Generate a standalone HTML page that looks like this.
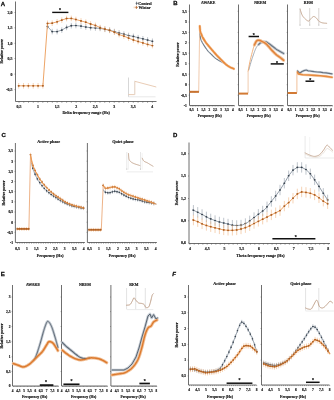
<!DOCTYPE html>
<html><head><meta charset="utf-8"><style>
html,body{margin:0;padding:0;background:#fff;}
body{width:334px;height:400px;overflow:hidden;}
svg{display:block;filter:blur(0.3px);}
</style></head><body>
<svg width="334" height="400" viewBox="0 0 334 400">
<rect width="334" height="400" fill="#fff"/>
<text x="0.8" y="5.7" font-family="Liberation Sans" font-size="6.0" font-weight="bold" font-style="normal" text-anchor="start" fill="#111" stroke="#111" stroke-width="0.3">A</text>
<line x1="15.5" y1="1.5" x2="15.5" y2="101.5" stroke="#4a4a4a" stroke-width="0.8" stroke-linecap="butt"/>
<line x1="14.5" y1="12.5" x2="15.5" y2="12.5" stroke="#4a4a4a" stroke-width="0.5" stroke-linecap="butt"/>
<text x="12.4" y="13.9" font-family="Liberation Serif" font-size="3.9" font-weight="bold" font-style="normal" text-anchor="end" fill="#151515" stroke="#151515" stroke-width="0.16">2,0</text>
<line x1="14.5" y1="27.8" x2="15.5" y2="27.8" stroke="#4a4a4a" stroke-width="0.5" stroke-linecap="butt"/>
<text x="12.4" y="29.2" font-family="Liberation Serif" font-size="3.9" font-weight="bold" font-style="normal" text-anchor="end" fill="#151515" stroke="#151515" stroke-width="0.16">1,5</text>
<line x1="14.5" y1="43.3" x2="15.5" y2="43.3" stroke="#4a4a4a" stroke-width="0.5" stroke-linecap="butt"/>
<text x="12.4" y="44.7" font-family="Liberation Serif" font-size="3.9" font-weight="bold" font-style="normal" text-anchor="end" fill="#151515" stroke="#151515" stroke-width="0.16">1,0</text>
<line x1="14.5" y1="58.5" x2="15.5" y2="58.5" stroke="#4a4a4a" stroke-width="0.5" stroke-linecap="butt"/>
<text x="12.4" y="59.9" font-family="Liberation Serif" font-size="3.9" font-weight="bold" font-style="normal" text-anchor="end" fill="#151515" stroke="#151515" stroke-width="0.16">0,5</text>
<line x1="14.5" y1="74.1" x2="15.5" y2="74.1" stroke="#4a4a4a" stroke-width="0.5" stroke-linecap="butt"/>
<text x="12.4" y="75.5" font-family="Liberation Serif" font-size="3.9" font-weight="bold" font-style="normal" text-anchor="end" fill="#151515" stroke="#151515" stroke-width="0.16">0</text>
<line x1="14.5" y1="89.6" x2="15.5" y2="89.6" stroke="#4a4a4a" stroke-width="0.5" stroke-linecap="butt"/>
<text x="12.4" y="91" font-family="Liberation Serif" font-size="3.9" font-weight="bold" font-style="normal" text-anchor="end" fill="#151515" stroke="#151515" stroke-width="0.16">-0,5</text>
<text x="3.2" y="51.3" font-family="Liberation Serif" font-size="3.8" font-weight="bold" font-style="normal" text-anchor="middle" fill="#151515" stroke="#151515" stroke-width="0.16" transform="rotate(-90 3.2 51.3)">Relative power</text>
<line x1="15.5" y1="101.5" x2="156.5" y2="101.5" stroke="#4a4a4a" stroke-width="0.8" stroke-linecap="butt"/>
<line x1="19" y1="101.5" x2="19" y2="102.8" stroke="#4a4a4a" stroke-width="0.5" stroke-linecap="butt"/>
<line x1="23.76" y1="101.5" x2="23.76" y2="102.8" stroke="#4a4a4a" stroke-width="0.5" stroke-linecap="butt"/>
<line x1="28.52" y1="101.5" x2="28.52" y2="102.8" stroke="#4a4a4a" stroke-width="0.5" stroke-linecap="butt"/>
<line x1="33.29" y1="101.5" x2="33.29" y2="102.8" stroke="#4a4a4a" stroke-width="0.5" stroke-linecap="butt"/>
<line x1="38.05" y1="101.5" x2="38.05" y2="102.8" stroke="#4a4a4a" stroke-width="0.5" stroke-linecap="butt"/>
<line x1="42.81" y1="101.5" x2="42.81" y2="102.8" stroke="#4a4a4a" stroke-width="0.5" stroke-linecap="butt"/>
<line x1="47.58" y1="101.5" x2="47.58" y2="102.8" stroke="#4a4a4a" stroke-width="0.5" stroke-linecap="butt"/>
<line x1="52.34" y1="101.5" x2="52.34" y2="102.8" stroke="#4a4a4a" stroke-width="0.5" stroke-linecap="butt"/>
<line x1="57.1" y1="101.5" x2="57.1" y2="102.8" stroke="#4a4a4a" stroke-width="0.5" stroke-linecap="butt"/>
<line x1="61.86" y1="101.5" x2="61.86" y2="102.8" stroke="#4a4a4a" stroke-width="0.5" stroke-linecap="butt"/>
<line x1="66.62" y1="101.5" x2="66.62" y2="102.8" stroke="#4a4a4a" stroke-width="0.5" stroke-linecap="butt"/>
<line x1="71.39" y1="101.5" x2="71.39" y2="102.8" stroke="#4a4a4a" stroke-width="0.5" stroke-linecap="butt"/>
<line x1="76.15" y1="101.5" x2="76.15" y2="102.8" stroke="#4a4a4a" stroke-width="0.5" stroke-linecap="butt"/>
<line x1="80.91" y1="101.5" x2="80.91" y2="102.8" stroke="#4a4a4a" stroke-width="0.5" stroke-linecap="butt"/>
<line x1="85.67" y1="101.5" x2="85.67" y2="102.8" stroke="#4a4a4a" stroke-width="0.5" stroke-linecap="butt"/>
<line x1="90.44" y1="101.5" x2="90.44" y2="102.8" stroke="#4a4a4a" stroke-width="0.5" stroke-linecap="butt"/>
<line x1="95.2" y1="101.5" x2="95.2" y2="102.8" stroke="#4a4a4a" stroke-width="0.5" stroke-linecap="butt"/>
<line x1="99.96" y1="101.5" x2="99.96" y2="102.8" stroke="#4a4a4a" stroke-width="0.5" stroke-linecap="butt"/>
<line x1="104.73" y1="101.5" x2="104.73" y2="102.8" stroke="#4a4a4a" stroke-width="0.5" stroke-linecap="butt"/>
<line x1="109.49" y1="101.5" x2="109.49" y2="102.8" stroke="#4a4a4a" stroke-width="0.5" stroke-linecap="butt"/>
<line x1="114.25" y1="101.5" x2="114.25" y2="102.8" stroke="#4a4a4a" stroke-width="0.5" stroke-linecap="butt"/>
<line x1="119.01" y1="101.5" x2="119.01" y2="102.8" stroke="#4a4a4a" stroke-width="0.5" stroke-linecap="butt"/>
<line x1="123.78" y1="101.5" x2="123.78" y2="102.8" stroke="#4a4a4a" stroke-width="0.5" stroke-linecap="butt"/>
<line x1="128.54" y1="101.5" x2="128.54" y2="102.8" stroke="#4a4a4a" stroke-width="0.5" stroke-linecap="butt"/>
<line x1="133.3" y1="101.5" x2="133.3" y2="102.8" stroke="#4a4a4a" stroke-width="0.5" stroke-linecap="butt"/>
<line x1="138.06" y1="101.5" x2="138.06" y2="102.8" stroke="#4a4a4a" stroke-width="0.5" stroke-linecap="butt"/>
<line x1="142.82" y1="101.5" x2="142.82" y2="102.8" stroke="#4a4a4a" stroke-width="0.5" stroke-linecap="butt"/>
<line x1="147.59" y1="101.5" x2="147.59" y2="102.8" stroke="#4a4a4a" stroke-width="0.5" stroke-linecap="butt"/>
<line x1="152.35" y1="101.5" x2="152.35" y2="102.8" stroke="#4a4a4a" stroke-width="0.5" stroke-linecap="butt"/>
<text x="19" y="107.55" font-family="Liberation Serif" font-size="3.9" font-weight="bold" font-style="normal" text-anchor="middle" fill="#151515" stroke="#151515" stroke-width="0.16">0,5</text>
<text x="38.05" y="107.55" font-family="Liberation Serif" font-size="3.9" font-weight="bold" font-style="normal" text-anchor="middle" fill="#151515" stroke="#151515" stroke-width="0.16">1</text>
<text x="57.1" y="107.55" font-family="Liberation Serif" font-size="3.9" font-weight="bold" font-style="normal" text-anchor="middle" fill="#151515" stroke="#151515" stroke-width="0.16">1,5</text>
<text x="76.15" y="107.55" font-family="Liberation Serif" font-size="3.9" font-weight="bold" font-style="normal" text-anchor="middle" fill="#151515" stroke="#151515" stroke-width="0.16">2</text>
<text x="95.2" y="107.55" font-family="Liberation Serif" font-size="3.9" font-weight="bold" font-style="normal" text-anchor="middle" fill="#151515" stroke="#151515" stroke-width="0.16">2,5</text>
<text x="114.25" y="107.55" font-family="Liberation Serif" font-size="3.9" font-weight="bold" font-style="normal" text-anchor="middle" fill="#151515" stroke="#151515" stroke-width="0.16">3</text>
<text x="133.3" y="107.55" font-family="Liberation Serif" font-size="3.9" font-weight="bold" font-style="normal" text-anchor="middle" fill="#151515" stroke="#151515" stroke-width="0.16">3,5</text>
<text x="152.35" y="107.55" font-family="Liberation Serif" font-size="3.9" font-weight="bold" font-style="normal" text-anchor="middle" fill="#151515" stroke="#151515" stroke-width="0.16">4</text>
<text x="86.2" y="114" font-family="Liberation Serif" font-size="4.1" font-weight="bold" font-style="normal" text-anchor="middle" fill="#151515" stroke="#151515" stroke-width="0.16">Delta frequency range (Hz)</text>
<line x1="47.5" y1="23.6" x2="47.5" y2="29.2" stroke="#8a95a1" stroke-width="0.55" stroke-linecap="butt"/>
<line x1="52.2" y1="28.8" x2="52.2" y2="34.4" stroke="#8a95a1" stroke-width="0.55" stroke-linecap="butt"/>
<line x1="57.1" y1="28.8" x2="57.1" y2="34.4" stroke="#8a95a1" stroke-width="0.55" stroke-linecap="butt"/>
<line x1="61.8" y1="27.3" x2="61.8" y2="32.9" stroke="#8a95a1" stroke-width="0.55" stroke-linecap="butt"/>
<line x1="66.6" y1="24.6" x2="66.6" y2="30.2" stroke="#8a95a1" stroke-width="0.55" stroke-linecap="butt"/>
<line x1="71.3" y1="22.9" x2="71.3" y2="28.5" stroke="#8a95a1" stroke-width="0.55" stroke-linecap="butt"/>
<line x1="75.9" y1="22.7" x2="75.9" y2="28.3" stroke="#8a95a1" stroke-width="0.55" stroke-linecap="butt"/>
<line x1="81" y1="23.3" x2="81" y2="28.9" stroke="#8a95a1" stroke-width="0.55" stroke-linecap="butt"/>
<line x1="85.8" y1="24.2" x2="85.8" y2="29.8" stroke="#8a95a1" stroke-width="0.55" stroke-linecap="butt"/>
<line x1="90.6" y1="24.9" x2="90.6" y2="30.5" stroke="#8a95a1" stroke-width="0.55" stroke-linecap="butt"/>
<line x1="95.4" y1="25.2" x2="95.4" y2="30.8" stroke="#8a95a1" stroke-width="0.55" stroke-linecap="butt"/>
<line x1="100.1" y1="25.6" x2="100.1" y2="31.2" stroke="#8a95a1" stroke-width="0.55" stroke-linecap="butt"/>
<line x1="104.9" y1="26.5" x2="104.9" y2="32.1" stroke="#8a95a1" stroke-width="0.55" stroke-linecap="butt"/>
<line x1="109.6" y1="27.4" x2="109.6" y2="33" stroke="#8a95a1" stroke-width="0.55" stroke-linecap="butt"/>
<line x1="114.4" y1="28.8" x2="114.4" y2="34.4" stroke="#8a95a1" stroke-width="0.55" stroke-linecap="butt"/>
<line x1="119.1" y1="30.1" x2="119.1" y2="35.7" stroke="#8a95a1" stroke-width="0.55" stroke-linecap="butt"/>
<line x1="123.9" y1="31.3" x2="123.9" y2="36.9" stroke="#8a95a1" stroke-width="0.55" stroke-linecap="butt"/>
<line x1="128.6" y1="32.7" x2="128.6" y2="38.3" stroke="#8a95a1" stroke-width="0.55" stroke-linecap="butt"/>
<line x1="133.4" y1="33.6" x2="133.4" y2="39.2" stroke="#8a95a1" stroke-width="0.55" stroke-linecap="butt"/>
<line x1="138.1" y1="34.9" x2="138.1" y2="40.5" stroke="#8a95a1" stroke-width="0.55" stroke-linecap="butt"/>
<line x1="142.9" y1="36" x2="142.9" y2="41.6" stroke="#8a95a1" stroke-width="0.55" stroke-linecap="butt"/>
<line x1="147.6" y1="37.2" x2="147.6" y2="42.8" stroke="#8a95a1" stroke-width="0.55" stroke-linecap="butt"/>
<line x1="152.4" y1="38.5" x2="152.4" y2="44.1" stroke="#8a95a1" stroke-width="0.55" stroke-linecap="butt"/>
<polyline fill="none" stroke="#7f8b98" stroke-width="0.8" stroke-linejoin="round" stroke-linecap="round" points="47.5,26.4 52.2,31.6 57.1,31.6 61.8,30.1 66.6,27.4 71.3,25.7 75.9,25.5 81,26.1 85.8,27 90.6,27.7 95.4,28 100.1,28.4 104.9,29.3 109.6,30.2 114.4,31.6 119.1,32.9 123.9,34.1 128.6,35.5 133.4,36.4 138.1,37.7 142.9,38.8 147.6,40 152.4,41.3"/>
<line x1="46.5" y1="26.4" x2="48.5" y2="26.4" stroke="#36404b" stroke-width="0.55" stroke-linecap="butt"/>
<line x1="51.2" y1="31.6" x2="53.2" y2="31.6" stroke="#36404b" stroke-width="0.55" stroke-linecap="butt"/>
<line x1="56.1" y1="31.6" x2="58.1" y2="31.6" stroke="#36404b" stroke-width="0.55" stroke-linecap="butt"/>
<line x1="60.8" y1="30.1" x2="62.8" y2="30.1" stroke="#36404b" stroke-width="0.55" stroke-linecap="butt"/>
<line x1="65.6" y1="27.4" x2="67.6" y2="27.4" stroke="#36404b" stroke-width="0.55" stroke-linecap="butt"/>
<line x1="70.3" y1="25.7" x2="72.3" y2="25.7" stroke="#36404b" stroke-width="0.55" stroke-linecap="butt"/>
<line x1="74.9" y1="25.5" x2="76.9" y2="25.5" stroke="#36404b" stroke-width="0.55" stroke-linecap="butt"/>
<line x1="80" y1="26.1" x2="82" y2="26.1" stroke="#36404b" stroke-width="0.55" stroke-linecap="butt"/>
<line x1="84.8" y1="27" x2="86.8" y2="27" stroke="#36404b" stroke-width="0.55" stroke-linecap="butt"/>
<line x1="89.6" y1="27.7" x2="91.6" y2="27.7" stroke="#36404b" stroke-width="0.55" stroke-linecap="butt"/>
<line x1="94.4" y1="28" x2="96.4" y2="28" stroke="#36404b" stroke-width="0.55" stroke-linecap="butt"/>
<line x1="99.1" y1="28.4" x2="101.1" y2="28.4" stroke="#36404b" stroke-width="0.55" stroke-linecap="butt"/>
<line x1="103.9" y1="29.3" x2="105.9" y2="29.3" stroke="#36404b" stroke-width="0.55" stroke-linecap="butt"/>
<line x1="108.6" y1="30.2" x2="110.6" y2="30.2" stroke="#36404b" stroke-width="0.55" stroke-linecap="butt"/>
<line x1="113.4" y1="31.6" x2="115.4" y2="31.6" stroke="#36404b" stroke-width="0.55" stroke-linecap="butt"/>
<line x1="118.1" y1="32.9" x2="120.1" y2="32.9" stroke="#36404b" stroke-width="0.55" stroke-linecap="butt"/>
<line x1="122.9" y1="34.1" x2="124.9" y2="34.1" stroke="#36404b" stroke-width="0.55" stroke-linecap="butt"/>
<line x1="127.6" y1="35.5" x2="129.6" y2="35.5" stroke="#36404b" stroke-width="0.55" stroke-linecap="butt"/>
<line x1="132.4" y1="36.4" x2="134.4" y2="36.4" stroke="#36404b" stroke-width="0.55" stroke-linecap="butt"/>
<line x1="137.1" y1="37.7" x2="139.1" y2="37.7" stroke="#36404b" stroke-width="0.55" stroke-linecap="butt"/>
<line x1="141.9" y1="38.8" x2="143.9" y2="38.8" stroke="#36404b" stroke-width="0.55" stroke-linecap="butt"/>
<line x1="146.6" y1="40" x2="148.6" y2="40" stroke="#36404b" stroke-width="0.55" stroke-linecap="butt"/>
<line x1="151.4" y1="41.3" x2="153.4" y2="41.3" stroke="#36404b" stroke-width="0.55" stroke-linecap="butt"/>
<circle cx="47.5" cy="26.4" r="0.85" fill="#36404b"/>
<circle cx="52.2" cy="31.6" r="0.85" fill="#36404b"/>
<circle cx="57.1" cy="31.6" r="0.85" fill="#36404b"/>
<circle cx="61.8" cy="30.1" r="0.85" fill="#36404b"/>
<circle cx="66.6" cy="27.4" r="0.85" fill="#36404b"/>
<circle cx="71.3" cy="25.7" r="0.85" fill="#36404b"/>
<circle cx="75.9" cy="25.5" r="0.85" fill="#36404b"/>
<circle cx="81" cy="26.1" r="0.85" fill="#36404b"/>
<circle cx="85.8" cy="27" r="0.85" fill="#36404b"/>
<circle cx="90.6" cy="27.7" r="0.85" fill="#36404b"/>
<circle cx="95.4" cy="28" r="0.85" fill="#36404b"/>
<circle cx="100.1" cy="28.4" r="0.85" fill="#36404b"/>
<circle cx="104.9" cy="29.3" r="0.85" fill="#36404b"/>
<circle cx="109.6" cy="30.2" r="0.85" fill="#36404b"/>
<circle cx="114.4" cy="31.6" r="0.85" fill="#36404b"/>
<circle cx="119.1" cy="32.9" r="0.85" fill="#36404b"/>
<circle cx="123.9" cy="34.1" r="0.85" fill="#36404b"/>
<circle cx="128.6" cy="35.5" r="0.85" fill="#36404b"/>
<circle cx="133.4" cy="36.4" r="0.85" fill="#36404b"/>
<circle cx="138.1" cy="37.7" r="0.85" fill="#36404b"/>
<circle cx="142.9" cy="38.8" r="0.85" fill="#36404b"/>
<circle cx="147.6" cy="40" r="0.85" fill="#36404b"/>
<circle cx="152.4" cy="41.3" r="0.85" fill="#36404b"/>
<line x1="18.7" y1="83" x2="18.7" y2="88.6" stroke="#eeae78" stroke-width="0.55" stroke-linecap="butt"/>
<line x1="23.54" y1="83" x2="23.54" y2="88.6" stroke="#eeae78" stroke-width="0.55" stroke-linecap="butt"/>
<line x1="28.38" y1="83" x2="28.38" y2="88.6" stroke="#eeae78" stroke-width="0.55" stroke-linecap="butt"/>
<line x1="33.22" y1="83" x2="33.22" y2="88.6" stroke="#eeae78" stroke-width="0.55" stroke-linecap="butt"/>
<line x1="38.06" y1="83" x2="38.06" y2="88.6" stroke="#eeae78" stroke-width="0.55" stroke-linecap="butt"/>
<line x1="42.9" y1="83" x2="42.9" y2="88.6" stroke="#eeae78" stroke-width="0.55" stroke-linecap="butt"/>
<line x1="47.5" y1="20.6" x2="47.5" y2="26.2" stroke="#eeae78" stroke-width="0.55" stroke-linecap="butt"/>
<line x1="52.2" y1="20.4" x2="52.2" y2="26" stroke="#eeae78" stroke-width="0.55" stroke-linecap="butt"/>
<line x1="57.1" y1="19" x2="57.1" y2="24.6" stroke="#eeae78" stroke-width="0.55" stroke-linecap="butt"/>
<line x1="61.8" y1="17.3" x2="61.8" y2="22.9" stroke="#eeae78" stroke-width="0.55" stroke-linecap="butt"/>
<line x1="66.6" y1="15.7" x2="66.6" y2="21.3" stroke="#eeae78" stroke-width="0.55" stroke-linecap="butt"/>
<line x1="71.3" y1="15.6" x2="71.3" y2="21.2" stroke="#eeae78" stroke-width="0.55" stroke-linecap="butt"/>
<line x1="75.9" y1="16.7" x2="75.9" y2="22.3" stroke="#eeae78" stroke-width="0.55" stroke-linecap="butt"/>
<line x1="81" y1="18.1" x2="81" y2="23.7" stroke="#eeae78" stroke-width="0.55" stroke-linecap="butt"/>
<line x1="85.8" y1="19.4" x2="85.8" y2="25" stroke="#eeae78" stroke-width="0.55" stroke-linecap="butt"/>
<line x1="90.6" y1="21.2" x2="90.6" y2="26.8" stroke="#eeae78" stroke-width="0.55" stroke-linecap="butt"/>
<line x1="95.4" y1="22.6" x2="95.4" y2="28.2" stroke="#eeae78" stroke-width="0.55" stroke-linecap="butt"/>
<line x1="100.1" y1="24.8" x2="100.1" y2="30.4" stroke="#eeae78" stroke-width="0.55" stroke-linecap="butt"/>
<line x1="104.9" y1="26.3" x2="104.9" y2="31.9" stroke="#eeae78" stroke-width="0.55" stroke-linecap="butt"/>
<line x1="109.6" y1="27.6" x2="109.6" y2="33.2" stroke="#eeae78" stroke-width="0.55" stroke-linecap="butt"/>
<line x1="114.4" y1="29.4" x2="114.4" y2="35" stroke="#eeae78" stroke-width="0.55" stroke-linecap="butt"/>
<line x1="119.1" y1="31.8" x2="119.1" y2="37.4" stroke="#eeae78" stroke-width="0.55" stroke-linecap="butt"/>
<line x1="123.9" y1="33.3" x2="123.9" y2="38.9" stroke="#eeae78" stroke-width="0.55" stroke-linecap="butt"/>
<line x1="128.6" y1="35.3" x2="128.6" y2="40.9" stroke="#eeae78" stroke-width="0.55" stroke-linecap="butt"/>
<line x1="133.4" y1="37.2" x2="133.4" y2="42.8" stroke="#eeae78" stroke-width="0.55" stroke-linecap="butt"/>
<line x1="138.1" y1="38.7" x2="138.1" y2="44.3" stroke="#eeae78" stroke-width="0.55" stroke-linecap="butt"/>
<line x1="142.9" y1="40.1" x2="142.9" y2="45.7" stroke="#eeae78" stroke-width="0.55" stroke-linecap="butt"/>
<line x1="147.6" y1="41.6" x2="147.6" y2="47.2" stroke="#eeae78" stroke-width="0.55" stroke-linecap="butt"/>
<line x1="152.4" y1="42.8" x2="152.4" y2="48.4" stroke="#eeae78" stroke-width="0.55" stroke-linecap="butt"/>
<polyline fill="none" stroke="#eb9a55" stroke-width="0.9" stroke-linejoin="round" stroke-linecap="round" points="18.7,85.8 23.54,85.8 28.38,85.8 33.22,85.8 38.06,85.8 42.9,85.8 47.5,23.4 52.2,23.2 57.1,21.8 61.8,20.1 66.6,18.5 71.3,18.4 75.9,19.5 81,20.9 85.8,22.2 90.6,24 95.4,25.4 100.1,27.6 104.9,29.1 109.6,30.4 114.4,32.2 119.1,34.6 123.9,36.1 128.6,38.1 133.4,40 138.1,41.5 142.9,42.9 147.6,44.4 152.4,45.6"/>
<line x1="17.7" y1="85.8" x2="19.7" y2="85.8" stroke="#a85c22" stroke-width="0.55" stroke-linecap="butt"/>
<line x1="22.54" y1="85.8" x2="24.54" y2="85.8" stroke="#a85c22" stroke-width="0.55" stroke-linecap="butt"/>
<line x1="27.38" y1="85.8" x2="29.38" y2="85.8" stroke="#a85c22" stroke-width="0.55" stroke-linecap="butt"/>
<line x1="32.22" y1="85.8" x2="34.22" y2="85.8" stroke="#a85c22" stroke-width="0.55" stroke-linecap="butt"/>
<line x1="37.06" y1="85.8" x2="39.06" y2="85.8" stroke="#a85c22" stroke-width="0.55" stroke-linecap="butt"/>
<line x1="41.9" y1="85.8" x2="43.9" y2="85.8" stroke="#a85c22" stroke-width="0.55" stroke-linecap="butt"/>
<line x1="46.5" y1="23.4" x2="48.5" y2="23.4" stroke="#a85c22" stroke-width="0.55" stroke-linecap="butt"/>
<line x1="51.2" y1="23.2" x2="53.2" y2="23.2" stroke="#a85c22" stroke-width="0.55" stroke-linecap="butt"/>
<line x1="56.1" y1="21.8" x2="58.1" y2="21.8" stroke="#a85c22" stroke-width="0.55" stroke-linecap="butt"/>
<line x1="60.8" y1="20.1" x2="62.8" y2="20.1" stroke="#a85c22" stroke-width="0.55" stroke-linecap="butt"/>
<line x1="65.6" y1="18.5" x2="67.6" y2="18.5" stroke="#a85c22" stroke-width="0.55" stroke-linecap="butt"/>
<line x1="70.3" y1="18.4" x2="72.3" y2="18.4" stroke="#a85c22" stroke-width="0.55" stroke-linecap="butt"/>
<line x1="74.9" y1="19.5" x2="76.9" y2="19.5" stroke="#a85c22" stroke-width="0.55" stroke-linecap="butt"/>
<line x1="80" y1="20.9" x2="82" y2="20.9" stroke="#a85c22" stroke-width="0.55" stroke-linecap="butt"/>
<line x1="84.8" y1="22.2" x2="86.8" y2="22.2" stroke="#a85c22" stroke-width="0.55" stroke-linecap="butt"/>
<line x1="89.6" y1="24" x2="91.6" y2="24" stroke="#a85c22" stroke-width="0.55" stroke-linecap="butt"/>
<line x1="94.4" y1="25.4" x2="96.4" y2="25.4" stroke="#a85c22" stroke-width="0.55" stroke-linecap="butt"/>
<line x1="99.1" y1="27.6" x2="101.1" y2="27.6" stroke="#a85c22" stroke-width="0.55" stroke-linecap="butt"/>
<line x1="103.9" y1="29.1" x2="105.9" y2="29.1" stroke="#a85c22" stroke-width="0.55" stroke-linecap="butt"/>
<line x1="108.6" y1="30.4" x2="110.6" y2="30.4" stroke="#a85c22" stroke-width="0.55" stroke-linecap="butt"/>
<line x1="113.4" y1="32.2" x2="115.4" y2="32.2" stroke="#a85c22" stroke-width="0.55" stroke-linecap="butt"/>
<line x1="118.1" y1="34.6" x2="120.1" y2="34.6" stroke="#a85c22" stroke-width="0.55" stroke-linecap="butt"/>
<line x1="122.9" y1="36.1" x2="124.9" y2="36.1" stroke="#a85c22" stroke-width="0.55" stroke-linecap="butt"/>
<line x1="127.6" y1="38.1" x2="129.6" y2="38.1" stroke="#a85c22" stroke-width="0.55" stroke-linecap="butt"/>
<line x1="132.4" y1="40" x2="134.4" y2="40" stroke="#a85c22" stroke-width="0.55" stroke-linecap="butt"/>
<line x1="137.1" y1="41.5" x2="139.1" y2="41.5" stroke="#a85c22" stroke-width="0.55" stroke-linecap="butt"/>
<line x1="141.9" y1="42.9" x2="143.9" y2="42.9" stroke="#a85c22" stroke-width="0.55" stroke-linecap="butt"/>
<line x1="146.6" y1="44.4" x2="148.6" y2="44.4" stroke="#a85c22" stroke-width="0.55" stroke-linecap="butt"/>
<line x1="151.4" y1="45.6" x2="153.4" y2="45.6" stroke="#a85c22" stroke-width="0.55" stroke-linecap="butt"/>
<circle cx="18.7" cy="85.8" r="0.9" fill="#a85c22"/>
<circle cx="23.54" cy="85.8" r="0.9" fill="#a85c22"/>
<circle cx="28.38" cy="85.8" r="0.9" fill="#a85c22"/>
<circle cx="33.22" cy="85.8" r="0.9" fill="#a85c22"/>
<circle cx="38.06" cy="85.8" r="0.9" fill="#a85c22"/>
<circle cx="42.9" cy="85.8" r="0.9" fill="#a85c22"/>
<circle cx="47.5" cy="23.4" r="0.9" fill="#a85c22"/>
<circle cx="52.2" cy="23.2" r="0.9" fill="#a85c22"/>
<circle cx="57.1" cy="21.8" r="0.9" fill="#a85c22"/>
<circle cx="61.8" cy="20.1" r="0.9" fill="#a85c22"/>
<circle cx="66.6" cy="18.5" r="0.9" fill="#a85c22"/>
<circle cx="71.3" cy="18.4" r="0.9" fill="#a85c22"/>
<circle cx="75.9" cy="19.5" r="0.9" fill="#a85c22"/>
<circle cx="81" cy="20.9" r="0.9" fill="#a85c22"/>
<circle cx="85.8" cy="22.2" r="0.9" fill="#a85c22"/>
<circle cx="90.6" cy="24" r="0.9" fill="#a85c22"/>
<circle cx="95.4" cy="25.4" r="0.9" fill="#a85c22"/>
<circle cx="100.1" cy="27.6" r="0.9" fill="#a85c22"/>
<circle cx="104.9" cy="29.1" r="0.9" fill="#a85c22"/>
<circle cx="109.6" cy="30.4" r="0.9" fill="#a85c22"/>
<circle cx="114.4" cy="32.2" r="0.9" fill="#a85c22"/>
<circle cx="119.1" cy="34.6" r="0.9" fill="#a85c22"/>
<circle cx="123.9" cy="36.1" r="0.9" fill="#a85c22"/>
<circle cx="128.6" cy="38.1" r="0.9" fill="#a85c22"/>
<circle cx="133.4" cy="40" r="0.9" fill="#a85c22"/>
<circle cx="138.1" cy="41.5" r="0.9" fill="#a85c22"/>
<circle cx="142.9" cy="42.9" r="0.9" fill="#a85c22"/>
<circle cx="147.6" cy="44.4" r="0.9" fill="#a85c22"/>
<circle cx="152.4" cy="45.6" r="0.9" fill="#a85c22"/>
<line x1="52.2" y1="12.4" x2="68.4" y2="12.4" stroke="#111" stroke-width="1.4" stroke-linecap="butt"/>
<text x="60.1" y="11.9" font-family="Liberation Sans" font-size="5" font-weight="bold" font-style="normal" text-anchor="middle" fill="#111" stroke="#111" stroke-width="0.16">*</text>
<line x1="136.5" y1="1.7" x2="136.5" y2="5" stroke="#3d4753" stroke-width="0.6" stroke-linecap="butt"/>
<line x1="135.6" y1="3.3" x2="138.2" y2="3.3" stroke="#3d4753" stroke-width="0.7" stroke-linecap="butt"/>
<text x="138.2" y="4.7" font-family="Liberation Serif" font-size="4.1" font-weight="bold" font-style="normal" text-anchor="start" fill="#151515" stroke="#151515" stroke-width="0.16">Control</text>
<line x1="133.5" y1="7.4" x2="135.8" y2="7.4" stroke="#f6dcc6" stroke-width="1.6" stroke-linecap="butt"/>
<line x1="136.4" y1="5.8" x2="136.4" y2="9" stroke="#b4652a" stroke-width="0.8" stroke-linecap="butt"/>
<line x1="135.5" y1="7.4" x2="137.8" y2="7.4" stroke="#b4652a" stroke-width="0.8" stroke-linecap="butt"/>
<text x="138.6" y="8.9" font-family="Liberation Serif" font-size="4.1" font-weight="bold" font-style="normal" text-anchor="start" fill="#151515" stroke="#151515" stroke-width="0.16">Wistar</text>
<line x1="128.5" y1="77.5" x2="128.5" y2="96.8" stroke="#c6c6c6" stroke-width="0.7" stroke-linecap="butt"/>
<line x1="128.5" y1="96.8" x2="155.5" y2="96.8" stroke="#d9d9d9" stroke-width="0.6" stroke-linecap="butt"/>
<polyline fill="none" stroke="#e6c6ad" stroke-width="0.9" stroke-linejoin="round" stroke-linecap="round" points="128.8,94.6 134.8,94.6 134.8,81.3 155.9,86.9"/>
<line x1="134.5" y1="80.5" x2="134.5" y2="95" stroke="#dedede" stroke-width="0.4" stroke-linecap="butt"/>
<text x="173.2" y="5.4" font-family="Liberation Sans" font-size="6.0" font-weight="bold" font-style="normal" text-anchor="start" fill="#111" stroke="#111" stroke-width="0.3">B</text>
<line x1="189.5" y1="4.5" x2="189.5" y2="105.5" stroke="#4a4a4a" stroke-width="0.8" stroke-linecap="butt"/>
<line x1="188.6" y1="11.25" x2="189.5" y2="11.25" stroke="#4a4a4a" stroke-width="0.45" stroke-linecap="butt"/>
<line x1="188.6" y1="22" x2="189.5" y2="22" stroke="#4a4a4a" stroke-width="0.45" stroke-linecap="butt"/>
<line x1="188.6" y1="32.4" x2="189.5" y2="32.4" stroke="#4a4a4a" stroke-width="0.45" stroke-linecap="butt"/>
<line x1="188.6" y1="42.8" x2="189.5" y2="42.8" stroke="#4a4a4a" stroke-width="0.45" stroke-linecap="butt"/>
<line x1="188.6" y1="53.2" x2="189.5" y2="53.2" stroke="#4a4a4a" stroke-width="0.45" stroke-linecap="butt"/>
<line x1="188.6" y1="63.7" x2="189.5" y2="63.7" stroke="#4a4a4a" stroke-width="0.45" stroke-linecap="butt"/>
<line x1="188.6" y1="74.2" x2="189.5" y2="74.2" stroke="#4a4a4a" stroke-width="0.45" stroke-linecap="butt"/>
<line x1="188.6" y1="84.7" x2="189.5" y2="84.7" stroke="#4a4a4a" stroke-width="0.45" stroke-linecap="butt"/>
<line x1="188.6" y1="95.2" x2="189.5" y2="95.2" stroke="#4a4a4a" stroke-width="0.45" stroke-linecap="butt"/>
<line x1="238.5" y1="4.5" x2="238.5" y2="105.5" stroke="#4a4a4a" stroke-width="0.8" stroke-linecap="butt"/>
<line x1="237.6" y1="11.25" x2="238.5" y2="11.25" stroke="#4a4a4a" stroke-width="0.45" stroke-linecap="butt"/>
<line x1="237.6" y1="22" x2="238.5" y2="22" stroke="#4a4a4a" stroke-width="0.45" stroke-linecap="butt"/>
<line x1="237.6" y1="32.4" x2="238.5" y2="32.4" stroke="#4a4a4a" stroke-width="0.45" stroke-linecap="butt"/>
<line x1="237.6" y1="42.8" x2="238.5" y2="42.8" stroke="#4a4a4a" stroke-width="0.45" stroke-linecap="butt"/>
<line x1="237.6" y1="53.2" x2="238.5" y2="53.2" stroke="#4a4a4a" stroke-width="0.45" stroke-linecap="butt"/>
<line x1="237.6" y1="63.7" x2="238.5" y2="63.7" stroke="#4a4a4a" stroke-width="0.45" stroke-linecap="butt"/>
<line x1="237.6" y1="74.2" x2="238.5" y2="74.2" stroke="#4a4a4a" stroke-width="0.45" stroke-linecap="butt"/>
<line x1="237.6" y1="84.7" x2="238.5" y2="84.7" stroke="#4a4a4a" stroke-width="0.45" stroke-linecap="butt"/>
<line x1="237.6" y1="95.2" x2="238.5" y2="95.2" stroke="#4a4a4a" stroke-width="0.45" stroke-linecap="butt"/>
<line x1="287.5" y1="4.5" x2="287.5" y2="105.5" stroke="#4a4a4a" stroke-width="0.8" stroke-linecap="butt"/>
<line x1="286.6" y1="11.25" x2="287.5" y2="11.25" stroke="#4a4a4a" stroke-width="0.45" stroke-linecap="butt"/>
<line x1="286.6" y1="22" x2="287.5" y2="22" stroke="#4a4a4a" stroke-width="0.45" stroke-linecap="butt"/>
<line x1="286.6" y1="32.4" x2="287.5" y2="32.4" stroke="#4a4a4a" stroke-width="0.45" stroke-linecap="butt"/>
<line x1="286.6" y1="42.8" x2="287.5" y2="42.8" stroke="#4a4a4a" stroke-width="0.45" stroke-linecap="butt"/>
<line x1="286.6" y1="53.2" x2="287.5" y2="53.2" stroke="#4a4a4a" stroke-width="0.45" stroke-linecap="butt"/>
<line x1="286.6" y1="63.7" x2="287.5" y2="63.7" stroke="#4a4a4a" stroke-width="0.45" stroke-linecap="butt"/>
<line x1="286.6" y1="74.2" x2="287.5" y2="74.2" stroke="#4a4a4a" stroke-width="0.45" stroke-linecap="butt"/>
<line x1="286.6" y1="84.7" x2="287.5" y2="84.7" stroke="#4a4a4a" stroke-width="0.45" stroke-linecap="butt"/>
<line x1="286.6" y1="95.2" x2="287.5" y2="95.2" stroke="#4a4a4a" stroke-width="0.45" stroke-linecap="butt"/>
<text x="186.8" y="12.55" font-family="Liberation Serif" font-size="3.6" font-weight="bold" font-style="normal" text-anchor="end" fill="#151515" stroke="#151515" stroke-width="0.16">3,5</text>
<text x="186.8" y="23.3" font-family="Liberation Serif" font-size="3.6" font-weight="bold" font-style="normal" text-anchor="end" fill="#151515" stroke="#151515" stroke-width="0.16">3</text>
<text x="186.8" y="33.7" font-family="Liberation Serif" font-size="3.6" font-weight="bold" font-style="normal" text-anchor="end" fill="#151515" stroke="#151515" stroke-width="0.16">2,5</text>
<text x="186.8" y="44.1" font-family="Liberation Serif" font-size="3.6" font-weight="bold" font-style="normal" text-anchor="end" fill="#151515" stroke="#151515" stroke-width="0.16">2</text>
<text x="186.8" y="54.5" font-family="Liberation Serif" font-size="3.6" font-weight="bold" font-style="normal" text-anchor="end" fill="#151515" stroke="#151515" stroke-width="0.16">1,5</text>
<text x="186.8" y="65" font-family="Liberation Serif" font-size="3.6" font-weight="bold" font-style="normal" text-anchor="end" fill="#151515" stroke="#151515" stroke-width="0.16">1</text>
<text x="186.8" y="75.5" font-family="Liberation Serif" font-size="3.6" font-weight="bold" font-style="normal" text-anchor="end" fill="#151515" stroke="#151515" stroke-width="0.16">0,5</text>
<text x="186.8" y="86" font-family="Liberation Serif" font-size="3.6" font-weight="bold" font-style="normal" text-anchor="end" fill="#151515" stroke="#151515" stroke-width="0.16">0</text>
<text x="186.8" y="96.5" font-family="Liberation Serif" font-size="3.6" font-weight="bold" font-style="normal" text-anchor="end" fill="#151515" stroke="#151515" stroke-width="0.16">-0,5</text>
<text x="186.8" y="106.8" font-family="Liberation Serif" font-size="3.6" font-weight="bold" font-style="normal" text-anchor="end" fill="#151515" stroke="#151515" stroke-width="0.16">-1</text>
<text x="179" y="54.5" font-family="Liberation Serif" font-size="3.8" font-weight="bold" font-style="normal" text-anchor="middle" fill="#151515" stroke="#151515" stroke-width="0.16" transform="rotate(-90 179 54.5)">Relative power</text>
<text x="208.2" y="4" font-family="Liberation Serif" font-size="3.9" font-weight="bold" font-style="normal" text-anchor="middle" fill="#151515" stroke="#151515" stroke-width="0.16">AWAKE</text>
<line x1="189.5" y1="105.5" x2="234.5" y2="105.5" stroke="#4a4a4a" stroke-width="0.8" stroke-linecap="butt"/>
<line x1="190.8" y1="105.5" x2="190.8" y2="106.6" stroke="#4a4a4a" stroke-width="0.45" stroke-linecap="butt"/>
<line x1="192.36" y1="105.5" x2="192.36" y2="106.6" stroke="#4a4a4a" stroke-width="0.45" stroke-linecap="butt"/>
<line x1="193.91" y1="105.5" x2="193.91" y2="106.6" stroke="#4a4a4a" stroke-width="0.45" stroke-linecap="butt"/>
<line x1="195.47" y1="105.5" x2="195.47" y2="106.6" stroke="#4a4a4a" stroke-width="0.45" stroke-linecap="butt"/>
<line x1="197.02" y1="105.5" x2="197.02" y2="106.6" stroke="#4a4a4a" stroke-width="0.45" stroke-linecap="butt"/>
<line x1="198.58" y1="105.5" x2="198.58" y2="106.6" stroke="#4a4a4a" stroke-width="0.45" stroke-linecap="butt"/>
<line x1="200.13" y1="105.5" x2="200.13" y2="106.6" stroke="#4a4a4a" stroke-width="0.45" stroke-linecap="butt"/>
<line x1="201.69" y1="105.5" x2="201.69" y2="106.6" stroke="#4a4a4a" stroke-width="0.45" stroke-linecap="butt"/>
<line x1="203.24" y1="105.5" x2="203.24" y2="106.6" stroke="#4a4a4a" stroke-width="0.45" stroke-linecap="butt"/>
<line x1="204.8" y1="105.5" x2="204.8" y2="106.6" stroke="#4a4a4a" stroke-width="0.45" stroke-linecap="butt"/>
<line x1="206.35" y1="105.5" x2="206.35" y2="106.6" stroke="#4a4a4a" stroke-width="0.45" stroke-linecap="butt"/>
<line x1="207.91" y1="105.5" x2="207.91" y2="106.6" stroke="#4a4a4a" stroke-width="0.45" stroke-linecap="butt"/>
<line x1="209.46" y1="105.5" x2="209.46" y2="106.6" stroke="#4a4a4a" stroke-width="0.45" stroke-linecap="butt"/>
<line x1="211.02" y1="105.5" x2="211.02" y2="106.6" stroke="#4a4a4a" stroke-width="0.45" stroke-linecap="butt"/>
<line x1="212.57" y1="105.5" x2="212.57" y2="106.6" stroke="#4a4a4a" stroke-width="0.45" stroke-linecap="butt"/>
<line x1="214.12" y1="105.5" x2="214.12" y2="106.6" stroke="#4a4a4a" stroke-width="0.45" stroke-linecap="butt"/>
<line x1="215.68" y1="105.5" x2="215.68" y2="106.6" stroke="#4a4a4a" stroke-width="0.45" stroke-linecap="butt"/>
<line x1="217.24" y1="105.5" x2="217.24" y2="106.6" stroke="#4a4a4a" stroke-width="0.45" stroke-linecap="butt"/>
<line x1="218.79" y1="105.5" x2="218.79" y2="106.6" stroke="#4a4a4a" stroke-width="0.45" stroke-linecap="butt"/>
<line x1="220.34" y1="105.5" x2="220.34" y2="106.6" stroke="#4a4a4a" stroke-width="0.45" stroke-linecap="butt"/>
<line x1="221.9" y1="105.5" x2="221.9" y2="106.6" stroke="#4a4a4a" stroke-width="0.45" stroke-linecap="butt"/>
<line x1="223.46" y1="105.5" x2="223.46" y2="106.6" stroke="#4a4a4a" stroke-width="0.45" stroke-linecap="butt"/>
<line x1="225.01" y1="105.5" x2="225.01" y2="106.6" stroke="#4a4a4a" stroke-width="0.45" stroke-linecap="butt"/>
<line x1="226.56" y1="105.5" x2="226.56" y2="106.6" stroke="#4a4a4a" stroke-width="0.45" stroke-linecap="butt"/>
<line x1="228.12" y1="105.5" x2="228.12" y2="106.6" stroke="#4a4a4a" stroke-width="0.45" stroke-linecap="butt"/>
<line x1="229.68" y1="105.5" x2="229.68" y2="106.6" stroke="#4a4a4a" stroke-width="0.45" stroke-linecap="butt"/>
<line x1="231.23" y1="105.5" x2="231.23" y2="106.6" stroke="#4a4a4a" stroke-width="0.45" stroke-linecap="butt"/>
<line x1="232.79" y1="105.5" x2="232.79" y2="106.6" stroke="#4a4a4a" stroke-width="0.45" stroke-linecap="butt"/>
<line x1="234.34" y1="105.5" x2="234.34" y2="106.6" stroke="#4a4a4a" stroke-width="0.45" stroke-linecap="butt"/>
<text x="191.6" y="111.2" font-family="Liberation Serif" font-size="3.4" font-weight="bold" font-style="normal" text-anchor="middle" fill="#151515" stroke="#151515" stroke-width="0.16">0,5</text>
<text x="197.49" y="111.2" font-family="Liberation Serif" font-size="3.4" font-weight="bold" font-style="normal" text-anchor="middle" fill="#151515" stroke="#151515" stroke-width="0.16">1</text>
<text x="203.38" y="111.2" font-family="Liberation Serif" font-size="3.4" font-weight="bold" font-style="normal" text-anchor="middle" fill="#151515" stroke="#151515" stroke-width="0.16">1,5</text>
<text x="209.27" y="111.2" font-family="Liberation Serif" font-size="3.4" font-weight="bold" font-style="normal" text-anchor="middle" fill="#151515" stroke="#151515" stroke-width="0.16">2</text>
<text x="215.16" y="111.2" font-family="Liberation Serif" font-size="3.4" font-weight="bold" font-style="normal" text-anchor="middle" fill="#151515" stroke="#151515" stroke-width="0.16">2,5</text>
<text x="221.05" y="111.2" font-family="Liberation Serif" font-size="3.4" font-weight="bold" font-style="normal" text-anchor="middle" fill="#151515" stroke="#151515" stroke-width="0.16">3</text>
<text x="226.94" y="111.2" font-family="Liberation Serif" font-size="3.4" font-weight="bold" font-style="normal" text-anchor="middle" fill="#151515" stroke="#151515" stroke-width="0.16">3,5</text>
<text x="232.83" y="111.2" font-family="Liberation Serif" font-size="3.4" font-weight="bold" font-style="normal" text-anchor="middle" fill="#151515" stroke="#151515" stroke-width="0.16">4</text>
<text x="209.7" y="117.4" font-family="Liberation Serif" font-size="3.6" font-weight="bold" font-style="normal" text-anchor="middle" fill="#151515" stroke="#151515" stroke-width="0.16">Frequency (Hz)</text>
<text x="260.2" y="4" font-family="Liberation Serif" font-size="3.9" font-weight="bold" font-style="normal" text-anchor="middle" fill="#151515" stroke="#151515" stroke-width="0.16">NREM</text>
<line x1="238.5" y1="105.5" x2="283.5" y2="105.5" stroke="#4a4a4a" stroke-width="0.8" stroke-linecap="butt"/>
<line x1="239.8" y1="105.5" x2="239.8" y2="106.6" stroke="#4a4a4a" stroke-width="0.45" stroke-linecap="butt"/>
<line x1="241.36" y1="105.5" x2="241.36" y2="106.6" stroke="#4a4a4a" stroke-width="0.45" stroke-linecap="butt"/>
<line x1="242.91" y1="105.5" x2="242.91" y2="106.6" stroke="#4a4a4a" stroke-width="0.45" stroke-linecap="butt"/>
<line x1="244.47" y1="105.5" x2="244.47" y2="106.6" stroke="#4a4a4a" stroke-width="0.45" stroke-linecap="butt"/>
<line x1="246.02" y1="105.5" x2="246.02" y2="106.6" stroke="#4a4a4a" stroke-width="0.45" stroke-linecap="butt"/>
<line x1="247.58" y1="105.5" x2="247.58" y2="106.6" stroke="#4a4a4a" stroke-width="0.45" stroke-linecap="butt"/>
<line x1="249.13" y1="105.5" x2="249.13" y2="106.6" stroke="#4a4a4a" stroke-width="0.45" stroke-linecap="butt"/>
<line x1="250.69" y1="105.5" x2="250.69" y2="106.6" stroke="#4a4a4a" stroke-width="0.45" stroke-linecap="butt"/>
<line x1="252.24" y1="105.5" x2="252.24" y2="106.6" stroke="#4a4a4a" stroke-width="0.45" stroke-linecap="butt"/>
<line x1="253.8" y1="105.5" x2="253.8" y2="106.6" stroke="#4a4a4a" stroke-width="0.45" stroke-linecap="butt"/>
<line x1="255.35" y1="105.5" x2="255.35" y2="106.6" stroke="#4a4a4a" stroke-width="0.45" stroke-linecap="butt"/>
<line x1="256.91" y1="105.5" x2="256.91" y2="106.6" stroke="#4a4a4a" stroke-width="0.45" stroke-linecap="butt"/>
<line x1="258.46" y1="105.5" x2="258.46" y2="106.6" stroke="#4a4a4a" stroke-width="0.45" stroke-linecap="butt"/>
<line x1="260.01" y1="105.5" x2="260.01" y2="106.6" stroke="#4a4a4a" stroke-width="0.45" stroke-linecap="butt"/>
<line x1="261.57" y1="105.5" x2="261.57" y2="106.6" stroke="#4a4a4a" stroke-width="0.45" stroke-linecap="butt"/>
<line x1="263.12" y1="105.5" x2="263.12" y2="106.6" stroke="#4a4a4a" stroke-width="0.45" stroke-linecap="butt"/>
<line x1="264.68" y1="105.5" x2="264.68" y2="106.6" stroke="#4a4a4a" stroke-width="0.45" stroke-linecap="butt"/>
<line x1="266.24" y1="105.5" x2="266.24" y2="106.6" stroke="#4a4a4a" stroke-width="0.45" stroke-linecap="butt"/>
<line x1="267.79" y1="105.5" x2="267.79" y2="106.6" stroke="#4a4a4a" stroke-width="0.45" stroke-linecap="butt"/>
<line x1="269.35" y1="105.5" x2="269.35" y2="106.6" stroke="#4a4a4a" stroke-width="0.45" stroke-linecap="butt"/>
<line x1="270.9" y1="105.5" x2="270.9" y2="106.6" stroke="#4a4a4a" stroke-width="0.45" stroke-linecap="butt"/>
<line x1="272.46" y1="105.5" x2="272.46" y2="106.6" stroke="#4a4a4a" stroke-width="0.45" stroke-linecap="butt"/>
<line x1="274.01" y1="105.5" x2="274.01" y2="106.6" stroke="#4a4a4a" stroke-width="0.45" stroke-linecap="butt"/>
<line x1="275.56" y1="105.5" x2="275.56" y2="106.6" stroke="#4a4a4a" stroke-width="0.45" stroke-linecap="butt"/>
<line x1="277.12" y1="105.5" x2="277.12" y2="106.6" stroke="#4a4a4a" stroke-width="0.45" stroke-linecap="butt"/>
<line x1="278.68" y1="105.5" x2="278.68" y2="106.6" stroke="#4a4a4a" stroke-width="0.45" stroke-linecap="butt"/>
<line x1="280.23" y1="105.5" x2="280.23" y2="106.6" stroke="#4a4a4a" stroke-width="0.45" stroke-linecap="butt"/>
<line x1="281.79" y1="105.5" x2="281.79" y2="106.6" stroke="#4a4a4a" stroke-width="0.45" stroke-linecap="butt"/>
<line x1="283.34" y1="105.5" x2="283.34" y2="106.6" stroke="#4a4a4a" stroke-width="0.45" stroke-linecap="butt"/>
<text x="240.6" y="111.2" font-family="Liberation Serif" font-size="3.4" font-weight="bold" font-style="normal" text-anchor="middle" fill="#151515" stroke="#151515" stroke-width="0.16">0,5</text>
<text x="246.49" y="111.2" font-family="Liberation Serif" font-size="3.4" font-weight="bold" font-style="normal" text-anchor="middle" fill="#151515" stroke="#151515" stroke-width="0.16">1</text>
<text x="252.38" y="111.2" font-family="Liberation Serif" font-size="3.4" font-weight="bold" font-style="normal" text-anchor="middle" fill="#151515" stroke="#151515" stroke-width="0.16">1,5</text>
<text x="258.27" y="111.2" font-family="Liberation Serif" font-size="3.4" font-weight="bold" font-style="normal" text-anchor="middle" fill="#151515" stroke="#151515" stroke-width="0.16">2</text>
<text x="264.16" y="111.2" font-family="Liberation Serif" font-size="3.4" font-weight="bold" font-style="normal" text-anchor="middle" fill="#151515" stroke="#151515" stroke-width="0.16">2,5</text>
<text x="270.05" y="111.2" font-family="Liberation Serif" font-size="3.4" font-weight="bold" font-style="normal" text-anchor="middle" fill="#151515" stroke="#151515" stroke-width="0.16">3</text>
<text x="275.94" y="111.2" font-family="Liberation Serif" font-size="3.4" font-weight="bold" font-style="normal" text-anchor="middle" fill="#151515" stroke="#151515" stroke-width="0.16">3,5</text>
<text x="281.83" y="111.2" font-family="Liberation Serif" font-size="3.4" font-weight="bold" font-style="normal" text-anchor="middle" fill="#151515" stroke="#151515" stroke-width="0.16">4</text>
<text x="258.7" y="117.4" font-family="Liberation Serif" font-size="3.6" font-weight="bold" font-style="normal" text-anchor="middle" fill="#151515" stroke="#151515" stroke-width="0.16">Frequency (Hz)</text>
<text x="308.4" y="4" font-family="Liberation Serif" font-size="3.9" font-weight="bold" font-style="normal" text-anchor="middle" fill="#151515" stroke="#151515" stroke-width="0.16">REM</text>
<line x1="287.5" y1="105.5" x2="332.5" y2="105.5" stroke="#4a4a4a" stroke-width="0.8" stroke-linecap="butt"/>
<line x1="288.8" y1="105.5" x2="288.8" y2="106.6" stroke="#4a4a4a" stroke-width="0.45" stroke-linecap="butt"/>
<line x1="290.36" y1="105.5" x2="290.36" y2="106.6" stroke="#4a4a4a" stroke-width="0.45" stroke-linecap="butt"/>
<line x1="291.91" y1="105.5" x2="291.91" y2="106.6" stroke="#4a4a4a" stroke-width="0.45" stroke-linecap="butt"/>
<line x1="293.47" y1="105.5" x2="293.47" y2="106.6" stroke="#4a4a4a" stroke-width="0.45" stroke-linecap="butt"/>
<line x1="295.02" y1="105.5" x2="295.02" y2="106.6" stroke="#4a4a4a" stroke-width="0.45" stroke-linecap="butt"/>
<line x1="296.57" y1="105.5" x2="296.57" y2="106.6" stroke="#4a4a4a" stroke-width="0.45" stroke-linecap="butt"/>
<line x1="298.13" y1="105.5" x2="298.13" y2="106.6" stroke="#4a4a4a" stroke-width="0.45" stroke-linecap="butt"/>
<line x1="299.69" y1="105.5" x2="299.69" y2="106.6" stroke="#4a4a4a" stroke-width="0.45" stroke-linecap="butt"/>
<line x1="301.24" y1="105.5" x2="301.24" y2="106.6" stroke="#4a4a4a" stroke-width="0.45" stroke-linecap="butt"/>
<line x1="302.8" y1="105.5" x2="302.8" y2="106.6" stroke="#4a4a4a" stroke-width="0.45" stroke-linecap="butt"/>
<line x1="304.35" y1="105.5" x2="304.35" y2="106.6" stroke="#4a4a4a" stroke-width="0.45" stroke-linecap="butt"/>
<line x1="305.91" y1="105.5" x2="305.91" y2="106.6" stroke="#4a4a4a" stroke-width="0.45" stroke-linecap="butt"/>
<line x1="307.46" y1="105.5" x2="307.46" y2="106.6" stroke="#4a4a4a" stroke-width="0.45" stroke-linecap="butt"/>
<line x1="309.01" y1="105.5" x2="309.01" y2="106.6" stroke="#4a4a4a" stroke-width="0.45" stroke-linecap="butt"/>
<line x1="310.57" y1="105.5" x2="310.57" y2="106.6" stroke="#4a4a4a" stroke-width="0.45" stroke-linecap="butt"/>
<line x1="312.12" y1="105.5" x2="312.12" y2="106.6" stroke="#4a4a4a" stroke-width="0.45" stroke-linecap="butt"/>
<line x1="313.68" y1="105.5" x2="313.68" y2="106.6" stroke="#4a4a4a" stroke-width="0.45" stroke-linecap="butt"/>
<line x1="315.24" y1="105.5" x2="315.24" y2="106.6" stroke="#4a4a4a" stroke-width="0.45" stroke-linecap="butt"/>
<line x1="316.79" y1="105.5" x2="316.79" y2="106.6" stroke="#4a4a4a" stroke-width="0.45" stroke-linecap="butt"/>
<line x1="318.35" y1="105.5" x2="318.35" y2="106.6" stroke="#4a4a4a" stroke-width="0.45" stroke-linecap="butt"/>
<line x1="319.9" y1="105.5" x2="319.9" y2="106.6" stroke="#4a4a4a" stroke-width="0.45" stroke-linecap="butt"/>
<line x1="321.46" y1="105.5" x2="321.46" y2="106.6" stroke="#4a4a4a" stroke-width="0.45" stroke-linecap="butt"/>
<line x1="323.01" y1="105.5" x2="323.01" y2="106.6" stroke="#4a4a4a" stroke-width="0.45" stroke-linecap="butt"/>
<line x1="324.56" y1="105.5" x2="324.56" y2="106.6" stroke="#4a4a4a" stroke-width="0.45" stroke-linecap="butt"/>
<line x1="326.12" y1="105.5" x2="326.12" y2="106.6" stroke="#4a4a4a" stroke-width="0.45" stroke-linecap="butt"/>
<line x1="327.68" y1="105.5" x2="327.68" y2="106.6" stroke="#4a4a4a" stroke-width="0.45" stroke-linecap="butt"/>
<line x1="329.23" y1="105.5" x2="329.23" y2="106.6" stroke="#4a4a4a" stroke-width="0.45" stroke-linecap="butt"/>
<line x1="330.79" y1="105.5" x2="330.79" y2="106.6" stroke="#4a4a4a" stroke-width="0.45" stroke-linecap="butt"/>
<line x1="332.34" y1="105.5" x2="332.34" y2="106.6" stroke="#4a4a4a" stroke-width="0.45" stroke-linecap="butt"/>
<text x="289.6" y="111.2" font-family="Liberation Serif" font-size="3.4" font-weight="bold" font-style="normal" text-anchor="middle" fill="#151515" stroke="#151515" stroke-width="0.16">0,5</text>
<text x="295.49" y="111.2" font-family="Liberation Serif" font-size="3.4" font-weight="bold" font-style="normal" text-anchor="middle" fill="#151515" stroke="#151515" stroke-width="0.16">1</text>
<text x="301.38" y="111.2" font-family="Liberation Serif" font-size="3.4" font-weight="bold" font-style="normal" text-anchor="middle" fill="#151515" stroke="#151515" stroke-width="0.16">1,5</text>
<text x="307.27" y="111.2" font-family="Liberation Serif" font-size="3.4" font-weight="bold" font-style="normal" text-anchor="middle" fill="#151515" stroke="#151515" stroke-width="0.16">2</text>
<text x="313.16" y="111.2" font-family="Liberation Serif" font-size="3.4" font-weight="bold" font-style="normal" text-anchor="middle" fill="#151515" stroke="#151515" stroke-width="0.16">2,5</text>
<text x="319.05" y="111.2" font-family="Liberation Serif" font-size="3.4" font-weight="bold" font-style="normal" text-anchor="middle" fill="#151515" stroke="#151515" stroke-width="0.16">3</text>
<text x="324.94" y="111.2" font-family="Liberation Serif" font-size="3.4" font-weight="bold" font-style="normal" text-anchor="middle" fill="#151515" stroke="#151515" stroke-width="0.16">3,5</text>
<text x="330.83" y="111.2" font-family="Liberation Serif" font-size="3.4" font-weight="bold" font-style="normal" text-anchor="middle" fill="#151515" stroke="#151515" stroke-width="0.16">4</text>
<text x="307.7" y="117.4" font-family="Liberation Serif" font-size="3.6" font-weight="bold" font-style="normal" text-anchor="middle" fill="#151515" stroke="#151515" stroke-width="0.16">Frequency (Hz)</text>
<line x1="198.7" y1="92" x2="199.7" y2="27" stroke="#eab58c" stroke-width="0.7" stroke-linecap="butt"/>
<polyline fill="none" stroke="#75828f" stroke-width="1.15" stroke-linejoin="round" stroke-linecap="round" points="200,31 200.04,31.8 200.09,32.93 200.16,34.25 200.24,35.63 200.35,36.93 200.5,38 200.68,38.83 200.88,39.53 201.11,40.15 201.37,40.73 201.66,41.33 202,42 202.39,42.74 202.83,43.5 203.31,44.29 203.8,45.07 204.31,45.85 204.8,46.6 205.29,47.34 205.79,48.07 206.29,48.8 206.79,49.5 207.3,50.17 207.8,50.8 208.29,51.36 208.78,51.87 209.26,52.34 209.76,52.8 210.27,53.28 210.8,53.8 211.37,54.38 211.98,55.01 212.6,55.65 213.22,56.28 213.83,56.87 214.4,57.4 214.92,57.84 215.4,58.23 215.86,58.57 216.33,58.9 216.83,59.23 217.4,59.6 218.07,60.02 218.83,60.47 219.62,60.93 220.4,61.37 221.11,61.77 221.7,62.1 222.11,62.32 222.39,62.44 222.59,62.52 222.79,62.6 223.07,62.75 223.5,63 224.1,63.39 224.81,63.88 225.61,64.42 226.43,64.99 227.24,65.53 228,66 228.73,66.42 229.48,66.81 230.21,67.18 230.91,67.52 231.55,67.83 232.1,68.1 232.57,68.33 232.97,68.52 233.31,68.68 233.59,68.81 233.82,68.92 234,69"/>
<polyline fill="none" stroke="#f3c7a0" stroke-width="2.6" stroke-linejoin="round" stroke-linecap="round" points="199.75,26 199.8,26.57 199.86,27.37 199.94,28.31 200.03,29.3 200.13,30.22 200.25,31 200.38,31.62 200.54,32.15 200.7,32.62 200.88,33.07 201.06,33.52 201.25,34 201.44,34.5 201.63,35 201.83,35.5 202.04,36 202.26,36.5 202.5,37 202.76,37.5 203.04,38 203.33,38.5 203.63,39 203.94,39.5 204.25,40 204.55,40.48 204.83,40.93 205.11,41.39 205.43,41.87 205.8,42.4 206.25,43 206.8,43.7 207.44,44.49 208.13,45.33 208.84,46.18 209.54,47.01 210.2,47.8 210.82,48.54 211.43,49.25 212.02,49.95 212.61,50.64 213.2,51.32 213.8,52 214.41,52.69 215.04,53.4 215.66,54.1 216.27,54.78 216.86,55.42 217.4,56 217.89,56.51 218.34,56.97 218.76,57.39 219.17,57.79 219.58,58.18 220,58.6 220.42,59.02 220.83,59.44 221.24,59.85 221.66,60.27 222.11,60.72 222.6,61.2 223.14,61.73 223.73,62.31 224.34,62.91 224.96,63.51 225.59,64.08 226.2,64.6 226.8,65.06 227.39,65.5 227.97,65.9 228.57,66.28 229.18,66.65 229.8,67 230.49,67.36 231.25,67.71 232.03,68.05 232.75,68.36 233.36,68.61 233.8,68.8"/>
<polyline fill="none" stroke="#e98a3c" stroke-width="1.6" stroke-linejoin="round" stroke-linecap="round" points="199.75,26 199.8,26.57 199.86,27.37 199.94,28.31 200.03,29.3 200.13,30.22 200.25,31 200.38,31.62 200.54,32.15 200.7,32.62 200.88,33.07 201.06,33.52 201.25,34 201.44,34.5 201.63,35 201.83,35.5 202.04,36 202.26,36.5 202.5,37 202.76,37.5 203.04,38 203.33,38.5 203.63,39 203.94,39.5 204.25,40 204.55,40.48 204.83,40.93 205.11,41.39 205.43,41.87 205.8,42.4 206.25,43 206.8,43.7 207.44,44.49 208.13,45.33 208.84,46.18 209.54,47.01 210.2,47.8 210.82,48.54 211.43,49.25 212.02,49.95 212.61,50.64 213.2,51.32 213.8,52 214.41,52.69 215.04,53.4 215.66,54.1 216.27,54.78 216.86,55.42 217.4,56 217.89,56.51 218.34,56.97 218.76,57.39 219.17,57.79 219.58,58.18 220,58.6 220.42,59.02 220.83,59.44 221.24,59.85 221.66,60.27 222.11,60.72 222.6,61.2 223.14,61.73 223.73,62.31 224.34,62.91 224.96,63.51 225.59,64.08 226.2,64.6 226.8,65.06 227.39,65.5 227.97,65.9 228.57,66.28 229.18,66.65 229.8,67 230.49,67.36 231.25,67.71 232.03,68.05 232.75,68.36 233.36,68.61 233.8,68.8"/>
<polyline fill="none" stroke="#d27a34" stroke-width="2.0" stroke-linejoin="round" stroke-linecap="butt" points="189.6,91.8 198.9,91.8"/>
<line x1="190.5" y1="91" x2="190.5" y2="93" stroke="#b4652a" stroke-width="0.4" stroke-linecap="butt"/>
<line x1="191.8" y1="91" x2="191.8" y2="93" stroke="#b4652a" stroke-width="0.4" stroke-linecap="butt"/>
<line x1="193.1" y1="91" x2="193.1" y2="93" stroke="#b4652a" stroke-width="0.4" stroke-linecap="butt"/>
<line x1="194.4" y1="91" x2="194.4" y2="93" stroke="#b4652a" stroke-width="0.4" stroke-linecap="butt"/>
<line x1="195.7" y1="91" x2="195.7" y2="93" stroke="#b4652a" stroke-width="0.4" stroke-linecap="butt"/>
<line x1="197" y1="91" x2="197" y2="93" stroke="#b4652a" stroke-width="0.4" stroke-linecap="butt"/>
<line x1="198.3" y1="91" x2="198.3" y2="93" stroke="#b4652a" stroke-width="0.4" stroke-linecap="butt"/>
<line x1="248.1" y1="93" x2="248.1" y2="71.5" stroke="#eab58c" stroke-width="0.7" stroke-linecap="butt"/>
<polyline fill="none" stroke="#8c97a3" stroke-width="0.8" stroke-linejoin="round" stroke-linecap="round" points="248.75,70 249.02,69.03 249.4,67.69 249.84,66.09 250.32,64.4 250.8,62.74 251.25,61.25 251.67,59.91 252.09,58.59 252.52,57.31 252.94,56.07 253.35,54.88 253.75,53.75 254.14,52.68 254.51,51.65 254.88,50.67 255.24,49.76 255.61,48.9 256,48.1 256.4,47.38 256.8,46.73 257.22,46.13 257.64,45.59 258.06,45.08 258.5,44.6 258.93,44.14 259.36,43.71 259.79,43.32 260.25,42.97 260.75,42.66 261.3,42.4 261.93,42.18 262.64,42 263.38,41.86 264.13,41.78 264.85,41.75 265.5,41.8 266.07,41.92 266.57,42.11 267.05,42.37 267.53,42.67 268.03,43.02 268.6,43.4 269.24,43.83 269.92,44.32 270.63,44.85 271.36,45.4 272.09,45.96 272.8,46.5 273.47,47.02 274.11,47.54 274.75,48.06 275.42,48.59 276.16,49.13 277,49.7 278.04,50.34 279.27,51.06 280.56,51.8 281.8,52.49 282.85,53.08 283.6,53.5"/>
<polyline fill="none" stroke="#c8ced5" stroke-width="2.8" stroke-linejoin="round" stroke-linecap="round" points="258.5,44.6 258.79,44.34 259.17,43.97 259.64,43.54 260.16,43.1 260.72,42.7 261.3,42.4 261.93,42.18 262.64,42 263.38,41.86 264.13,41.78 264.85,41.75 265.5,41.8 266.07,41.92 266.57,42.11 267.05,42.37 267.53,42.67 268.03,43.02 268.6,43.4 269.24,43.83 269.92,44.32 270.63,44.85 271.36,45.4 272.09,45.96 272.8,46.5 273.47,47.02 274.11,47.54 274.75,48.06 275.42,48.59 276.16,49.13 277,49.7 278.04,50.34 279.27,51.06 280.56,51.8 281.8,52.49 282.85,53.08 283.6,53.5"/>
<polyline fill="none" stroke="#6a7683" stroke-width="1.2" stroke-linejoin="round" stroke-linecap="round" points="258.5,44.6 258.79,44.34 259.17,43.97 259.64,43.54 260.16,43.1 260.72,42.7 261.3,42.4 261.93,42.18 262.64,42 263.38,41.86 264.13,41.78 264.85,41.75 265.5,41.8 266.07,41.92 266.57,42.11 267.05,42.37 267.53,42.67 268.03,43.02 268.6,43.4 269.24,43.83 269.92,44.32 270.63,44.85 271.36,45.4 272.09,45.96 272.8,46.5 273.47,47.02 274.11,47.54 274.75,48.06 275.42,48.59 276.16,49.13 277,49.7 278.04,50.34 279.27,51.06 280.56,51.8 281.8,52.49 282.85,53.08 283.6,53.5"/>
<polyline fill="none" stroke="#eea05e" stroke-width="0.8" stroke-linejoin="round" stroke-linecap="round" points="248.1,71.25 248.3,70.16 248.57,68.66 248.89,66.88 249.25,64.95 249.63,63.03 250,61.25 250.39,59.54 250.81,57.78 251.25,56.02 251.69,54.31 252.11,52.7 252.5,51.25 252.85,49.97 253.17,48.81 253.47,47.75 253.77,46.78 254.07,45.87 254.4,45 254.74,44.16 255.1,43.38 255.46,42.65 255.83,42.01 256.21,41.45 256.6,41 257,40.67 257.42,40.45 257.84,40.32 258.28,40.26 258.73,40.26 259.2,40.3 259.69,40.4 260.19,40.57 260.71,40.79 261.24,41.06 261.77,41.33 262.3,41.6 262.83,41.86 263.36,42.11 263.9,42.39 264.44,42.69 264.97,43.02 265.5,43.4 266.02,43.83 266.54,44.31 267.05,44.83 267.56,45.37 268.08,45.93 268.6,46.5 269.12,47.08 269.62,47.67 270.13,48.28 270.66,48.91 271.21,49.55 271.8,50.2 272.44,50.88 273.13,51.6 273.84,52.34 274.56,53.06 275.29,53.76 276,54.4 276.71,54.98 277.43,55.53 278.15,56.04 278.86,56.53 279.55,57.01 280.2,57.5 280.85,58.02 281.52,58.56 282.16,59.09 282.75,59.59 283.24,60 283.6,60.3"/>
<polyline fill="none" stroke="#f3c7a0" stroke-width="3.2" stroke-linejoin="round" stroke-linecap="round" points="254.4,45 254.63,44.53 254.96,43.84 255.34,43.04 255.76,42.24 256.18,41.52 256.6,41 257,40.67 257.42,40.45 257.84,40.32 258.28,40.26 258.73,40.26 259.2,40.3 259.69,40.4 260.19,40.57 260.71,40.79 261.24,41.06 261.77,41.33 262.3,41.6 262.83,41.86 263.36,42.11 263.9,42.39 264.44,42.69 264.97,43.02 265.5,43.4 266.02,43.83 266.54,44.31 267.05,44.83 267.56,45.37 268.08,45.93 268.6,46.5 269.12,47.08 269.62,47.67 270.13,48.28 270.66,48.91 271.21,49.55 271.8,50.2 272.44,50.88 273.13,51.6 273.84,52.34 274.56,53.06 275.29,53.76 276,54.4 276.71,54.98 277.43,55.53 278.15,56.04 278.86,56.53 279.55,57.01 280.2,57.5 280.85,58.02 281.52,58.56 282.16,59.09 282.75,59.59 283.24,60 283.6,60.3"/>
<polyline fill="none" stroke="#e0823a" stroke-width="1.5" stroke-linejoin="round" stroke-linecap="round" points="254.4,45 254.63,44.53 254.96,43.84 255.34,43.04 255.76,42.24 256.18,41.52 256.6,41 257,40.67 257.42,40.45 257.84,40.32 258.28,40.26 258.73,40.26 259.2,40.3 259.69,40.4 260.19,40.57 260.71,40.79 261.24,41.06 261.77,41.33 262.3,41.6 262.83,41.86 263.36,42.11 263.9,42.39 264.44,42.69 264.97,43.02 265.5,43.4 266.02,43.83 266.54,44.31 267.05,44.83 267.56,45.37 268.08,45.93 268.6,46.5 269.12,47.08 269.62,47.67 270.13,48.28 270.66,48.91 271.21,49.55 271.8,50.2 272.44,50.88 273.13,51.6 273.84,52.34 274.56,53.06 275.29,53.76 276,54.4 276.71,54.98 277.43,55.53 278.15,56.04 278.86,56.53 279.55,57.01 280.2,57.5 280.85,58.02 281.52,58.56 282.16,59.09 282.75,59.59 283.24,60 283.6,60.3"/>
<polyline fill="none" stroke="#d27a34" stroke-width="2.0" stroke-linejoin="round" stroke-linecap="butt" points="238.6,93.6 248.1,93.6"/>
<line x1="248.6" y1="36.5" x2="259" y2="36.5" stroke="#111" stroke-width="1.5" stroke-linecap="butt"/>
<text x="253.8" y="36.6" font-family="Liberation Sans" font-size="5" font-weight="bold" font-style="normal" text-anchor="middle" fill="#111" stroke="#111" stroke-width="0.16">*</text>
<line x1="270.7" y1="63.9" x2="283.8" y2="63.9" stroke="#111" stroke-width="1.5" stroke-linecap="butt"/>
<text x="277" y="65" font-family="Liberation Sans" font-size="5" font-weight="bold" font-style="normal" text-anchor="middle" fill="#111" stroke="#111" stroke-width="0.16">*</text>
<line x1="296.9" y1="92.5" x2="296.9" y2="72" stroke="#ecb080" stroke-width="0.8" stroke-linecap="butt"/>
<polyline fill="none" stroke="#d8dde3" stroke-width="2.6" stroke-linejoin="round" stroke-linecap="round" points="297.5,71 299.7,73.2 302,71.5 304,70.6 306.3,70 308,70.8 310,71 312,71.3 314.3,71.7 317,72 320.2,72.2 323,72.6 326,72.9 329,73.3 332,73.9"/>
<polyline fill="none" stroke="#f8dcc3" stroke-width="2.8" stroke-linejoin="round" stroke-linecap="round" points="297.5,72 298.2,73.9 302.6,74.7 308.5,75 314.3,75.4 320.2,75.8 326,76.4 332,77.3"/>
<polyline fill="none" stroke="#66727f" stroke-width="1.2" stroke-linejoin="round" stroke-linecap="round" points="297.5,71 299.7,73.2 302,71.5 304,70.6 306.3,70 308,70.8 310,71 312,71.3 314.3,71.7 317,72 320.2,72.2 323,72.6 326,72.9 329,73.3 332,73.9"/>
<polyline fill="none" stroke="#e68a3e" stroke-width="1.6" stroke-linejoin="round" stroke-linecap="round" points="297.5,72 298.2,73.9 302.6,74.7 308.5,75 314.3,75.4 320.2,75.8 326,76.4 332,77.3"/>
<polyline fill="none" stroke="#d27a34" stroke-width="2.0" stroke-linejoin="round" stroke-linecap="butt" points="287.6,93 296.9,93"/>
<line x1="305.5" y1="81.2" x2="314.3" y2="81.2" stroke="#111" stroke-width="1.5" stroke-linecap="butt"/>
<text x="310.2" y="82.1" font-family="Liberation Sans" font-size="5" font-weight="bold" font-style="normal" text-anchor="middle" fill="#111" stroke="#111" stroke-width="0.16">*</text>
<line x1="300" y1="8" x2="300" y2="25.5" stroke="#c9c3bf" stroke-width="0.7" stroke-linecap="butt"/>
<line x1="309.7" y1="8" x2="309.7" y2="25.5" stroke="#c9c3bf" stroke-width="0.7" stroke-linecap="butt"/>
<line x1="318.8" y1="8" x2="318.8" y2="25.5" stroke="#c9c3bf" stroke-width="0.7" stroke-linecap="butt"/>
<line x1="300" y1="28.5" x2="327.3" y2="28.5" stroke="#dedede" stroke-width="0.6" stroke-linecap="butt"/>
<polyline fill="none" stroke="#bf9f88" stroke-width="0.9" stroke-linejoin="round" stroke-linecap="round" points="300.3,9.5 300.32,9.6 300.33,9.71 300.34,9.86 300.39,10.07 300.47,10.38 300.6,10.8 300.79,11.39 301.02,12.13 301.29,12.97 301.6,13.83 301.94,14.66 302.3,15.4 302.7,16.05 303.13,16.66 303.59,17.24 304.08,17.79 304.59,18.31 305.1,18.8 305.64,19.3 306.23,19.82 306.83,20.31 307.43,20.71 307.99,21 308.5,21.1 308.94,20.98 309.33,20.67 309.69,20.24 310.04,19.74 310.4,19.24 310.8,18.8 311.24,18.37 311.69,17.89 312.16,17.4 312.64,16.97 313.12,16.65 313.6,16.5 314.08,16.54 314.58,16.73 315.08,17.03 315.57,17.4 316.05,17.8 316.5,18.2 316.91,18.63 317.27,19.12 317.62,19.65 317.97,20.18 318.36,20.67 318.8,21.1 319.29,21.47 319.81,21.8 320.36,22.1 320.94,22.37 321.56,22.6 322.2,22.8 322.94,22.96 323.79,23.07 324.66,23.16 325.49,23.21 326.2,23.26 326.7,23.3"/>
<circle cx="300" cy="25" r="0.6" fill="#bdbdbd"/>
<circle cx="309.7" cy="25" r="0.6" fill="#bdbdbd"/>
<circle cx="318.8" cy="25" r="0.6" fill="#bdbdbd"/>
<text x="1.4" y="137" font-family="Liberation Sans" font-size="6.0" font-weight="bold" font-style="normal" text-anchor="start" fill="#111" stroke="#111" stroke-width="0.3">C</text>
<line x1="15.4" y1="143" x2="15.4" y2="242.5" stroke="#4a4a4a" stroke-width="0.8" stroke-linecap="butt"/>
<line x1="14.5" y1="151" x2="15.4" y2="151" stroke="#4a4a4a" stroke-width="0.45" stroke-linecap="butt"/>
<line x1="14.5" y1="161.2" x2="15.4" y2="161.2" stroke="#4a4a4a" stroke-width="0.45" stroke-linecap="butt"/>
<line x1="14.5" y1="171.4" x2="15.4" y2="171.4" stroke="#4a4a4a" stroke-width="0.45" stroke-linecap="butt"/>
<line x1="14.5" y1="181.5" x2="15.4" y2="181.5" stroke="#4a4a4a" stroke-width="0.45" stroke-linecap="butt"/>
<line x1="14.5" y1="191.6" x2="15.4" y2="191.6" stroke="#4a4a4a" stroke-width="0.45" stroke-linecap="butt"/>
<line x1="14.5" y1="201.8" x2="15.4" y2="201.8" stroke="#4a4a4a" stroke-width="0.45" stroke-linecap="butt"/>
<line x1="14.5" y1="212" x2="15.4" y2="212" stroke="#4a4a4a" stroke-width="0.45" stroke-linecap="butt"/>
<line x1="14.5" y1="222.2" x2="15.4" y2="222.2" stroke="#4a4a4a" stroke-width="0.45" stroke-linecap="butt"/>
<line x1="14.5" y1="232.3" x2="15.4" y2="232.3" stroke="#4a4a4a" stroke-width="0.45" stroke-linecap="butt"/>
<line x1="15.4" y1="242.5" x2="84.9" y2="242.5" stroke="#4a4a4a" stroke-width="0.8" stroke-linecap="butt"/>
<line x1="17.4" y1="242.5" x2="17.4" y2="243.7" stroke="#4a4a4a" stroke-width="0.5" stroke-linecap="butt"/>
<line x1="19.76" y1="242.5" x2="19.76" y2="243.7" stroke="#4a4a4a" stroke-width="0.5" stroke-linecap="butt"/>
<line x1="22.12" y1="242.5" x2="22.12" y2="243.7" stroke="#4a4a4a" stroke-width="0.5" stroke-linecap="butt"/>
<line x1="24.48" y1="242.5" x2="24.48" y2="243.7" stroke="#4a4a4a" stroke-width="0.5" stroke-linecap="butt"/>
<line x1="26.84" y1="242.5" x2="26.84" y2="243.7" stroke="#4a4a4a" stroke-width="0.5" stroke-linecap="butt"/>
<line x1="29.2" y1="242.5" x2="29.2" y2="243.7" stroke="#4a4a4a" stroke-width="0.5" stroke-linecap="butt"/>
<line x1="31.56" y1="242.5" x2="31.56" y2="243.7" stroke="#4a4a4a" stroke-width="0.5" stroke-linecap="butt"/>
<line x1="33.92" y1="242.5" x2="33.92" y2="243.7" stroke="#4a4a4a" stroke-width="0.5" stroke-linecap="butt"/>
<line x1="36.28" y1="242.5" x2="36.28" y2="243.7" stroke="#4a4a4a" stroke-width="0.5" stroke-linecap="butt"/>
<line x1="38.64" y1="242.5" x2="38.64" y2="243.7" stroke="#4a4a4a" stroke-width="0.5" stroke-linecap="butt"/>
<line x1="41" y1="242.5" x2="41" y2="243.7" stroke="#4a4a4a" stroke-width="0.5" stroke-linecap="butt"/>
<line x1="43.36" y1="242.5" x2="43.36" y2="243.7" stroke="#4a4a4a" stroke-width="0.5" stroke-linecap="butt"/>
<line x1="45.72" y1="242.5" x2="45.72" y2="243.7" stroke="#4a4a4a" stroke-width="0.5" stroke-linecap="butt"/>
<line x1="48.08" y1="242.5" x2="48.08" y2="243.7" stroke="#4a4a4a" stroke-width="0.5" stroke-linecap="butt"/>
<line x1="50.44" y1="242.5" x2="50.44" y2="243.7" stroke="#4a4a4a" stroke-width="0.5" stroke-linecap="butt"/>
<line x1="52.8" y1="242.5" x2="52.8" y2="243.7" stroke="#4a4a4a" stroke-width="0.5" stroke-linecap="butt"/>
<line x1="55.16" y1="242.5" x2="55.16" y2="243.7" stroke="#4a4a4a" stroke-width="0.5" stroke-linecap="butt"/>
<line x1="57.52" y1="242.5" x2="57.52" y2="243.7" stroke="#4a4a4a" stroke-width="0.5" stroke-linecap="butt"/>
<line x1="59.88" y1="242.5" x2="59.88" y2="243.7" stroke="#4a4a4a" stroke-width="0.5" stroke-linecap="butt"/>
<line x1="62.24" y1="242.5" x2="62.24" y2="243.7" stroke="#4a4a4a" stroke-width="0.5" stroke-linecap="butt"/>
<line x1="64.6" y1="242.5" x2="64.6" y2="243.7" stroke="#4a4a4a" stroke-width="0.5" stroke-linecap="butt"/>
<line x1="66.96" y1="242.5" x2="66.96" y2="243.7" stroke="#4a4a4a" stroke-width="0.5" stroke-linecap="butt"/>
<line x1="69.32" y1="242.5" x2="69.32" y2="243.7" stroke="#4a4a4a" stroke-width="0.5" stroke-linecap="butt"/>
<line x1="71.68" y1="242.5" x2="71.68" y2="243.7" stroke="#4a4a4a" stroke-width="0.5" stroke-linecap="butt"/>
<line x1="74.04" y1="242.5" x2="74.04" y2="243.7" stroke="#4a4a4a" stroke-width="0.5" stroke-linecap="butt"/>
<line x1="76.4" y1="242.5" x2="76.4" y2="243.7" stroke="#4a4a4a" stroke-width="0.5" stroke-linecap="butt"/>
<line x1="78.76" y1="242.5" x2="78.76" y2="243.7" stroke="#4a4a4a" stroke-width="0.5" stroke-linecap="butt"/>
<line x1="81.12" y1="242.5" x2="81.12" y2="243.7" stroke="#4a4a4a" stroke-width="0.5" stroke-linecap="butt"/>
<line x1="83.48" y1="242.5" x2="83.48" y2="243.7" stroke="#4a4a4a" stroke-width="0.5" stroke-linecap="butt"/>
<text x="17.5" y="249.9" font-family="Liberation Serif" font-size="3.7" font-weight="bold" font-style="normal" text-anchor="middle" fill="#151515" stroke="#151515" stroke-width="0.16">0,5</text>
<text x="26.95" y="249.9" font-family="Liberation Serif" font-size="3.7" font-weight="bold" font-style="normal" text-anchor="middle" fill="#151515" stroke="#151515" stroke-width="0.16">1</text>
<text x="36.4" y="249.9" font-family="Liberation Serif" font-size="3.7" font-weight="bold" font-style="normal" text-anchor="middle" fill="#151515" stroke="#151515" stroke-width="0.16">1,5</text>
<text x="45.85" y="249.9" font-family="Liberation Serif" font-size="3.7" font-weight="bold" font-style="normal" text-anchor="middle" fill="#151515" stroke="#151515" stroke-width="0.16">2</text>
<text x="55.3" y="249.9" font-family="Liberation Serif" font-size="3.7" font-weight="bold" font-style="normal" text-anchor="middle" fill="#151515" stroke="#151515" stroke-width="0.16">2,5</text>
<text x="64.75" y="249.9" font-family="Liberation Serif" font-size="3.7" font-weight="bold" font-style="normal" text-anchor="middle" fill="#151515" stroke="#151515" stroke-width="0.16">3</text>
<text x="74.2" y="249.9" font-family="Liberation Serif" font-size="3.7" font-weight="bold" font-style="normal" text-anchor="middle" fill="#151515" stroke="#151515" stroke-width="0.16">3,5</text>
<text x="83.65" y="249.9" font-family="Liberation Serif" font-size="3.7" font-weight="bold" font-style="normal" text-anchor="middle" fill="#151515" stroke="#151515" stroke-width="0.16">4</text>
<text x="50.2" y="256.8" font-family="Liberation Serif" font-size="4.0" font-weight="bold" font-style="normal" text-anchor="middle" fill="#151515" stroke="#151515" stroke-width="0.16">Frequency (Hz)</text>
<line x1="87.4" y1="143" x2="87.4" y2="242.5" stroke="#4a4a4a" stroke-width="0.8" stroke-linecap="butt"/>
<line x1="86.5" y1="151" x2="87.4" y2="151" stroke="#4a4a4a" stroke-width="0.45" stroke-linecap="butt"/>
<line x1="86.5" y1="161.2" x2="87.4" y2="161.2" stroke="#4a4a4a" stroke-width="0.45" stroke-linecap="butt"/>
<line x1="86.5" y1="171.4" x2="87.4" y2="171.4" stroke="#4a4a4a" stroke-width="0.45" stroke-linecap="butt"/>
<line x1="86.5" y1="181.5" x2="87.4" y2="181.5" stroke="#4a4a4a" stroke-width="0.45" stroke-linecap="butt"/>
<line x1="86.5" y1="191.6" x2="87.4" y2="191.6" stroke="#4a4a4a" stroke-width="0.45" stroke-linecap="butt"/>
<line x1="86.5" y1="201.8" x2="87.4" y2="201.8" stroke="#4a4a4a" stroke-width="0.45" stroke-linecap="butt"/>
<line x1="86.5" y1="212" x2="87.4" y2="212" stroke="#4a4a4a" stroke-width="0.45" stroke-linecap="butt"/>
<line x1="86.5" y1="222.2" x2="87.4" y2="222.2" stroke="#4a4a4a" stroke-width="0.45" stroke-linecap="butt"/>
<line x1="86.5" y1="232.3" x2="87.4" y2="232.3" stroke="#4a4a4a" stroke-width="0.45" stroke-linecap="butt"/>
<line x1="87.4" y1="242.5" x2="156.9" y2="242.5" stroke="#4a4a4a" stroke-width="0.8" stroke-linecap="butt"/>
<line x1="89.4" y1="242.5" x2="89.4" y2="243.7" stroke="#4a4a4a" stroke-width="0.5" stroke-linecap="butt"/>
<line x1="91.76" y1="242.5" x2="91.76" y2="243.7" stroke="#4a4a4a" stroke-width="0.5" stroke-linecap="butt"/>
<line x1="94.12" y1="242.5" x2="94.12" y2="243.7" stroke="#4a4a4a" stroke-width="0.5" stroke-linecap="butt"/>
<line x1="96.48" y1="242.5" x2="96.48" y2="243.7" stroke="#4a4a4a" stroke-width="0.5" stroke-linecap="butt"/>
<line x1="98.84" y1="242.5" x2="98.84" y2="243.7" stroke="#4a4a4a" stroke-width="0.5" stroke-linecap="butt"/>
<line x1="101.2" y1="242.5" x2="101.2" y2="243.7" stroke="#4a4a4a" stroke-width="0.5" stroke-linecap="butt"/>
<line x1="103.56" y1="242.5" x2="103.56" y2="243.7" stroke="#4a4a4a" stroke-width="0.5" stroke-linecap="butt"/>
<line x1="105.92" y1="242.5" x2="105.92" y2="243.7" stroke="#4a4a4a" stroke-width="0.5" stroke-linecap="butt"/>
<line x1="108.28" y1="242.5" x2="108.28" y2="243.7" stroke="#4a4a4a" stroke-width="0.5" stroke-linecap="butt"/>
<line x1="110.64" y1="242.5" x2="110.64" y2="243.7" stroke="#4a4a4a" stroke-width="0.5" stroke-linecap="butt"/>
<line x1="113" y1="242.5" x2="113" y2="243.7" stroke="#4a4a4a" stroke-width="0.5" stroke-linecap="butt"/>
<line x1="115.36" y1="242.5" x2="115.36" y2="243.7" stroke="#4a4a4a" stroke-width="0.5" stroke-linecap="butt"/>
<line x1="117.72" y1="242.5" x2="117.72" y2="243.7" stroke="#4a4a4a" stroke-width="0.5" stroke-linecap="butt"/>
<line x1="120.08" y1="242.5" x2="120.08" y2="243.7" stroke="#4a4a4a" stroke-width="0.5" stroke-linecap="butt"/>
<line x1="122.44" y1="242.5" x2="122.44" y2="243.7" stroke="#4a4a4a" stroke-width="0.5" stroke-linecap="butt"/>
<line x1="124.8" y1="242.5" x2="124.8" y2="243.7" stroke="#4a4a4a" stroke-width="0.5" stroke-linecap="butt"/>
<line x1="127.16" y1="242.5" x2="127.16" y2="243.7" stroke="#4a4a4a" stroke-width="0.5" stroke-linecap="butt"/>
<line x1="129.52" y1="242.5" x2="129.52" y2="243.7" stroke="#4a4a4a" stroke-width="0.5" stroke-linecap="butt"/>
<line x1="131.88" y1="242.5" x2="131.88" y2="243.7" stroke="#4a4a4a" stroke-width="0.5" stroke-linecap="butt"/>
<line x1="134.24" y1="242.5" x2="134.24" y2="243.7" stroke="#4a4a4a" stroke-width="0.5" stroke-linecap="butt"/>
<line x1="136.6" y1="242.5" x2="136.6" y2="243.7" stroke="#4a4a4a" stroke-width="0.5" stroke-linecap="butt"/>
<line x1="138.96" y1="242.5" x2="138.96" y2="243.7" stroke="#4a4a4a" stroke-width="0.5" stroke-linecap="butt"/>
<line x1="141.32" y1="242.5" x2="141.32" y2="243.7" stroke="#4a4a4a" stroke-width="0.5" stroke-linecap="butt"/>
<line x1="143.68" y1="242.5" x2="143.68" y2="243.7" stroke="#4a4a4a" stroke-width="0.5" stroke-linecap="butt"/>
<line x1="146.04" y1="242.5" x2="146.04" y2="243.7" stroke="#4a4a4a" stroke-width="0.5" stroke-linecap="butt"/>
<line x1="148.4" y1="242.5" x2="148.4" y2="243.7" stroke="#4a4a4a" stroke-width="0.5" stroke-linecap="butt"/>
<line x1="150.76" y1="242.5" x2="150.76" y2="243.7" stroke="#4a4a4a" stroke-width="0.5" stroke-linecap="butt"/>
<line x1="153.12" y1="242.5" x2="153.12" y2="243.7" stroke="#4a4a4a" stroke-width="0.5" stroke-linecap="butt"/>
<line x1="155.48" y1="242.5" x2="155.48" y2="243.7" stroke="#4a4a4a" stroke-width="0.5" stroke-linecap="butt"/>
<text x="89.5" y="249.9" font-family="Liberation Serif" font-size="3.7" font-weight="bold" font-style="normal" text-anchor="middle" fill="#151515" stroke="#151515" stroke-width="0.16">0,5</text>
<text x="98.95" y="249.9" font-family="Liberation Serif" font-size="3.7" font-weight="bold" font-style="normal" text-anchor="middle" fill="#151515" stroke="#151515" stroke-width="0.16">1</text>
<text x="108.4" y="249.9" font-family="Liberation Serif" font-size="3.7" font-weight="bold" font-style="normal" text-anchor="middle" fill="#151515" stroke="#151515" stroke-width="0.16">1,5</text>
<text x="117.85" y="249.9" font-family="Liberation Serif" font-size="3.7" font-weight="bold" font-style="normal" text-anchor="middle" fill="#151515" stroke="#151515" stroke-width="0.16">2</text>
<text x="127.3" y="249.9" font-family="Liberation Serif" font-size="3.7" font-weight="bold" font-style="normal" text-anchor="middle" fill="#151515" stroke="#151515" stroke-width="0.16">2,5</text>
<text x="136.75" y="249.9" font-family="Liberation Serif" font-size="3.7" font-weight="bold" font-style="normal" text-anchor="middle" fill="#151515" stroke="#151515" stroke-width="0.16">3</text>
<text x="146.2" y="249.9" font-family="Liberation Serif" font-size="3.7" font-weight="bold" font-style="normal" text-anchor="middle" fill="#151515" stroke="#151515" stroke-width="0.16">3,5</text>
<text x="155.65" y="249.9" font-family="Liberation Serif" font-size="3.7" font-weight="bold" font-style="normal" text-anchor="middle" fill="#151515" stroke="#151515" stroke-width="0.16">4</text>
<text x="122.2" y="256.8" font-family="Liberation Serif" font-size="4.0" font-weight="bold" font-style="normal" text-anchor="middle" fill="#151515" stroke="#151515" stroke-width="0.16">Frequency (Hz)</text>
<text x="13" y="152.35" font-family="Liberation Serif" font-size="3.7" font-weight="bold" font-style="normal" text-anchor="end" fill="#151515" stroke="#151515" stroke-width="0.16">3,5</text>
<text x="13" y="162.55" font-family="Liberation Serif" font-size="3.7" font-weight="bold" font-style="normal" text-anchor="end" fill="#151515" stroke="#151515" stroke-width="0.16">3</text>
<text x="13" y="172.75" font-family="Liberation Serif" font-size="3.7" font-weight="bold" font-style="normal" text-anchor="end" fill="#151515" stroke="#151515" stroke-width="0.16">2,5</text>
<text x="13" y="182.85" font-family="Liberation Serif" font-size="3.7" font-weight="bold" font-style="normal" text-anchor="end" fill="#151515" stroke="#151515" stroke-width="0.16">2</text>
<text x="13" y="192.95" font-family="Liberation Serif" font-size="3.7" font-weight="bold" font-style="normal" text-anchor="end" fill="#151515" stroke="#151515" stroke-width="0.16">1,5</text>
<text x="13" y="203.15" font-family="Liberation Serif" font-size="3.7" font-weight="bold" font-style="normal" text-anchor="end" fill="#151515" stroke="#151515" stroke-width="0.16">1</text>
<text x="13" y="213.35" font-family="Liberation Serif" font-size="3.7" font-weight="bold" font-style="normal" text-anchor="end" fill="#151515" stroke="#151515" stroke-width="0.16">0,5</text>
<text x="13" y="223.55" font-family="Liberation Serif" font-size="3.7" font-weight="bold" font-style="normal" text-anchor="end" fill="#151515" stroke="#151515" stroke-width="0.16">0</text>
<text x="13" y="233.65" font-family="Liberation Serif" font-size="3.7" font-weight="bold" font-style="normal" text-anchor="end" fill="#151515" stroke="#151515" stroke-width="0.16">-0,5</text>
<text x="13" y="243.85" font-family="Liberation Serif" font-size="3.7" font-weight="bold" font-style="normal" text-anchor="end" fill="#151515" stroke="#151515" stroke-width="0.16">-1</text>
<text x="4.5" y="193" font-family="Liberation Serif" font-size="3.9" font-weight="bold" font-style="normal" text-anchor="middle" fill="#151515" stroke="#151515" stroke-width="0.16" transform="rotate(-90 4.5 193)">Relative power</text>
<text x="48.7" y="143.2" font-family="Liberation Serif" font-size="4.2" font-weight="bold" font-style="normal" text-anchor="middle" fill="#151515" stroke="#151515" stroke-width="0.16">Active phase</text>
<text x="123" y="143.4" font-family="Liberation Serif" font-size="4.2" font-weight="bold" font-style="normal" text-anchor="middle" fill="#151515" stroke="#151515" stroke-width="0.16">Quiet phase</text>
<polyline fill="none" stroke="#e9a06a" stroke-width="0.8" stroke-linejoin="round" stroke-linecap="round" points="28.9,228.9 30.5,155"/>
<line x1="32.8" y1="166.3" x2="32.8" y2="170.1" stroke="#8a95a1" stroke-width="0.55" stroke-linecap="butt"/>
<line x1="35.1" y1="172.23" x2="35.1" y2="176.03" stroke="#8a95a1" stroke-width="0.55" stroke-linecap="butt"/>
<line x1="37.4" y1="177" x2="37.4" y2="180.8" stroke="#8a95a1" stroke-width="0.55" stroke-linecap="butt"/>
<line x1="39.7" y1="180.66" x2="39.7" y2="184.46" stroke="#8a95a1" stroke-width="0.55" stroke-linecap="butt"/>
<line x1="42" y1="183.75" x2="42" y2="187.55" stroke="#8a95a1" stroke-width="0.55" stroke-linecap="butt"/>
<line x1="44.3" y1="186.47" x2="44.3" y2="190.27" stroke="#8a95a1" stroke-width="0.55" stroke-linecap="butt"/>
<line x1="46.6" y1="188.84" x2="46.6" y2="192.64" stroke="#8a95a1" stroke-width="0.55" stroke-linecap="butt"/>
<line x1="48.9" y1="190.77" x2="48.9" y2="194.57" stroke="#8a95a1" stroke-width="0.55" stroke-linecap="butt"/>
<line x1="51.2" y1="192.6" x2="51.2" y2="196.4" stroke="#8a95a1" stroke-width="0.55" stroke-linecap="butt"/>
<line x1="53.5" y1="194.13" x2="53.5" y2="197.93" stroke="#8a95a1" stroke-width="0.55" stroke-linecap="butt"/>
<line x1="55.8" y1="195.67" x2="55.8" y2="199.47" stroke="#8a95a1" stroke-width="0.55" stroke-linecap="butt"/>
<line x1="58.1" y1="197.18" x2="58.1" y2="200.98" stroke="#8a95a1" stroke-width="0.55" stroke-linecap="butt"/>
<line x1="60.4" y1="198.7" x2="60.4" y2="202.5" stroke="#8a95a1" stroke-width="0.55" stroke-linecap="butt"/>
<line x1="62.7" y1="199.9" x2="62.7" y2="203.7" stroke="#8a95a1" stroke-width="0.55" stroke-linecap="butt"/>
<line x1="65" y1="201.05" x2="65" y2="204.85" stroke="#8a95a1" stroke-width="0.55" stroke-linecap="butt"/>
<line x1="67.3" y1="202.08" x2="67.3" y2="205.88" stroke="#8a95a1" stroke-width="0.55" stroke-linecap="butt"/>
<line x1="69.6" y1="203.05" x2="69.6" y2="206.85" stroke="#8a95a1" stroke-width="0.55" stroke-linecap="butt"/>
<line x1="71.9" y1="203.97" x2="71.9" y2="207.77" stroke="#8a95a1" stroke-width="0.55" stroke-linecap="butt"/>
<line x1="74.2" y1="204.52" x2="74.2" y2="208.32" stroke="#8a95a1" stroke-width="0.55" stroke-linecap="butt"/>
<line x1="76.5" y1="205.08" x2="76.5" y2="208.88" stroke="#8a95a1" stroke-width="0.55" stroke-linecap="butt"/>
<line x1="78.8" y1="205.53" x2="78.8" y2="209.33" stroke="#8a95a1" stroke-width="0.55" stroke-linecap="butt"/>
<line x1="81.1" y1="205.98" x2="81.1" y2="209.78" stroke="#8a95a1" stroke-width="0.55" stroke-linecap="butt"/>
<line x1="83.4" y1="206.32" x2="83.4" y2="210.12" stroke="#8a95a1" stroke-width="0.55" stroke-linecap="butt"/>
<polyline fill="none" stroke="#7f8b98" stroke-width="0.8" stroke-linejoin="round" stroke-linecap="round" points="31.5,163 31.64,163.63 31.82,164.47 32.04,165.48 32.3,166.61 32.62,167.8 33,169 33.45,170.27 33.96,171.66 34.53,173.11 35.14,174.57 35.77,175.98 36.4,177.3 37.04,178.52 37.71,179.68 38.4,180.8 39.11,181.89 39.84,182.95 40.6,184 41.39,185.05 42.21,186.09 43.05,187.11 43.9,188.09 44.76,189.02 45.6,189.9 46.43,190.71 47.26,191.46 48.09,192.16 48.93,192.82 49.76,193.47 50.6,194.1 51.45,194.71 52.3,195.3 53.15,195.86 54,196.4 54.85,196.95 55.7,197.5 56.54,198.07 57.37,198.64 58.21,199.21 59.04,199.76 59.87,200.3 60.7,200.8 61.52,201.26 62.33,201.69 63.14,202.1 63.97,202.5 64.81,202.89 65.7,203.3 66.64,203.73 67.63,204.18 68.65,204.63 69.67,205.06 70.66,205.46 71.6,205.8 72.48,206.08 73.33,206.3 74.15,206.49 74.96,206.66 75.77,206.83 76.6,207 77.48,207.19 78.4,207.37 79.32,207.56 80.2,207.73 81.01,207.88 81.7,208 82.27,208.09 82.76,208.16 83.17,208.21 83.51,208.25 83.78,208.28 84,208.3"/>
<line x1="32" y1="168.2" x2="33.6" y2="168.2" stroke="#36404b" stroke-width="0.55" stroke-linecap="butt"/>
<line x1="34.3" y1="174.13" x2="35.9" y2="174.13" stroke="#36404b" stroke-width="0.55" stroke-linecap="butt"/>
<line x1="36.6" y1="178.9" x2="38.2" y2="178.9" stroke="#36404b" stroke-width="0.55" stroke-linecap="butt"/>
<line x1="38.9" y1="182.56" x2="40.5" y2="182.56" stroke="#36404b" stroke-width="0.55" stroke-linecap="butt"/>
<line x1="41.2" y1="185.65" x2="42.8" y2="185.65" stroke="#36404b" stroke-width="0.55" stroke-linecap="butt"/>
<line x1="43.5" y1="188.37" x2="45.1" y2="188.37" stroke="#36404b" stroke-width="0.55" stroke-linecap="butt"/>
<line x1="45.8" y1="190.74" x2="47.4" y2="190.74" stroke="#36404b" stroke-width="0.55" stroke-linecap="butt"/>
<line x1="48.1" y1="192.67" x2="49.7" y2="192.67" stroke="#36404b" stroke-width="0.55" stroke-linecap="butt"/>
<line x1="50.4" y1="194.5" x2="52" y2="194.5" stroke="#36404b" stroke-width="0.55" stroke-linecap="butt"/>
<line x1="52.7" y1="196.03" x2="54.3" y2="196.03" stroke="#36404b" stroke-width="0.55" stroke-linecap="butt"/>
<line x1="55" y1="197.57" x2="56.6" y2="197.57" stroke="#36404b" stroke-width="0.55" stroke-linecap="butt"/>
<line x1="57.3" y1="199.08" x2="58.9" y2="199.08" stroke="#36404b" stroke-width="0.55" stroke-linecap="butt"/>
<line x1="59.6" y1="200.6" x2="61.2" y2="200.6" stroke="#36404b" stroke-width="0.55" stroke-linecap="butt"/>
<line x1="61.9" y1="201.8" x2="63.5" y2="201.8" stroke="#36404b" stroke-width="0.55" stroke-linecap="butt"/>
<line x1="64.2" y1="202.95" x2="65.8" y2="202.95" stroke="#36404b" stroke-width="0.55" stroke-linecap="butt"/>
<line x1="66.5" y1="203.98" x2="68.1" y2="203.98" stroke="#36404b" stroke-width="0.55" stroke-linecap="butt"/>
<line x1="68.8" y1="204.95" x2="70.4" y2="204.95" stroke="#36404b" stroke-width="0.55" stroke-linecap="butt"/>
<line x1="71.1" y1="205.87" x2="72.7" y2="205.87" stroke="#36404b" stroke-width="0.55" stroke-linecap="butt"/>
<line x1="73.4" y1="206.42" x2="75" y2="206.42" stroke="#36404b" stroke-width="0.55" stroke-linecap="butt"/>
<line x1="75.7" y1="206.98" x2="77.3" y2="206.98" stroke="#36404b" stroke-width="0.55" stroke-linecap="butt"/>
<line x1="78" y1="207.43" x2="79.6" y2="207.43" stroke="#36404b" stroke-width="0.55" stroke-linecap="butt"/>
<line x1="80.3" y1="207.88" x2="81.9" y2="207.88" stroke="#36404b" stroke-width="0.55" stroke-linecap="butt"/>
<line x1="82.6" y1="208.22" x2="84.2" y2="208.22" stroke="#36404b" stroke-width="0.55" stroke-linecap="butt"/>
<circle cx="32.8" cy="168.2" r="0.7" fill="#36404b"/>
<circle cx="35.1" cy="174.13" r="0.7" fill="#36404b"/>
<circle cx="37.4" cy="178.9" r="0.7" fill="#36404b"/>
<circle cx="39.7" cy="182.56" r="0.7" fill="#36404b"/>
<circle cx="42" cy="185.65" r="0.7" fill="#36404b"/>
<circle cx="44.3" cy="188.37" r="0.7" fill="#36404b"/>
<circle cx="46.6" cy="190.74" r="0.7" fill="#36404b"/>
<circle cx="48.9" cy="192.67" r="0.7" fill="#36404b"/>
<circle cx="51.2" cy="194.5" r="0.7" fill="#36404b"/>
<circle cx="53.5" cy="196.03" r="0.7" fill="#36404b"/>
<circle cx="55.8" cy="197.57" r="0.7" fill="#36404b"/>
<circle cx="58.1" cy="199.08" r="0.7" fill="#36404b"/>
<circle cx="60.4" cy="200.6" r="0.7" fill="#36404b"/>
<circle cx="62.7" cy="201.8" r="0.7" fill="#36404b"/>
<circle cx="65" cy="202.95" r="0.7" fill="#36404b"/>
<circle cx="67.3" cy="203.98" r="0.7" fill="#36404b"/>
<circle cx="69.6" cy="204.95" r="0.7" fill="#36404b"/>
<circle cx="71.9" cy="205.87" r="0.7" fill="#36404b"/>
<circle cx="74.2" cy="206.42" r="0.7" fill="#36404b"/>
<circle cx="76.5" cy="206.98" r="0.7" fill="#36404b"/>
<circle cx="78.8" cy="207.43" r="0.7" fill="#36404b"/>
<circle cx="81.1" cy="207.88" r="0.7" fill="#36404b"/>
<circle cx="83.4" cy="208.22" r="0.7" fill="#36404b"/>
<polyline fill="none" stroke="#c97a3c" stroke-width="1.9" stroke-linejoin="round" stroke-linecap="butt" points="17.2,228.9 19.5,228.9 21.8,228.9 24.1,228.9 26.4,228.9 28.7,228.9 29.2,228.9"/>
<line x1="17.2" y1="227" x2="17.2" y2="230.8" stroke="#eeae78" stroke-width="0.55" stroke-linecap="butt"/>
<line x1="19.5" y1="227" x2="19.5" y2="230.8" stroke="#eeae78" stroke-width="0.55" stroke-linecap="butt"/>
<line x1="21.8" y1="227" x2="21.8" y2="230.8" stroke="#eeae78" stroke-width="0.55" stroke-linecap="butt"/>
<line x1="24.1" y1="227" x2="24.1" y2="230.8" stroke="#eeae78" stroke-width="0.55" stroke-linecap="butt"/>
<line x1="26.4" y1="227" x2="26.4" y2="230.8" stroke="#eeae78" stroke-width="0.55" stroke-linecap="butt"/>
<line x1="28.7" y1="227" x2="28.7" y2="230.8" stroke="#eeae78" stroke-width="0.55" stroke-linecap="butt"/>
<line x1="30.5" y1="152.8" x2="30.5" y2="156.6" stroke="#eeae78" stroke-width="0.55" stroke-linecap="butt"/>
<line x1="32.8" y1="163.38" x2="32.8" y2="167.18" stroke="#eeae78" stroke-width="0.55" stroke-linecap="butt"/>
<line x1="35.1" y1="168.68" x2="35.1" y2="172.48" stroke="#eeae78" stroke-width="0.55" stroke-linecap="butt"/>
<line x1="37.4" y1="172.99" x2="37.4" y2="176.79" stroke="#eeae78" stroke-width="0.55" stroke-linecap="butt"/>
<line x1="39.7" y1="177.1" x2="39.7" y2="180.9" stroke="#eeae78" stroke-width="0.55" stroke-linecap="butt"/>
<line x1="42" y1="180.12" x2="42" y2="183.92" stroke="#eeae78" stroke-width="0.55" stroke-linecap="butt"/>
<line x1="44.3" y1="183.14" x2="44.3" y2="186.94" stroke="#eeae78" stroke-width="0.55" stroke-linecap="butt"/>
<line x1="46.6" y1="185.64" x2="46.6" y2="189.44" stroke="#eeae78" stroke-width="0.55" stroke-linecap="butt"/>
<line x1="48.9" y1="187.98" x2="48.9" y2="191.78" stroke="#eeae78" stroke-width="0.55" stroke-linecap="butt"/>
<line x1="51.2" y1="190.08" x2="51.2" y2="193.88" stroke="#eeae78" stroke-width="0.55" stroke-linecap="butt"/>
<line x1="53.5" y1="192.01" x2="53.5" y2="195.81" stroke="#eeae78" stroke-width="0.55" stroke-linecap="butt"/>
<line x1="55.8" y1="193.75" x2="55.8" y2="197.55" stroke="#eeae78" stroke-width="0.55" stroke-linecap="butt"/>
<line x1="58.1" y1="195.24" x2="58.1" y2="199.04" stroke="#eeae78" stroke-width="0.55" stroke-linecap="butt"/>
<line x1="60.4" y1="196.74" x2="60.4" y2="200.54" stroke="#eeae78" stroke-width="0.55" stroke-linecap="butt"/>
<line x1="62.7" y1="198.3" x2="62.7" y2="202.1" stroke="#eeae78" stroke-width="0.55" stroke-linecap="butt"/>
<line x1="65" y1="199.85" x2="65" y2="203.65" stroke="#eeae78" stroke-width="0.55" stroke-linecap="butt"/>
<line x1="67.3" y1="201" x2="67.3" y2="204.8" stroke="#eeae78" stroke-width="0.55" stroke-linecap="butt"/>
<line x1="69.6" y1="202.15" x2="69.6" y2="205.95" stroke="#eeae78" stroke-width="0.55" stroke-linecap="butt"/>
<line x1="71.9" y1="202.94" x2="71.9" y2="206.74" stroke="#eeae78" stroke-width="0.55" stroke-linecap="butt"/>
<line x1="74.2" y1="203.68" x2="74.2" y2="207.48" stroke="#eeae78" stroke-width="0.55" stroke-linecap="butt"/>
<line x1="76.5" y1="204.3" x2="76.5" y2="208.1" stroke="#eeae78" stroke-width="0.55" stroke-linecap="butt"/>
<line x1="78.8" y1="204.88" x2="78.8" y2="208.68" stroke="#eeae78" stroke-width="0.55" stroke-linecap="butt"/>
<line x1="81.1" y1="205.45" x2="81.1" y2="209.25" stroke="#eeae78" stroke-width="0.55" stroke-linecap="butt"/>
<line x1="83.4" y1="205.97" x2="83.4" y2="209.77" stroke="#eeae78" stroke-width="0.55" stroke-linecap="butt"/>
<polyline fill="none" stroke="#eb9a55" stroke-width="1.0" stroke-linejoin="round" stroke-linecap="round" points="30.5,154.7 32.8,165.28 35.1,170.58 37.4,174.89 39.7,179 42,182.02 44.3,185.04 46.6,187.54 48.9,189.88 51.2,191.98 53.5,193.91 55.8,195.65 58.1,197.14 60.4,198.64 62.7,200.2 65,201.75 67.3,202.9 69.6,204.05 71.9,204.84 74.2,205.58 76.5,206.2 78.8,206.78 81.1,207.35 83.4,207.87"/>
<line x1="16.3" y1="228.9" x2="18.1" y2="228.9" stroke="#a85c22" stroke-width="0.55" stroke-linecap="butt"/>
<line x1="18.6" y1="228.9" x2="20.4" y2="228.9" stroke="#a85c22" stroke-width="0.55" stroke-linecap="butt"/>
<line x1="20.9" y1="228.9" x2="22.7" y2="228.9" stroke="#a85c22" stroke-width="0.55" stroke-linecap="butt"/>
<line x1="23.2" y1="228.9" x2="25" y2="228.9" stroke="#a85c22" stroke-width="0.55" stroke-linecap="butt"/>
<line x1="25.5" y1="228.9" x2="27.3" y2="228.9" stroke="#a85c22" stroke-width="0.55" stroke-linecap="butt"/>
<line x1="27.8" y1="228.9" x2="29.6" y2="228.9" stroke="#a85c22" stroke-width="0.55" stroke-linecap="butt"/>
<line x1="29.6" y1="154.7" x2="31.4" y2="154.7" stroke="#a85c22" stroke-width="0.55" stroke-linecap="butt"/>
<line x1="31.9" y1="165.28" x2="33.7" y2="165.28" stroke="#a85c22" stroke-width="0.55" stroke-linecap="butt"/>
<line x1="34.2" y1="170.58" x2="36" y2="170.58" stroke="#a85c22" stroke-width="0.55" stroke-linecap="butt"/>
<line x1="36.5" y1="174.89" x2="38.3" y2="174.89" stroke="#a85c22" stroke-width="0.55" stroke-linecap="butt"/>
<line x1="38.8" y1="179" x2="40.6" y2="179" stroke="#a85c22" stroke-width="0.55" stroke-linecap="butt"/>
<line x1="41.1" y1="182.02" x2="42.9" y2="182.02" stroke="#a85c22" stroke-width="0.55" stroke-linecap="butt"/>
<line x1="43.4" y1="185.04" x2="45.2" y2="185.04" stroke="#a85c22" stroke-width="0.55" stroke-linecap="butt"/>
<line x1="45.7" y1="187.54" x2="47.5" y2="187.54" stroke="#a85c22" stroke-width="0.55" stroke-linecap="butt"/>
<line x1="48" y1="189.88" x2="49.8" y2="189.88" stroke="#a85c22" stroke-width="0.55" stroke-linecap="butt"/>
<line x1="50.3" y1="191.98" x2="52.1" y2="191.98" stroke="#a85c22" stroke-width="0.55" stroke-linecap="butt"/>
<line x1="52.6" y1="193.91" x2="54.4" y2="193.91" stroke="#a85c22" stroke-width="0.55" stroke-linecap="butt"/>
<line x1="54.9" y1="195.65" x2="56.7" y2="195.65" stroke="#a85c22" stroke-width="0.55" stroke-linecap="butt"/>
<line x1="57.2" y1="197.14" x2="59" y2="197.14" stroke="#a85c22" stroke-width="0.55" stroke-linecap="butt"/>
<line x1="59.5" y1="198.64" x2="61.3" y2="198.64" stroke="#a85c22" stroke-width="0.55" stroke-linecap="butt"/>
<line x1="61.8" y1="200.2" x2="63.6" y2="200.2" stroke="#a85c22" stroke-width="0.55" stroke-linecap="butt"/>
<line x1="64.1" y1="201.75" x2="65.9" y2="201.75" stroke="#a85c22" stroke-width="0.55" stroke-linecap="butt"/>
<line x1="66.4" y1="202.9" x2="68.2" y2="202.9" stroke="#a85c22" stroke-width="0.55" stroke-linecap="butt"/>
<line x1="68.7" y1="204.05" x2="70.5" y2="204.05" stroke="#a85c22" stroke-width="0.55" stroke-linecap="butt"/>
<line x1="71" y1="204.84" x2="72.8" y2="204.84" stroke="#a85c22" stroke-width="0.55" stroke-linecap="butt"/>
<line x1="73.3" y1="205.58" x2="75.1" y2="205.58" stroke="#a85c22" stroke-width="0.55" stroke-linecap="butt"/>
<line x1="75.6" y1="206.2" x2="77.4" y2="206.2" stroke="#a85c22" stroke-width="0.55" stroke-linecap="butt"/>
<line x1="77.9" y1="206.78" x2="79.7" y2="206.78" stroke="#a85c22" stroke-width="0.55" stroke-linecap="butt"/>
<line x1="80.2" y1="207.35" x2="82" y2="207.35" stroke="#a85c22" stroke-width="0.55" stroke-linecap="butt"/>
<line x1="82.5" y1="207.87" x2="84.3" y2="207.87" stroke="#a85c22" stroke-width="0.55" stroke-linecap="butt"/>
<circle cx="17.2" cy="228.9" r="0.8" fill="#a85c22"/>
<circle cx="19.5" cy="228.9" r="0.8" fill="#a85c22"/>
<circle cx="21.8" cy="228.9" r="0.8" fill="#a85c22"/>
<circle cx="24.1" cy="228.9" r="0.8" fill="#a85c22"/>
<circle cx="26.4" cy="228.9" r="0.8" fill="#a85c22"/>
<circle cx="28.7" cy="228.9" r="0.8" fill="#a85c22"/>
<circle cx="30.5" cy="154.7" r="0.8" fill="#a85c22"/>
<circle cx="32.8" cy="165.28" r="0.8" fill="#a85c22"/>
<circle cx="35.1" cy="170.58" r="0.8" fill="#a85c22"/>
<circle cx="37.4" cy="174.89" r="0.8" fill="#a85c22"/>
<circle cx="39.7" cy="179" r="0.8" fill="#a85c22"/>
<circle cx="42" cy="182.02" r="0.8" fill="#a85c22"/>
<circle cx="44.3" cy="185.04" r="0.8" fill="#a85c22"/>
<circle cx="46.6" cy="187.54" r="0.8" fill="#a85c22"/>
<circle cx="48.9" cy="189.88" r="0.8" fill="#a85c22"/>
<circle cx="51.2" cy="191.98" r="0.8" fill="#a85c22"/>
<circle cx="53.5" cy="193.91" r="0.8" fill="#a85c22"/>
<circle cx="55.8" cy="195.65" r="0.8" fill="#a85c22"/>
<circle cx="58.1" cy="197.14" r="0.8" fill="#a85c22"/>
<circle cx="60.4" cy="198.64" r="0.8" fill="#a85c22"/>
<circle cx="62.7" cy="200.2" r="0.8" fill="#a85c22"/>
<circle cx="65" cy="201.75" r="0.8" fill="#a85c22"/>
<circle cx="67.3" cy="202.9" r="0.8" fill="#a85c22"/>
<circle cx="69.6" cy="204.05" r="0.8" fill="#a85c22"/>
<circle cx="71.9" cy="204.84" r="0.8" fill="#a85c22"/>
<circle cx="74.2" cy="205.58" r="0.8" fill="#a85c22"/>
<circle cx="76.5" cy="206.2" r="0.8" fill="#a85c22"/>
<circle cx="78.8" cy="206.78" r="0.8" fill="#a85c22"/>
<circle cx="81.1" cy="207.35" r="0.8" fill="#a85c22"/>
<circle cx="83.4" cy="207.87" r="0.8" fill="#a85c22"/>
<polyline fill="none" stroke="#eb9a55" stroke-width="1.0" stroke-linejoin="round" stroke-linecap="round" points="30.5,154.7 30.67,155.72 30.88,157.14 31.14,158.82 31.45,160.61 31.8,162.35 32.2,163.9 32.65,165.26 33.15,166.56 33.69,167.81 34.27,169.03 34.88,170.26 35.5,171.5 36.14,172.77 36.8,174.04 37.49,175.31 38.2,176.56 38.94,177.8 39.7,179 40.5,180.18 41.34,181.35 42.2,182.5 43.07,183.61 43.95,184.69 44.8,185.7 45.64,186.65 46.47,187.55 47.31,188.41 48.14,189.23 48.97,190.02 49.8,190.8 50.63,191.56 51.46,192.3 52.29,193.01 53.13,193.7 53.96,194.36 54.8,195 55.65,195.6 56.5,196.16 57.35,196.7 58.2,197.23 59.05,197.75 59.9,198.3 60.74,198.87 61.57,199.46 62.41,200.05 63.24,200.63 64.07,201.18 64.9,201.7 65.73,202.18 66.57,202.63 67.4,203.06 68.23,203.47 69.07,203.85 69.9,204.2 70.71,204.52 71.5,204.8 72.29,205.05 73.1,205.29 73.96,205.54 74.9,205.8 75.98,206.09 77.2,206.4 78.47,206.72 79.7,207.02 80.81,207.28 81.7,207.5 82.37,207.66 82.89,207.77 83.27,207.86 83.57,207.91 83.8,207.96 84,208"/>
<polyline fill="none" stroke="#e9a06a" stroke-width="0.8" stroke-linejoin="round" stroke-linecap="round" points="101.3,229.8 103.2,186"/>
<line x1="105.5" y1="190.4" x2="105.5" y2="194.2" stroke="#8a95a1" stroke-width="0.55" stroke-linecap="butt"/>
<line x1="107.8" y1="190.86" x2="107.8" y2="194.66" stroke="#8a95a1" stroke-width="0.55" stroke-linecap="butt"/>
<line x1="110.1" y1="190.73" x2="110.1" y2="194.53" stroke="#8a95a1" stroke-width="0.55" stroke-linecap="butt"/>
<line x1="112.4" y1="189.97" x2="112.4" y2="193.77" stroke="#8a95a1" stroke-width="0.55" stroke-linecap="butt"/>
<line x1="114.7" y1="189.36" x2="114.7" y2="193.16" stroke="#8a95a1" stroke-width="0.55" stroke-linecap="butt"/>
<line x1="117" y1="189.82" x2="117" y2="193.62" stroke="#8a95a1" stroke-width="0.55" stroke-linecap="butt"/>
<line x1="119.3" y1="190.44" x2="119.3" y2="194.24" stroke="#8a95a1" stroke-width="0.55" stroke-linecap="butt"/>
<line x1="121.6" y1="191.82" x2="121.6" y2="195.62" stroke="#8a95a1" stroke-width="0.55" stroke-linecap="butt"/>
<line x1="123.9" y1="193.15" x2="123.9" y2="196.95" stroke="#8a95a1" stroke-width="0.55" stroke-linecap="butt"/>
<line x1="126.2" y1="194.33" x2="126.2" y2="198.13" stroke="#8a95a1" stroke-width="0.55" stroke-linecap="butt"/>
<line x1="128.5" y1="195.5" x2="128.5" y2="199.3" stroke="#8a95a1" stroke-width="0.55" stroke-linecap="butt"/>
<line x1="130.8" y1="196.26" x2="130.8" y2="200.06" stroke="#8a95a1" stroke-width="0.55" stroke-linecap="butt"/>
<line x1="133.1" y1="196.99" x2="133.1" y2="200.79" stroke="#8a95a1" stroke-width="0.55" stroke-linecap="butt"/>
<line x1="135.4" y1="197.52" x2="135.4" y2="201.32" stroke="#8a95a1" stroke-width="0.55" stroke-linecap="butt"/>
<line x1="137.7" y1="197.9" x2="137.7" y2="201.7" stroke="#8a95a1" stroke-width="0.55" stroke-linecap="butt"/>
<line x1="140" y1="198.37" x2="140" y2="202.17" stroke="#8a95a1" stroke-width="0.55" stroke-linecap="butt"/>
<line x1="142.3" y1="199.13" x2="142.3" y2="202.93" stroke="#8a95a1" stroke-width="0.55" stroke-linecap="butt"/>
<line x1="144.6" y1="199.9" x2="144.6" y2="203.7" stroke="#8a95a1" stroke-width="0.55" stroke-linecap="butt"/>
<line x1="146.9" y1="200.33" x2="146.9" y2="204.13" stroke="#8a95a1" stroke-width="0.55" stroke-linecap="butt"/>
<line x1="149.2" y1="200.72" x2="149.2" y2="204.52" stroke="#8a95a1" stroke-width="0.55" stroke-linecap="butt"/>
<line x1="151.5" y1="201.14" x2="151.5" y2="204.94" stroke="#8a95a1" stroke-width="0.55" stroke-linecap="butt"/>
<line x1="153.8" y1="201.6" x2="153.8" y2="205.4" stroke="#8a95a1" stroke-width="0.55" stroke-linecap="butt"/>
<polyline fill="none" stroke="#7f8b98" stroke-width="0.8" stroke-linejoin="round" stroke-linecap="round" points="103.6,190 104.5,192.1 109,193 114.4,191.2 118.9,192.1 123.4,194.8 128.7,197.5 134.1,199.2 139.5,200.1 144.9,201.9 150.3,202.8 154.8,203.7 156,204"/>
<line x1="104.7" y1="192.3" x2="106.3" y2="192.3" stroke="#36404b" stroke-width="0.55" stroke-linecap="butt"/>
<line x1="107" y1="192.76" x2="108.6" y2="192.76" stroke="#36404b" stroke-width="0.55" stroke-linecap="butt"/>
<line x1="109.3" y1="192.63" x2="110.9" y2="192.63" stroke="#36404b" stroke-width="0.55" stroke-linecap="butt"/>
<line x1="111.6" y1="191.87" x2="113.2" y2="191.87" stroke="#36404b" stroke-width="0.55" stroke-linecap="butt"/>
<line x1="113.9" y1="191.26" x2="115.5" y2="191.26" stroke="#36404b" stroke-width="0.55" stroke-linecap="butt"/>
<line x1="116.2" y1="191.72" x2="117.8" y2="191.72" stroke="#36404b" stroke-width="0.55" stroke-linecap="butt"/>
<line x1="118.5" y1="192.34" x2="120.1" y2="192.34" stroke="#36404b" stroke-width="0.55" stroke-linecap="butt"/>
<line x1="120.8" y1="193.72" x2="122.4" y2="193.72" stroke="#36404b" stroke-width="0.55" stroke-linecap="butt"/>
<line x1="123.1" y1="195.05" x2="124.7" y2="195.05" stroke="#36404b" stroke-width="0.55" stroke-linecap="butt"/>
<line x1="125.4" y1="196.23" x2="127" y2="196.23" stroke="#36404b" stroke-width="0.55" stroke-linecap="butt"/>
<line x1="127.7" y1="197.4" x2="129.3" y2="197.4" stroke="#36404b" stroke-width="0.55" stroke-linecap="butt"/>
<line x1="130" y1="198.16" x2="131.6" y2="198.16" stroke="#36404b" stroke-width="0.55" stroke-linecap="butt"/>
<line x1="132.3" y1="198.89" x2="133.9" y2="198.89" stroke="#36404b" stroke-width="0.55" stroke-linecap="butt"/>
<line x1="134.6" y1="199.42" x2="136.2" y2="199.42" stroke="#36404b" stroke-width="0.55" stroke-linecap="butt"/>
<line x1="136.9" y1="199.8" x2="138.5" y2="199.8" stroke="#36404b" stroke-width="0.55" stroke-linecap="butt"/>
<line x1="139.2" y1="200.27" x2="140.8" y2="200.27" stroke="#36404b" stroke-width="0.55" stroke-linecap="butt"/>
<line x1="141.5" y1="201.03" x2="143.1" y2="201.03" stroke="#36404b" stroke-width="0.55" stroke-linecap="butt"/>
<line x1="143.8" y1="201.8" x2="145.4" y2="201.8" stroke="#36404b" stroke-width="0.55" stroke-linecap="butt"/>
<line x1="146.1" y1="202.23" x2="147.7" y2="202.23" stroke="#36404b" stroke-width="0.55" stroke-linecap="butt"/>
<line x1="148.4" y1="202.62" x2="150" y2="202.62" stroke="#36404b" stroke-width="0.55" stroke-linecap="butt"/>
<line x1="150.7" y1="203.04" x2="152.3" y2="203.04" stroke="#36404b" stroke-width="0.55" stroke-linecap="butt"/>
<line x1="153" y1="203.5" x2="154.6" y2="203.5" stroke="#36404b" stroke-width="0.55" stroke-linecap="butt"/>
<circle cx="105.5" cy="192.3" r="0.7" fill="#36404b"/>
<circle cx="107.8" cy="192.76" r="0.7" fill="#36404b"/>
<circle cx="110.1" cy="192.63" r="0.7" fill="#36404b"/>
<circle cx="112.4" cy="191.87" r="0.7" fill="#36404b"/>
<circle cx="114.7" cy="191.26" r="0.7" fill="#36404b"/>
<circle cx="117" cy="191.72" r="0.7" fill="#36404b"/>
<circle cx="119.3" cy="192.34" r="0.7" fill="#36404b"/>
<circle cx="121.6" cy="193.72" r="0.7" fill="#36404b"/>
<circle cx="123.9" cy="195.05" r="0.7" fill="#36404b"/>
<circle cx="126.2" cy="196.23" r="0.7" fill="#36404b"/>
<circle cx="128.5" cy="197.4" r="0.7" fill="#36404b"/>
<circle cx="130.8" cy="198.16" r="0.7" fill="#36404b"/>
<circle cx="133.1" cy="198.89" r="0.7" fill="#36404b"/>
<circle cx="135.4" cy="199.42" r="0.7" fill="#36404b"/>
<circle cx="137.7" cy="199.8" r="0.7" fill="#36404b"/>
<circle cx="140" cy="200.27" r="0.7" fill="#36404b"/>
<circle cx="142.3" cy="201.03" r="0.7" fill="#36404b"/>
<circle cx="144.6" cy="201.8" r="0.7" fill="#36404b"/>
<circle cx="146.9" cy="202.23" r="0.7" fill="#36404b"/>
<circle cx="149.2" cy="202.62" r="0.7" fill="#36404b"/>
<circle cx="151.5" cy="203.04" r="0.7" fill="#36404b"/>
<circle cx="153.8" cy="203.5" r="0.7" fill="#36404b"/>
<polyline fill="none" stroke="#c97a3c" stroke-width="1.9" stroke-linejoin="round" stroke-linecap="butt" points="88.9,229.8 91.2,229.8 93.5,229.8 95.8,229.8 98.1,229.8 100.4,229.8 101.5,229.8"/>
<line x1="88.9" y1="227.9" x2="88.9" y2="231.7" stroke="#eeae78" stroke-width="0.55" stroke-linecap="butt"/>
<line x1="91.2" y1="227.9" x2="91.2" y2="231.7" stroke="#eeae78" stroke-width="0.55" stroke-linecap="butt"/>
<line x1="93.5" y1="227.9" x2="93.5" y2="231.7" stroke="#eeae78" stroke-width="0.55" stroke-linecap="butt"/>
<line x1="95.8" y1="227.9" x2="95.8" y2="231.7" stroke="#eeae78" stroke-width="0.55" stroke-linecap="butt"/>
<line x1="98.1" y1="227.9" x2="98.1" y2="231.7" stroke="#eeae78" stroke-width="0.55" stroke-linecap="butt"/>
<line x1="100.4" y1="227.9" x2="100.4" y2="231.7" stroke="#eeae78" stroke-width="0.55" stroke-linecap="butt"/>
<line x1="103.2" y1="183.5" x2="103.2" y2="187.3" stroke="#eeae78" stroke-width="0.55" stroke-linecap="butt"/>
<line x1="105.5" y1="186.58" x2="105.5" y2="190.38" stroke="#eeae78" stroke-width="0.55" stroke-linecap="butt"/>
<line x1="107.8" y1="186.12" x2="107.8" y2="189.92" stroke="#eeae78" stroke-width="0.55" stroke-linecap="butt"/>
<line x1="110.1" y1="185.66" x2="110.1" y2="189.46" stroke="#eeae78" stroke-width="0.55" stroke-linecap="butt"/>
<line x1="112.4" y1="185.2" x2="112.4" y2="189" stroke="#eeae78" stroke-width="0.55" stroke-linecap="butt"/>
<line x1="114.7" y1="184.92" x2="114.7" y2="188.72" stroke="#eeae78" stroke-width="0.55" stroke-linecap="butt"/>
<line x1="117" y1="185.84" x2="117" y2="189.64" stroke="#eeae78" stroke-width="0.55" stroke-linecap="butt"/>
<line x1="119.3" y1="186.92" x2="119.3" y2="190.72" stroke="#eeae78" stroke-width="0.55" stroke-linecap="butt"/>
<line x1="121.6" y1="188.76" x2="121.6" y2="192.56" stroke="#eeae78" stroke-width="0.55" stroke-linecap="butt"/>
<line x1="123.9" y1="190.45" x2="123.9" y2="194.25" stroke="#eeae78" stroke-width="0.55" stroke-linecap="butt"/>
<line x1="126.2" y1="191.63" x2="126.2" y2="195.43" stroke="#eeae78" stroke-width="0.55" stroke-linecap="butt"/>
<line x1="128.5" y1="192.8" x2="128.5" y2="196.6" stroke="#eeae78" stroke-width="0.55" stroke-linecap="butt"/>
<line x1="130.8" y1="193.6" x2="130.8" y2="197.4" stroke="#eeae78" stroke-width="0.55" stroke-linecap="butt"/>
<line x1="133.1" y1="194.37" x2="133.1" y2="198.17" stroke="#eeae78" stroke-width="0.55" stroke-linecap="butt"/>
<line x1="135.4" y1="195.13" x2="135.4" y2="198.93" stroke="#eeae78" stroke-width="0.55" stroke-linecap="butt"/>
<line x1="137.7" y1="195.9" x2="137.7" y2="199.7" stroke="#eeae78" stroke-width="0.55" stroke-linecap="butt"/>
<line x1="140" y1="196.66" x2="140" y2="200.46" stroke="#eeae78" stroke-width="0.55" stroke-linecap="butt"/>
<line x1="142.3" y1="197.38" x2="142.3" y2="201.18" stroke="#eeae78" stroke-width="0.55" stroke-linecap="butt"/>
<line x1="144.6" y1="198.11" x2="144.6" y2="201.91" stroke="#eeae78" stroke-width="0.55" stroke-linecap="butt"/>
<line x1="146.9" y1="198.87" x2="146.9" y2="202.67" stroke="#eeae78" stroke-width="0.55" stroke-linecap="butt"/>
<line x1="149.2" y1="199.63" x2="149.2" y2="203.43" stroke="#eeae78" stroke-width="0.55" stroke-linecap="butt"/>
<line x1="151.5" y1="200.48" x2="151.5" y2="204.28" stroke="#eeae78" stroke-width="0.55" stroke-linecap="butt"/>
<line x1="153.8" y1="201.4" x2="153.8" y2="205.2" stroke="#eeae78" stroke-width="0.55" stroke-linecap="butt"/>
<polyline fill="none" stroke="#eb9a55" stroke-width="1.0" stroke-linejoin="round" stroke-linecap="round" points="103.2,185.4 105.5,188.48 107.8,188.02 110.1,187.56 112.4,187.1 114.7,186.82 117,187.74 119.3,188.82 121.6,190.66 123.9,192.35 126.2,193.53 128.5,194.7 130.8,195.5 133.1,196.27 135.4,197.03 137.7,197.8 140,198.56 142.3,199.28 144.6,200.01 146.9,200.77 149.2,201.53 151.5,202.38 153.8,203.3"/>
<line x1="88" y1="229.8" x2="89.8" y2="229.8" stroke="#a85c22" stroke-width="0.55" stroke-linecap="butt"/>
<line x1="90.3" y1="229.8" x2="92.1" y2="229.8" stroke="#a85c22" stroke-width="0.55" stroke-linecap="butt"/>
<line x1="92.6" y1="229.8" x2="94.4" y2="229.8" stroke="#a85c22" stroke-width="0.55" stroke-linecap="butt"/>
<line x1="94.9" y1="229.8" x2="96.7" y2="229.8" stroke="#a85c22" stroke-width="0.55" stroke-linecap="butt"/>
<line x1="97.2" y1="229.8" x2="99" y2="229.8" stroke="#a85c22" stroke-width="0.55" stroke-linecap="butt"/>
<line x1="99.5" y1="229.8" x2="101.3" y2="229.8" stroke="#a85c22" stroke-width="0.55" stroke-linecap="butt"/>
<line x1="102.3" y1="185.4" x2="104.1" y2="185.4" stroke="#a85c22" stroke-width="0.55" stroke-linecap="butt"/>
<line x1="104.6" y1="188.48" x2="106.4" y2="188.48" stroke="#a85c22" stroke-width="0.55" stroke-linecap="butt"/>
<line x1="106.9" y1="188.02" x2="108.7" y2="188.02" stroke="#a85c22" stroke-width="0.55" stroke-linecap="butt"/>
<line x1="109.2" y1="187.56" x2="111" y2="187.56" stroke="#a85c22" stroke-width="0.55" stroke-linecap="butt"/>
<line x1="111.5" y1="187.1" x2="113.3" y2="187.1" stroke="#a85c22" stroke-width="0.55" stroke-linecap="butt"/>
<line x1="113.8" y1="186.82" x2="115.6" y2="186.82" stroke="#a85c22" stroke-width="0.55" stroke-linecap="butt"/>
<line x1="116.1" y1="187.74" x2="117.9" y2="187.74" stroke="#a85c22" stroke-width="0.55" stroke-linecap="butt"/>
<line x1="118.4" y1="188.82" x2="120.2" y2="188.82" stroke="#a85c22" stroke-width="0.55" stroke-linecap="butt"/>
<line x1="120.7" y1="190.66" x2="122.5" y2="190.66" stroke="#a85c22" stroke-width="0.55" stroke-linecap="butt"/>
<line x1="123" y1="192.35" x2="124.8" y2="192.35" stroke="#a85c22" stroke-width="0.55" stroke-linecap="butt"/>
<line x1="125.3" y1="193.53" x2="127.1" y2="193.53" stroke="#a85c22" stroke-width="0.55" stroke-linecap="butt"/>
<line x1="127.6" y1="194.7" x2="129.4" y2="194.7" stroke="#a85c22" stroke-width="0.55" stroke-linecap="butt"/>
<line x1="129.9" y1="195.5" x2="131.7" y2="195.5" stroke="#a85c22" stroke-width="0.55" stroke-linecap="butt"/>
<line x1="132.2" y1="196.27" x2="134" y2="196.27" stroke="#a85c22" stroke-width="0.55" stroke-linecap="butt"/>
<line x1="134.5" y1="197.03" x2="136.3" y2="197.03" stroke="#a85c22" stroke-width="0.55" stroke-linecap="butt"/>
<line x1="136.8" y1="197.8" x2="138.6" y2="197.8" stroke="#a85c22" stroke-width="0.55" stroke-linecap="butt"/>
<line x1="139.1" y1="198.56" x2="140.9" y2="198.56" stroke="#a85c22" stroke-width="0.55" stroke-linecap="butt"/>
<line x1="141.4" y1="199.28" x2="143.2" y2="199.28" stroke="#a85c22" stroke-width="0.55" stroke-linecap="butt"/>
<line x1="143.7" y1="200.01" x2="145.5" y2="200.01" stroke="#a85c22" stroke-width="0.55" stroke-linecap="butt"/>
<line x1="146" y1="200.77" x2="147.8" y2="200.77" stroke="#a85c22" stroke-width="0.55" stroke-linecap="butt"/>
<line x1="148.3" y1="201.53" x2="150.1" y2="201.53" stroke="#a85c22" stroke-width="0.55" stroke-linecap="butt"/>
<line x1="150.6" y1="202.38" x2="152.4" y2="202.38" stroke="#a85c22" stroke-width="0.55" stroke-linecap="butt"/>
<line x1="152.9" y1="203.3" x2="154.7" y2="203.3" stroke="#a85c22" stroke-width="0.55" stroke-linecap="butt"/>
<circle cx="88.9" cy="229.8" r="0.8" fill="#a85c22"/>
<circle cx="91.2" cy="229.8" r="0.8" fill="#a85c22"/>
<circle cx="93.5" cy="229.8" r="0.8" fill="#a85c22"/>
<circle cx="95.8" cy="229.8" r="0.8" fill="#a85c22"/>
<circle cx="98.1" cy="229.8" r="0.8" fill="#a85c22"/>
<circle cx="100.4" cy="229.8" r="0.8" fill="#a85c22"/>
<circle cx="103.2" cy="185.4" r="0.8" fill="#a85c22"/>
<circle cx="105.5" cy="188.48" r="0.8" fill="#a85c22"/>
<circle cx="107.8" cy="188.02" r="0.8" fill="#a85c22"/>
<circle cx="110.1" cy="187.56" r="0.8" fill="#a85c22"/>
<circle cx="112.4" cy="187.1" r="0.8" fill="#a85c22"/>
<circle cx="114.7" cy="186.82" r="0.8" fill="#a85c22"/>
<circle cx="117" cy="187.74" r="0.8" fill="#a85c22"/>
<circle cx="119.3" cy="188.82" r="0.8" fill="#a85c22"/>
<circle cx="121.6" cy="190.66" r="0.8" fill="#a85c22"/>
<circle cx="123.9" cy="192.35" r="0.8" fill="#a85c22"/>
<circle cx="126.2" cy="193.53" r="0.8" fill="#a85c22"/>
<circle cx="128.5" cy="194.7" r="0.8" fill="#a85c22"/>
<circle cx="130.8" cy="195.5" r="0.8" fill="#a85c22"/>
<circle cx="133.1" cy="196.27" r="0.8" fill="#a85c22"/>
<circle cx="135.4" cy="197.03" r="0.8" fill="#a85c22"/>
<circle cx="137.7" cy="197.8" r="0.8" fill="#a85c22"/>
<circle cx="140" cy="198.56" r="0.8" fill="#a85c22"/>
<circle cx="142.3" cy="199.28" r="0.8" fill="#a85c22"/>
<circle cx="144.6" cy="200.01" r="0.8" fill="#a85c22"/>
<circle cx="146.9" cy="200.77" r="0.8" fill="#a85c22"/>
<circle cx="149.2" cy="201.53" r="0.8" fill="#a85c22"/>
<circle cx="151.5" cy="202.38" r="0.8" fill="#a85c22"/>
<circle cx="153.8" cy="203.3" r="0.8" fill="#a85c22"/>
<polyline fill="none" stroke="#eb9a55" stroke-width="1.0" stroke-linejoin="round" stroke-linecap="round" points="103.2,185.4 105.4,188.5 109.9,187.6 114.4,186.7 118.9,188.5 123.4,192.1 128.7,194.8 134.1,196.6 139.5,198.4 144.9,200.1 150.3,201.9 154.8,203.7 156,204"/>
<line x1="126.8" y1="152" x2="126.8" y2="169.6" stroke="#d9d9d9" stroke-width="0.6" stroke-linecap="butt"/>
<line x1="140.5" y1="152" x2="140.5" y2="169.6" stroke="#d9d9d9" stroke-width="0.6" stroke-linecap="butt"/>
<line x1="128.5" y1="153" x2="128.5" y2="169.6" stroke="#e6e6e6" stroke-width="0.5" stroke-linecap="butt"/>
<line x1="142.2" y1="153" x2="142.2" y2="169.6" stroke="#e6e6e6" stroke-width="0.5" stroke-linecap="butt"/>
<line x1="126.8" y1="171.9" x2="153" y2="171.9" stroke="#dedede" stroke-width="0.6" stroke-linecap="butt"/>
<polyline fill="none" stroke="#bf9f88" stroke-width="0.9" stroke-linejoin="round" stroke-linecap="round" points="128.5,153.7 128.55,154.35 128.59,155.29 128.66,156.38 128.75,157.5 128.89,158.55 129.1,159.4 129.37,160.05 129.7,160.59 130.07,161.05 130.49,161.46 130.93,161.83 131.4,162.2 131.9,162.55 132.45,162.87 133.03,163.16 133.63,163.42 134.22,163.66 134.8,163.9 135.39,164.12 136,164.33 136.61,164.52 137.19,164.69 137.73,164.85 138.2,165 138.6,165.14 138.96,165.26 139.26,165.37 139.52,165.46 139.73,165.54 139.9,165.6"/>
<polyline fill="none" stroke="#bf9f88" stroke-width="0.9" stroke-linejoin="round" stroke-linecap="round" points="142.2,158.2 142.37,158.53 142.58,159 142.84,159.54 143.14,160.11 143.5,160.65 143.9,161.1 144.38,161.45 144.93,161.76 145.53,162.02 146.15,162.28 146.75,162.53 147.3,162.8 147.8,163.08 148.27,163.37 148.73,163.65 149.18,163.93 149.63,164.22 150.1,164.5 150.61,164.8 151.17,165.13 151.72,165.46 152.24,165.76 152.68,166.02 153,166.2"/>
<circle cx="126.8" cy="169" r="0.6" fill="#bdbdbd"/>
<circle cx="140.5" cy="169" r="0.6" fill="#bdbdbd"/>
<text x="173" y="136.5" font-family="Liberation Sans" font-size="6.0" font-weight="bold" font-style="normal" text-anchor="start" fill="#111" stroke="#111" stroke-width="0.3">D</text>
<line x1="189" y1="142.5" x2="189" y2="243.5" stroke="#4a4a4a" stroke-width="0.8" stroke-linecap="butt"/>
<line x1="188" y1="153.75" x2="189" y2="153.75" stroke="#4a4a4a" stroke-width="0.5" stroke-linecap="butt"/>
<text x="185.9" y="155.15" font-family="Liberation Serif" font-size="3.9" font-weight="bold" font-style="normal" text-anchor="end" fill="#151515" stroke="#151515" stroke-width="0.16">1,8</text>
<line x1="188" y1="176" x2="189" y2="176" stroke="#4a4a4a" stroke-width="0.5" stroke-linecap="butt"/>
<text x="185.9" y="177.4" font-family="Liberation Serif" font-size="3.9" font-weight="bold" font-style="normal" text-anchor="end" fill="#151515" stroke="#151515" stroke-width="0.16">1,5</text>
<line x1="188" y1="198.5" x2="189" y2="198.5" stroke="#4a4a4a" stroke-width="0.5" stroke-linecap="butt"/>
<text x="185.9" y="199.9" font-family="Liberation Serif" font-size="3.9" font-weight="bold" font-style="normal" text-anchor="end" fill="#151515" stroke="#151515" stroke-width="0.16">1,2</text>
<line x1="188" y1="220.8" x2="189" y2="220.8" stroke="#4a4a4a" stroke-width="0.5" stroke-linecap="butt"/>
<text x="185.9" y="222.2" font-family="Liberation Serif" font-size="3.9" font-weight="bold" font-style="normal" text-anchor="end" fill="#151515" stroke="#151515" stroke-width="0.16">0,9</text>
<line x1="188" y1="243" x2="189" y2="243" stroke="#4a4a4a" stroke-width="0.5" stroke-linecap="butt"/>
<text x="185.9" y="244.4" font-family="Liberation Serif" font-size="3.9" font-weight="bold" font-style="normal" text-anchor="end" fill="#151515" stroke="#151515" stroke-width="0.16">0,6</text>
<text x="178" y="193" font-family="Liberation Serif" font-size="3.8" font-weight="bold" font-style="normal" text-anchor="middle" fill="#151515" stroke="#151515" stroke-width="0.16" transform="rotate(-90 178 193)">Relative power</text>
<line x1="189" y1="243.5" x2="330" y2="243.5" stroke="#4a4a4a" stroke-width="0.8" stroke-linecap="butt"/>
<line x1="189.9" y1="243.5" x2="189.9" y2="244.7" stroke="#4a4a4a" stroke-width="0.5" stroke-linecap="butt"/>
<line x1="194.22" y1="243.5" x2="194.22" y2="244.7" stroke="#4a4a4a" stroke-width="0.5" stroke-linecap="butt"/>
<line x1="198.55" y1="243.5" x2="198.55" y2="244.7" stroke="#4a4a4a" stroke-width="0.5" stroke-linecap="butt"/>
<line x1="202.88" y1="243.5" x2="202.88" y2="244.7" stroke="#4a4a4a" stroke-width="0.5" stroke-linecap="butt"/>
<line x1="207.2" y1="243.5" x2="207.2" y2="244.7" stroke="#4a4a4a" stroke-width="0.5" stroke-linecap="butt"/>
<line x1="211.53" y1="243.5" x2="211.53" y2="244.7" stroke="#4a4a4a" stroke-width="0.5" stroke-linecap="butt"/>
<line x1="215.85" y1="243.5" x2="215.85" y2="244.7" stroke="#4a4a4a" stroke-width="0.5" stroke-linecap="butt"/>
<line x1="220.18" y1="243.5" x2="220.18" y2="244.7" stroke="#4a4a4a" stroke-width="0.5" stroke-linecap="butt"/>
<line x1="224.5" y1="243.5" x2="224.5" y2="244.7" stroke="#4a4a4a" stroke-width="0.5" stroke-linecap="butt"/>
<line x1="228.83" y1="243.5" x2="228.83" y2="244.7" stroke="#4a4a4a" stroke-width="0.5" stroke-linecap="butt"/>
<line x1="233.15" y1="243.5" x2="233.15" y2="244.7" stroke="#4a4a4a" stroke-width="0.5" stroke-linecap="butt"/>
<line x1="237.48" y1="243.5" x2="237.48" y2="244.7" stroke="#4a4a4a" stroke-width="0.5" stroke-linecap="butt"/>
<line x1="241.8" y1="243.5" x2="241.8" y2="244.7" stroke="#4a4a4a" stroke-width="0.5" stroke-linecap="butt"/>
<line x1="246.12" y1="243.5" x2="246.12" y2="244.7" stroke="#4a4a4a" stroke-width="0.5" stroke-linecap="butt"/>
<line x1="250.45" y1="243.5" x2="250.45" y2="244.7" stroke="#4a4a4a" stroke-width="0.5" stroke-linecap="butt"/>
<line x1="254.78" y1="243.5" x2="254.78" y2="244.7" stroke="#4a4a4a" stroke-width="0.5" stroke-linecap="butt"/>
<line x1="259.1" y1="243.5" x2="259.1" y2="244.7" stroke="#4a4a4a" stroke-width="0.5" stroke-linecap="butt"/>
<line x1="263.43" y1="243.5" x2="263.43" y2="244.7" stroke="#4a4a4a" stroke-width="0.5" stroke-linecap="butt"/>
<line x1="267.75" y1="243.5" x2="267.75" y2="244.7" stroke="#4a4a4a" stroke-width="0.5" stroke-linecap="butt"/>
<line x1="272.07" y1="243.5" x2="272.07" y2="244.7" stroke="#4a4a4a" stroke-width="0.5" stroke-linecap="butt"/>
<line x1="276.4" y1="243.5" x2="276.4" y2="244.7" stroke="#4a4a4a" stroke-width="0.5" stroke-linecap="butt"/>
<line x1="280.73" y1="243.5" x2="280.73" y2="244.7" stroke="#4a4a4a" stroke-width="0.5" stroke-linecap="butt"/>
<line x1="285.05" y1="243.5" x2="285.05" y2="244.7" stroke="#4a4a4a" stroke-width="0.5" stroke-linecap="butt"/>
<line x1="289.38" y1="243.5" x2="289.38" y2="244.7" stroke="#4a4a4a" stroke-width="0.5" stroke-linecap="butt"/>
<line x1="293.7" y1="243.5" x2="293.7" y2="244.7" stroke="#4a4a4a" stroke-width="0.5" stroke-linecap="butt"/>
<line x1="298.02" y1="243.5" x2="298.02" y2="244.7" stroke="#4a4a4a" stroke-width="0.5" stroke-linecap="butt"/>
<line x1="302.35" y1="243.5" x2="302.35" y2="244.7" stroke="#4a4a4a" stroke-width="0.5" stroke-linecap="butt"/>
<line x1="306.68" y1="243.5" x2="306.68" y2="244.7" stroke="#4a4a4a" stroke-width="0.5" stroke-linecap="butt"/>
<line x1="311" y1="243.5" x2="311" y2="244.7" stroke="#4a4a4a" stroke-width="0.5" stroke-linecap="butt"/>
<line x1="315.33" y1="243.5" x2="315.33" y2="244.7" stroke="#4a4a4a" stroke-width="0.5" stroke-linecap="butt"/>
<line x1="319.65" y1="243.5" x2="319.65" y2="244.7" stroke="#4a4a4a" stroke-width="0.5" stroke-linecap="butt"/>
<line x1="323.98" y1="243.5" x2="323.98" y2="244.7" stroke="#4a4a4a" stroke-width="0.5" stroke-linecap="butt"/>
<line x1="328.3" y1="243.5" x2="328.3" y2="244.7" stroke="#4a4a4a" stroke-width="0.5" stroke-linecap="butt"/>
<text x="189.9" y="249.95" font-family="Liberation Serif" font-size="3.9" font-weight="bold" font-style="normal" text-anchor="middle" fill="#151515" stroke="#151515" stroke-width="0.16">4</text>
<text x="207.2" y="249.95" font-family="Liberation Serif" font-size="3.9" font-weight="bold" font-style="normal" text-anchor="middle" fill="#151515" stroke="#151515" stroke-width="0.16">4,5</text>
<text x="224.5" y="249.95" font-family="Liberation Serif" font-size="3.9" font-weight="bold" font-style="normal" text-anchor="middle" fill="#151515" stroke="#151515" stroke-width="0.16">5</text>
<text x="241.8" y="249.95" font-family="Liberation Serif" font-size="3.9" font-weight="bold" font-style="normal" text-anchor="middle" fill="#151515" stroke="#151515" stroke-width="0.16">5,5</text>
<text x="259.1" y="249.95" font-family="Liberation Serif" font-size="3.9" font-weight="bold" font-style="normal" text-anchor="middle" fill="#151515" stroke="#151515" stroke-width="0.16">6</text>
<text x="276.4" y="249.95" font-family="Liberation Serif" font-size="3.9" font-weight="bold" font-style="normal" text-anchor="middle" fill="#151515" stroke="#151515" stroke-width="0.16">6,5</text>
<text x="293.7" y="249.95" font-family="Liberation Serif" font-size="3.9" font-weight="bold" font-style="normal" text-anchor="middle" fill="#151515" stroke="#151515" stroke-width="0.16">7</text>
<text x="311" y="249.95" font-family="Liberation Serif" font-size="3.9" font-weight="bold" font-style="normal" text-anchor="middle" fill="#151515" stroke="#151515" stroke-width="0.16">7,5</text>
<text x="328.3" y="249.95" font-family="Liberation Serif" font-size="3.9" font-weight="bold" font-style="normal" text-anchor="middle" fill="#151515" stroke="#151515" stroke-width="0.16">8</text>
<text x="260.5" y="256.6" font-family="Liberation Serif" font-size="4.1" font-weight="bold" font-style="normal" text-anchor="middle" fill="#151515" stroke="#151515" stroke-width="0.16">Theta frequency range (Hz)</text>
<line x1="193.4" y1="205.03" x2="193.4" y2="215.43" stroke="#8a95a1" stroke-width="0.55" stroke-linecap="butt"/>
<line x1="197.73" y1="207.07" x2="197.73" y2="217.47" stroke="#8a95a1" stroke-width="0.55" stroke-linecap="butt"/>
<line x1="202.06" y1="209.23" x2="202.06" y2="219.63" stroke="#8a95a1" stroke-width="0.55" stroke-linecap="butt"/>
<line x1="206.39" y1="211.67" x2="206.39" y2="222.07" stroke="#8a95a1" stroke-width="0.55" stroke-linecap="butt"/>
<line x1="210.72" y1="213.69" x2="210.72" y2="224.09" stroke="#8a95a1" stroke-width="0.55" stroke-linecap="butt"/>
<line x1="215.05" y1="215.34" x2="215.05" y2="225.74" stroke="#8a95a1" stroke-width="0.55" stroke-linecap="butt"/>
<line x1="219.38" y1="216.74" x2="219.38" y2="227.14" stroke="#8a95a1" stroke-width="0.55" stroke-linecap="butt"/>
<line x1="223.71" y1="217.79" x2="223.71" y2="228.19" stroke="#8a95a1" stroke-width="0.55" stroke-linecap="butt"/>
<line x1="228.04" y1="218.84" x2="228.04" y2="229.24" stroke="#8a95a1" stroke-width="0.55" stroke-linecap="butt"/>
<line x1="232.37" y1="219.96" x2="232.37" y2="230.36" stroke="#8a95a1" stroke-width="0.55" stroke-linecap="butt"/>
<line x1="236.7" y1="220.26" x2="236.7" y2="230.66" stroke="#8a95a1" stroke-width="0.55" stroke-linecap="butt"/>
<line x1="241.03" y1="219.85" x2="241.03" y2="230.25" stroke="#8a95a1" stroke-width="0.55" stroke-linecap="butt"/>
<line x1="245.36" y1="218.32" x2="245.36" y2="228.72" stroke="#8a95a1" stroke-width="0.55" stroke-linecap="butt"/>
<line x1="249.69" y1="215.66" x2="249.69" y2="226.06" stroke="#8a95a1" stroke-width="0.55" stroke-linecap="butt"/>
<line x1="254.02" y1="212.35" x2="254.02" y2="222.75" stroke="#8a95a1" stroke-width="0.55" stroke-linecap="butt"/>
<line x1="258.35" y1="209.05" x2="258.35" y2="219.45" stroke="#8a95a1" stroke-width="0.55" stroke-linecap="butt"/>
<line x1="262.68" y1="205.8" x2="262.68" y2="216.2" stroke="#8a95a1" stroke-width="0.55" stroke-linecap="butt"/>
<line x1="267.01" y1="201.63" x2="267.01" y2="212.03" stroke="#8a95a1" stroke-width="0.55" stroke-linecap="butt"/>
<line x1="271.34" y1="196.24" x2="271.34" y2="206.64" stroke="#8a95a1" stroke-width="0.55" stroke-linecap="butt"/>
<line x1="275.67" y1="190.75" x2="275.67" y2="201.15" stroke="#8a95a1" stroke-width="0.55" stroke-linecap="butt"/>
<line x1="280" y1="184.8" x2="280" y2="195.2" stroke="#8a95a1" stroke-width="0.55" stroke-linecap="butt"/>
<line x1="284.33" y1="178.01" x2="284.33" y2="188.41" stroke="#8a95a1" stroke-width="0.55" stroke-linecap="butt"/>
<line x1="288.66" y1="170.56" x2="288.66" y2="180.96" stroke="#8a95a1" stroke-width="0.55" stroke-linecap="butt"/>
<line x1="292.99" y1="164.94" x2="292.99" y2="175.34" stroke="#8a95a1" stroke-width="0.55" stroke-linecap="butt"/>
<line x1="297.32" y1="162.21" x2="297.32" y2="172.61" stroke="#8a95a1" stroke-width="0.55" stroke-linecap="butt"/>
<line x1="301.65" y1="162.2" x2="301.65" y2="172.6" stroke="#8a95a1" stroke-width="0.55" stroke-linecap="butt"/>
<line x1="305.98" y1="164.34" x2="305.98" y2="174.74" stroke="#8a95a1" stroke-width="0.55" stroke-linecap="butt"/>
<line x1="310.31" y1="168.61" x2="310.31" y2="179.01" stroke="#8a95a1" stroke-width="0.55" stroke-linecap="butt"/>
<line x1="314.64" y1="174.63" x2="314.64" y2="185.03" stroke="#8a95a1" stroke-width="0.55" stroke-linecap="butt"/>
<line x1="318.97" y1="181.21" x2="318.97" y2="191.61" stroke="#8a95a1" stroke-width="0.55" stroke-linecap="butt"/>
<line x1="323.3" y1="188.1" x2="323.3" y2="198.5" stroke="#8a95a1" stroke-width="0.55" stroke-linecap="butt"/>
<line x1="327.63" y1="194.69" x2="327.63" y2="205.09" stroke="#8a95a1" stroke-width="0.55" stroke-linecap="butt"/>
<polyline fill="none" stroke="#7f8b98" stroke-width="0.85" stroke-linejoin="round" stroke-linecap="round" points="192.7,209.9 198,212.4 203,214.9 208,217.8 213,219.8 218,221.6 222.9,222.8 227.9,224 232.9,225.3 237.8,225.5 242.8,224.8 247.8,222.3 255,216.8 260,213 265.1,209.2 270.1,203 275.2,196.6 280,190 284.4,183.1 288.75,175.6 293.1,170 297.5,167.3 301.8,167.4 306.1,169.6 310.5,174 314.9,180.2 318.9,186.3 323.3,193.3 327.7,200"/>
<line x1="192.4" y1="210.23" x2="194.4" y2="210.23" stroke="#36404b" stroke-width="0.55" stroke-linecap="butt"/>
<line x1="196.73" y1="212.27" x2="198.73" y2="212.27" stroke="#36404b" stroke-width="0.55" stroke-linecap="butt"/>
<line x1="201.06" y1="214.43" x2="203.06" y2="214.43" stroke="#36404b" stroke-width="0.55" stroke-linecap="butt"/>
<line x1="205.39" y1="216.87" x2="207.39" y2="216.87" stroke="#36404b" stroke-width="0.55" stroke-linecap="butt"/>
<line x1="209.72" y1="218.89" x2="211.72" y2="218.89" stroke="#36404b" stroke-width="0.55" stroke-linecap="butt"/>
<line x1="214.05" y1="220.54" x2="216.05" y2="220.54" stroke="#36404b" stroke-width="0.55" stroke-linecap="butt"/>
<line x1="218.38" y1="221.94" x2="220.38" y2="221.94" stroke="#36404b" stroke-width="0.55" stroke-linecap="butt"/>
<line x1="222.71" y1="222.99" x2="224.71" y2="222.99" stroke="#36404b" stroke-width="0.55" stroke-linecap="butt"/>
<line x1="227.04" y1="224.04" x2="229.04" y2="224.04" stroke="#36404b" stroke-width="0.55" stroke-linecap="butt"/>
<line x1="231.37" y1="225.16" x2="233.37" y2="225.16" stroke="#36404b" stroke-width="0.55" stroke-linecap="butt"/>
<line x1="235.7" y1="225.46" x2="237.7" y2="225.46" stroke="#36404b" stroke-width="0.55" stroke-linecap="butt"/>
<line x1="240.03" y1="225.05" x2="242.03" y2="225.05" stroke="#36404b" stroke-width="0.55" stroke-linecap="butt"/>
<line x1="244.36" y1="223.52" x2="246.36" y2="223.52" stroke="#36404b" stroke-width="0.55" stroke-linecap="butt"/>
<line x1="248.69" y1="220.86" x2="250.69" y2="220.86" stroke="#36404b" stroke-width="0.55" stroke-linecap="butt"/>
<line x1="253.02" y1="217.55" x2="255.02" y2="217.55" stroke="#36404b" stroke-width="0.55" stroke-linecap="butt"/>
<line x1="257.35" y1="214.25" x2="259.35" y2="214.25" stroke="#36404b" stroke-width="0.55" stroke-linecap="butt"/>
<line x1="261.68" y1="211" x2="263.68" y2="211" stroke="#36404b" stroke-width="0.55" stroke-linecap="butt"/>
<line x1="266.01" y1="206.83" x2="268.01" y2="206.83" stroke="#36404b" stroke-width="0.55" stroke-linecap="butt"/>
<line x1="270.34" y1="201.44" x2="272.34" y2="201.44" stroke="#36404b" stroke-width="0.55" stroke-linecap="butt"/>
<line x1="274.67" y1="195.95" x2="276.67" y2="195.95" stroke="#36404b" stroke-width="0.55" stroke-linecap="butt"/>
<line x1="279" y1="190" x2="281" y2="190" stroke="#36404b" stroke-width="0.55" stroke-linecap="butt"/>
<line x1="283.33" y1="183.21" x2="285.33" y2="183.21" stroke="#36404b" stroke-width="0.55" stroke-linecap="butt"/>
<line x1="287.66" y1="175.76" x2="289.66" y2="175.76" stroke="#36404b" stroke-width="0.55" stroke-linecap="butt"/>
<line x1="291.99" y1="170.14" x2="293.99" y2="170.14" stroke="#36404b" stroke-width="0.55" stroke-linecap="butt"/>
<line x1="296.32" y1="167.41" x2="298.32" y2="167.41" stroke="#36404b" stroke-width="0.55" stroke-linecap="butt"/>
<line x1="300.65" y1="167.4" x2="302.65" y2="167.4" stroke="#36404b" stroke-width="0.55" stroke-linecap="butt"/>
<line x1="304.98" y1="169.54" x2="306.98" y2="169.54" stroke="#36404b" stroke-width="0.55" stroke-linecap="butt"/>
<line x1="309.31" y1="173.81" x2="311.31" y2="173.81" stroke="#36404b" stroke-width="0.55" stroke-linecap="butt"/>
<line x1="313.64" y1="179.83" x2="315.64" y2="179.83" stroke="#36404b" stroke-width="0.55" stroke-linecap="butt"/>
<line x1="317.97" y1="186.41" x2="319.97" y2="186.41" stroke="#36404b" stroke-width="0.55" stroke-linecap="butt"/>
<line x1="322.3" y1="193.3" x2="324.3" y2="193.3" stroke="#36404b" stroke-width="0.55" stroke-linecap="butt"/>
<line x1="326.63" y1="199.89" x2="328.63" y2="199.89" stroke="#36404b" stroke-width="0.55" stroke-linecap="butt"/>
<circle cx="193.4" cy="210.23" r="0.8" fill="#36404b"/>
<circle cx="197.73" cy="212.27" r="0.8" fill="#36404b"/>
<circle cx="202.06" cy="214.43" r="0.8" fill="#36404b"/>
<circle cx="206.39" cy="216.87" r="0.8" fill="#36404b"/>
<circle cx="210.72" cy="218.89" r="0.8" fill="#36404b"/>
<circle cx="215.05" cy="220.54" r="0.8" fill="#36404b"/>
<circle cx="219.38" cy="221.94" r="0.8" fill="#36404b"/>
<circle cx="223.71" cy="222.99" r="0.8" fill="#36404b"/>
<circle cx="228.04" cy="224.04" r="0.8" fill="#36404b"/>
<circle cx="232.37" cy="225.16" r="0.8" fill="#36404b"/>
<circle cx="236.7" cy="225.46" r="0.8" fill="#36404b"/>
<circle cx="241.03" cy="225.05" r="0.8" fill="#36404b"/>
<circle cx="245.36" cy="223.52" r="0.8" fill="#36404b"/>
<circle cx="249.69" cy="220.86" r="0.8" fill="#36404b"/>
<circle cx="254.02" cy="217.55" r="0.8" fill="#36404b"/>
<circle cx="258.35" cy="214.25" r="0.8" fill="#36404b"/>
<circle cx="262.68" cy="211" r="0.8" fill="#36404b"/>
<circle cx="267.01" cy="206.83" r="0.8" fill="#36404b"/>
<circle cx="271.34" cy="201.44" r="0.8" fill="#36404b"/>
<circle cx="275.67" cy="195.95" r="0.8" fill="#36404b"/>
<circle cx="280" cy="190" r="0.8" fill="#36404b"/>
<circle cx="284.33" cy="183.21" r="0.8" fill="#36404b"/>
<circle cx="288.66" cy="175.76" r="0.8" fill="#36404b"/>
<circle cx="292.99" cy="170.14" r="0.8" fill="#36404b"/>
<circle cx="297.32" cy="167.41" r="0.8" fill="#36404b"/>
<circle cx="301.65" cy="167.4" r="0.8" fill="#36404b"/>
<circle cx="305.98" cy="169.54" r="0.8" fill="#36404b"/>
<circle cx="310.31" cy="173.81" r="0.8" fill="#36404b"/>
<circle cx="314.64" cy="179.83" r="0.8" fill="#36404b"/>
<circle cx="318.97" cy="186.41" r="0.8" fill="#36404b"/>
<circle cx="323.3" cy="193.3" r="0.8" fill="#36404b"/>
<circle cx="327.63" cy="199.89" r="0.8" fill="#36404b"/>
<line x1="193.4" y1="214.86" x2="193.4" y2="225.26" stroke="#eeae78" stroke-width="0.55" stroke-linecap="butt"/>
<line x1="197.73" y1="216.5" x2="197.73" y2="226.9" stroke="#eeae78" stroke-width="0.55" stroke-linecap="butt"/>
<line x1="202.06" y1="218.63" x2="202.06" y2="229.03" stroke="#eeae78" stroke-width="0.55" stroke-linecap="butt"/>
<line x1="206.39" y1="220.25" x2="206.39" y2="230.65" stroke="#eeae78" stroke-width="0.55" stroke-linecap="butt"/>
<line x1="210.72" y1="221.51" x2="210.72" y2="231.91" stroke="#eeae78" stroke-width="0.55" stroke-linecap="butt"/>
<line x1="215.05" y1="222.59" x2="215.05" y2="232.99" stroke="#eeae78" stroke-width="0.55" stroke-linecap="butt"/>
<line x1="219.38" y1="223.67" x2="219.38" y2="234.07" stroke="#eeae78" stroke-width="0.55" stroke-linecap="butt"/>
<line x1="223.71" y1="224.68" x2="223.71" y2="235.08" stroke="#eeae78" stroke-width="0.55" stroke-linecap="butt"/>
<line x1="228.04" y1="225.1" x2="228.04" y2="235.5" stroke="#eeae78" stroke-width="0.55" stroke-linecap="butt"/>
<line x1="232.37" y1="225.1" x2="232.37" y2="235.5" stroke="#eeae78" stroke-width="0.55" stroke-linecap="butt"/>
<line x1="236.7" y1="224.71" x2="236.7" y2="235.11" stroke="#eeae78" stroke-width="0.55" stroke-linecap="butt"/>
<line x1="241.03" y1="223.76" x2="241.03" y2="234.16" stroke="#eeae78" stroke-width="0.55" stroke-linecap="butt"/>
<line x1="245.36" y1="222.43" x2="245.36" y2="232.83" stroke="#eeae78" stroke-width="0.55" stroke-linecap="butt"/>
<line x1="249.69" y1="220.6" x2="249.69" y2="231" stroke="#eeae78" stroke-width="0.55" stroke-linecap="butt"/>
<line x1="254.02" y1="218.32" x2="254.02" y2="228.72" stroke="#eeae78" stroke-width="0.55" stroke-linecap="butt"/>
<line x1="258.35" y1="216.12" x2="258.35" y2="226.52" stroke="#eeae78" stroke-width="0.55" stroke-linecap="butt"/>
<line x1="262.68" y1="213.99" x2="262.68" y2="224.39" stroke="#eeae78" stroke-width="0.55" stroke-linecap="butt"/>
<line x1="267.01" y1="211.85" x2="267.01" y2="222.25" stroke="#eeae78" stroke-width="0.55" stroke-linecap="butt"/>
<line x1="271.34" y1="209.69" x2="271.34" y2="220.09" stroke="#eeae78" stroke-width="0.55" stroke-linecap="butt"/>
<line x1="275.67" y1="207.56" x2="275.67" y2="217.96" stroke="#eeae78" stroke-width="0.55" stroke-linecap="butt"/>
<line x1="280" y1="205.4" x2="280" y2="215.8" stroke="#eeae78" stroke-width="0.55" stroke-linecap="butt"/>
<line x1="284.33" y1="200.87" x2="284.33" y2="211.27" stroke="#eeae78" stroke-width="0.55" stroke-linecap="butt"/>
<line x1="288.66" y1="197.37" x2="288.66" y2="207.77" stroke="#eeae78" stroke-width="0.55" stroke-linecap="butt"/>
<line x1="292.99" y1="193.01" x2="292.99" y2="203.41" stroke="#eeae78" stroke-width="0.55" stroke-linecap="butt"/>
<line x1="297.32" y1="188.73" x2="297.32" y2="199.13" stroke="#eeae78" stroke-width="0.55" stroke-linecap="butt"/>
<line x1="301.65" y1="186.74" x2="301.65" y2="197.14" stroke="#eeae78" stroke-width="0.55" stroke-linecap="butt"/>
<line x1="305.98" y1="187.19" x2="305.98" y2="197.59" stroke="#eeae78" stroke-width="0.55" stroke-linecap="butt"/>
<line x1="310.31" y1="188.06" x2="310.31" y2="198.46" stroke="#eeae78" stroke-width="0.55" stroke-linecap="butt"/>
<line x1="314.64" y1="189.7" x2="314.64" y2="200.1" stroke="#eeae78" stroke-width="0.55" stroke-linecap="butt"/>
<line x1="318.97" y1="192.56" x2="318.97" y2="202.96" stroke="#eeae78" stroke-width="0.55" stroke-linecap="butt"/>
<line x1="323.3" y1="196" x2="323.3" y2="206.4" stroke="#eeae78" stroke-width="0.55" stroke-linecap="butt"/>
<line x1="327.63" y1="198.56" x2="327.63" y2="208.96" stroke="#eeae78" stroke-width="0.55" stroke-linecap="butt"/>
<polyline fill="none" stroke="#eb9a55" stroke-width="0.95" stroke-linejoin="round" stroke-linecap="round" points="192.7,219.8 198,221.8 203,224.3 208,226 213,227.3 218,228.5 222.9,229.8 227.9,230.3 232.9,230.3 237.8,229.8 242.8,228.5 247.8,226.8 255,223 260,220.5 265.1,218 270.1,215.5 275.2,213 280.2,210.5 284.4,206 288.75,202.5 293.1,198.1 297.5,193.75 301.75,191.9 306.1,192.4 310.5,193.3 314.9,195 318.9,197.7 323.3,201.2 327.7,203.8"/>
<line x1="192.4" y1="220.06" x2="194.4" y2="220.06" stroke="#a85c22" stroke-width="0.55" stroke-linecap="butt"/>
<line x1="196.73" y1="221.7" x2="198.73" y2="221.7" stroke="#a85c22" stroke-width="0.55" stroke-linecap="butt"/>
<line x1="201.06" y1="223.83" x2="203.06" y2="223.83" stroke="#a85c22" stroke-width="0.55" stroke-linecap="butt"/>
<line x1="205.39" y1="225.45" x2="207.39" y2="225.45" stroke="#a85c22" stroke-width="0.55" stroke-linecap="butt"/>
<line x1="209.72" y1="226.71" x2="211.72" y2="226.71" stroke="#a85c22" stroke-width="0.55" stroke-linecap="butt"/>
<line x1="214.05" y1="227.79" x2="216.05" y2="227.79" stroke="#a85c22" stroke-width="0.55" stroke-linecap="butt"/>
<line x1="218.38" y1="228.87" x2="220.38" y2="228.87" stroke="#a85c22" stroke-width="0.55" stroke-linecap="butt"/>
<line x1="222.71" y1="229.88" x2="224.71" y2="229.88" stroke="#a85c22" stroke-width="0.55" stroke-linecap="butt"/>
<line x1="227.04" y1="230.3" x2="229.04" y2="230.3" stroke="#a85c22" stroke-width="0.55" stroke-linecap="butt"/>
<line x1="231.37" y1="230.3" x2="233.37" y2="230.3" stroke="#a85c22" stroke-width="0.55" stroke-linecap="butt"/>
<line x1="235.7" y1="229.91" x2="237.7" y2="229.91" stroke="#a85c22" stroke-width="0.55" stroke-linecap="butt"/>
<line x1="240.03" y1="228.96" x2="242.03" y2="228.96" stroke="#a85c22" stroke-width="0.55" stroke-linecap="butt"/>
<line x1="244.36" y1="227.63" x2="246.36" y2="227.63" stroke="#a85c22" stroke-width="0.55" stroke-linecap="butt"/>
<line x1="248.69" y1="225.8" x2="250.69" y2="225.8" stroke="#a85c22" stroke-width="0.55" stroke-linecap="butt"/>
<line x1="253.02" y1="223.52" x2="255.02" y2="223.52" stroke="#a85c22" stroke-width="0.55" stroke-linecap="butt"/>
<line x1="257.35" y1="221.32" x2="259.35" y2="221.32" stroke="#a85c22" stroke-width="0.55" stroke-linecap="butt"/>
<line x1="261.68" y1="219.19" x2="263.68" y2="219.19" stroke="#a85c22" stroke-width="0.55" stroke-linecap="butt"/>
<line x1="266.01" y1="217.05" x2="268.01" y2="217.05" stroke="#a85c22" stroke-width="0.55" stroke-linecap="butt"/>
<line x1="270.34" y1="214.89" x2="272.34" y2="214.89" stroke="#a85c22" stroke-width="0.55" stroke-linecap="butt"/>
<line x1="274.67" y1="212.76" x2="276.67" y2="212.76" stroke="#a85c22" stroke-width="0.55" stroke-linecap="butt"/>
<line x1="279" y1="210.6" x2="281" y2="210.6" stroke="#a85c22" stroke-width="0.55" stroke-linecap="butt"/>
<line x1="283.33" y1="206.07" x2="285.33" y2="206.07" stroke="#a85c22" stroke-width="0.55" stroke-linecap="butt"/>
<line x1="287.66" y1="202.57" x2="289.66" y2="202.57" stroke="#a85c22" stroke-width="0.55" stroke-linecap="butt"/>
<line x1="291.99" y1="198.21" x2="293.99" y2="198.21" stroke="#a85c22" stroke-width="0.55" stroke-linecap="butt"/>
<line x1="296.32" y1="193.93" x2="298.32" y2="193.93" stroke="#a85c22" stroke-width="0.55" stroke-linecap="butt"/>
<line x1="300.65" y1="191.94" x2="302.65" y2="191.94" stroke="#a85c22" stroke-width="0.55" stroke-linecap="butt"/>
<line x1="304.98" y1="192.39" x2="306.98" y2="192.39" stroke="#a85c22" stroke-width="0.55" stroke-linecap="butt"/>
<line x1="309.31" y1="193.26" x2="311.31" y2="193.26" stroke="#a85c22" stroke-width="0.55" stroke-linecap="butt"/>
<line x1="313.64" y1="194.9" x2="315.64" y2="194.9" stroke="#a85c22" stroke-width="0.55" stroke-linecap="butt"/>
<line x1="317.97" y1="197.76" x2="319.97" y2="197.76" stroke="#a85c22" stroke-width="0.55" stroke-linecap="butt"/>
<line x1="322.3" y1="201.2" x2="324.3" y2="201.2" stroke="#a85c22" stroke-width="0.55" stroke-linecap="butt"/>
<line x1="326.63" y1="203.76" x2="328.63" y2="203.76" stroke="#a85c22" stroke-width="0.55" stroke-linecap="butt"/>
<circle cx="193.4" cy="220.06" r="0.85" fill="#a85c22"/>
<circle cx="197.73" cy="221.7" r="0.85" fill="#a85c22"/>
<circle cx="202.06" cy="223.83" r="0.85" fill="#a85c22"/>
<circle cx="206.39" cy="225.45" r="0.85" fill="#a85c22"/>
<circle cx="210.72" cy="226.71" r="0.85" fill="#a85c22"/>
<circle cx="215.05" cy="227.79" r="0.85" fill="#a85c22"/>
<circle cx="219.38" cy="228.87" r="0.85" fill="#a85c22"/>
<circle cx="223.71" cy="229.88" r="0.85" fill="#a85c22"/>
<circle cx="228.04" cy="230.3" r="0.85" fill="#a85c22"/>
<circle cx="232.37" cy="230.3" r="0.85" fill="#a85c22"/>
<circle cx="236.7" cy="229.91" r="0.85" fill="#a85c22"/>
<circle cx="241.03" cy="228.96" r="0.85" fill="#a85c22"/>
<circle cx="245.36" cy="227.63" r="0.85" fill="#a85c22"/>
<circle cx="249.69" cy="225.8" r="0.85" fill="#a85c22"/>
<circle cx="254.02" cy="223.52" r="0.85" fill="#a85c22"/>
<circle cx="258.35" cy="221.32" r="0.85" fill="#a85c22"/>
<circle cx="262.68" cy="219.19" r="0.85" fill="#a85c22"/>
<circle cx="267.01" cy="217.05" r="0.85" fill="#a85c22"/>
<circle cx="271.34" cy="214.89" r="0.85" fill="#a85c22"/>
<circle cx="275.67" cy="212.76" r="0.85" fill="#a85c22"/>
<circle cx="280" cy="210.6" r="0.85" fill="#a85c22"/>
<circle cx="284.33" cy="206.07" r="0.85" fill="#a85c22"/>
<circle cx="288.66" cy="202.57" r="0.85" fill="#a85c22"/>
<circle cx="292.99" cy="198.21" r="0.85" fill="#a85c22"/>
<circle cx="297.32" cy="193.93" r="0.85" fill="#a85c22"/>
<circle cx="301.65" cy="191.94" r="0.85" fill="#a85c22"/>
<circle cx="305.98" cy="192.39" r="0.85" fill="#a85c22"/>
<circle cx="310.31" cy="193.26" r="0.85" fill="#a85c22"/>
<circle cx="314.64" cy="194.9" r="0.85" fill="#a85c22"/>
<circle cx="318.97" cy="197.76" r="0.85" fill="#a85c22"/>
<circle cx="323.3" cy="201.2" r="0.85" fill="#a85c22"/>
<circle cx="327.63" cy="203.76" r="0.85" fill="#a85c22"/>
<line x1="272.4" y1="238.8" x2="315.4" y2="238.8" stroke="#111" stroke-width="1.4" stroke-linecap="butt"/>
<text x="295.7" y="238.5" font-family="Liberation Sans" font-size="5" font-weight="bold" font-style="normal" text-anchor="middle" fill="#111" stroke="#111" stroke-width="0.16">*</text>
<line x1="305.1" y1="136" x2="305.1" y2="158" stroke="#d9d9d9" stroke-width="0.6" stroke-linecap="butt"/>
<line x1="309.7" y1="137" x2="309.7" y2="157" stroke="#e8e8e8" stroke-width="0.5" stroke-linecap="butt"/>
<line x1="305.1" y1="158" x2="334" y2="158" stroke="#dedede" stroke-width="0.6" stroke-linecap="butt"/>
<polyline fill="none" stroke="#bf9f88" stroke-width="0.9" stroke-linejoin="round" stroke-linecap="round" points="305.1,152.9 305.53,153.12 306.13,153.44 306.83,153.81 307.61,154.2 308.41,154.57 309.2,154.9 309.99,155.21 310.83,155.55 311.69,155.87 312.57,156.14 313.44,156.33 314.3,156.4 315.15,156.36 316.01,156.24 316.86,156.03 317.7,155.74 318.52,155.36 319.3,154.9 320.05,154.31 320.79,153.58 321.5,152.76 322.18,151.91 322.81,151.07 323.4,150.3 323.93,149.55 324.42,148.78 324.86,148.03 325.27,147.32 325.65,146.7 326,146.2 326.3,145.81 326.53,145.49 326.73,145.25 326.93,145.11 327.18,145.09 327.5,145.2 327.92,145.49 328.42,145.97 328.96,146.56 329.51,147.2 330.03,147.8 330.5,148.3 330.93,148.72 331.34,149.12 331.74,149.49 332.09,149.82 332.38,150.1 332.6,150.3"/>
<polyline fill="none" stroke="#e3d9d0" stroke-width="0.8" stroke-linejoin="round" stroke-linecap="round" points="305.1,154 305.53,154.21 306.13,154.51 306.83,154.87 307.61,155.24 308.41,155.6 309.2,155.9 309.99,156.17 310.83,156.45 311.69,156.71 312.57,156.94 313.44,157.11 314.3,157.2 315.15,157.23 316.01,157.22 316.86,157.15 317.7,157.01 318.52,156.8 319.3,156.5 320.05,156.08 320.79,155.54 321.5,154.93 322.18,154.27 322.81,153.62 323.4,153 323.93,152.39 324.42,151.74 324.86,151.09 325.27,150.48 325.65,149.94 326,149.5 326.3,149.16 326.53,148.88 326.73,148.67 326.93,148.53 327.18,148.48 327.5,148.5 327.92,148.64 328.42,148.9 328.96,149.23 329.51,149.6 330.03,149.97 330.5,150.3 330.93,150.61 331.34,150.94 331.74,151.26 332.09,151.56 332.38,151.82 332.6,152"/>
<text x="0.7" y="276.1" font-family="Liberation Sans" font-size="6.0" font-weight="bold" font-style="normal" text-anchor="start" fill="#111" stroke="#111" stroke-width="0.3">E</text>
<line x1="12.5" y1="285" x2="12.5" y2="386" stroke="#4a4a4a" stroke-width="0.8" stroke-linecap="butt"/>
<line x1="11.6" y1="297" x2="12.5" y2="297" stroke="#4a4a4a" stroke-width="0.45" stroke-linecap="butt"/>
<line x1="11.6" y1="311.6" x2="12.5" y2="311.6" stroke="#4a4a4a" stroke-width="0.45" stroke-linecap="butt"/>
<line x1="11.6" y1="326.5" x2="12.5" y2="326.5" stroke="#4a4a4a" stroke-width="0.45" stroke-linecap="butt"/>
<line x1="11.6" y1="341.7" x2="12.5" y2="341.7" stroke="#4a4a4a" stroke-width="0.45" stroke-linecap="butt"/>
<line x1="11.6" y1="356.8" x2="12.5" y2="356.8" stroke="#4a4a4a" stroke-width="0.45" stroke-linecap="butt"/>
<line x1="11.6" y1="371.5" x2="12.5" y2="371.5" stroke="#4a4a4a" stroke-width="0.45" stroke-linecap="butt"/>
<line x1="12.5" y1="386" x2="58.5" y2="386" stroke="#4a4a4a" stroke-width="0.8" stroke-linecap="butt"/>
<line x1="13.5" y1="386" x2="13.5" y2="387" stroke="#4a4a4a" stroke-width="0.45" stroke-linecap="butt"/>
<line x1="14.9" y1="386" x2="14.9" y2="387" stroke="#4a4a4a" stroke-width="0.45" stroke-linecap="butt"/>
<line x1="16.3" y1="386" x2="16.3" y2="387" stroke="#4a4a4a" stroke-width="0.45" stroke-linecap="butt"/>
<line x1="17.7" y1="386" x2="17.7" y2="387" stroke="#4a4a4a" stroke-width="0.45" stroke-linecap="butt"/>
<line x1="19.1" y1="386" x2="19.1" y2="387" stroke="#4a4a4a" stroke-width="0.45" stroke-linecap="butt"/>
<line x1="20.5" y1="386" x2="20.5" y2="387" stroke="#4a4a4a" stroke-width="0.45" stroke-linecap="butt"/>
<line x1="21.9" y1="386" x2="21.9" y2="387" stroke="#4a4a4a" stroke-width="0.45" stroke-linecap="butt"/>
<line x1="23.3" y1="386" x2="23.3" y2="387" stroke="#4a4a4a" stroke-width="0.45" stroke-linecap="butt"/>
<line x1="24.7" y1="386" x2="24.7" y2="387" stroke="#4a4a4a" stroke-width="0.45" stroke-linecap="butt"/>
<line x1="26.1" y1="386" x2="26.1" y2="387" stroke="#4a4a4a" stroke-width="0.45" stroke-linecap="butt"/>
<line x1="27.5" y1="386" x2="27.5" y2="387" stroke="#4a4a4a" stroke-width="0.45" stroke-linecap="butt"/>
<line x1="28.9" y1="386" x2="28.9" y2="387" stroke="#4a4a4a" stroke-width="0.45" stroke-linecap="butt"/>
<line x1="30.3" y1="386" x2="30.3" y2="387" stroke="#4a4a4a" stroke-width="0.45" stroke-linecap="butt"/>
<line x1="31.7" y1="386" x2="31.7" y2="387" stroke="#4a4a4a" stroke-width="0.45" stroke-linecap="butt"/>
<line x1="33.1" y1="386" x2="33.1" y2="387" stroke="#4a4a4a" stroke-width="0.45" stroke-linecap="butt"/>
<line x1="34.5" y1="386" x2="34.5" y2="387" stroke="#4a4a4a" stroke-width="0.45" stroke-linecap="butt"/>
<line x1="35.9" y1="386" x2="35.9" y2="387" stroke="#4a4a4a" stroke-width="0.45" stroke-linecap="butt"/>
<line x1="37.3" y1="386" x2="37.3" y2="387" stroke="#4a4a4a" stroke-width="0.45" stroke-linecap="butt"/>
<line x1="38.7" y1="386" x2="38.7" y2="387" stroke="#4a4a4a" stroke-width="0.45" stroke-linecap="butt"/>
<line x1="40.1" y1="386" x2="40.1" y2="387" stroke="#4a4a4a" stroke-width="0.45" stroke-linecap="butt"/>
<line x1="41.5" y1="386" x2="41.5" y2="387" stroke="#4a4a4a" stroke-width="0.45" stroke-linecap="butt"/>
<line x1="42.9" y1="386" x2="42.9" y2="387" stroke="#4a4a4a" stroke-width="0.45" stroke-linecap="butt"/>
<line x1="44.3" y1="386" x2="44.3" y2="387" stroke="#4a4a4a" stroke-width="0.45" stroke-linecap="butt"/>
<line x1="45.7" y1="386" x2="45.7" y2="387" stroke="#4a4a4a" stroke-width="0.45" stroke-linecap="butt"/>
<line x1="47.1" y1="386" x2="47.1" y2="387" stroke="#4a4a4a" stroke-width="0.45" stroke-linecap="butt"/>
<line x1="48.5" y1="386" x2="48.5" y2="387" stroke="#4a4a4a" stroke-width="0.45" stroke-linecap="butt"/>
<line x1="49.9" y1="386" x2="49.9" y2="387" stroke="#4a4a4a" stroke-width="0.45" stroke-linecap="butt"/>
<line x1="51.3" y1="386" x2="51.3" y2="387" stroke="#4a4a4a" stroke-width="0.45" stroke-linecap="butt"/>
<line x1="52.7" y1="386" x2="52.7" y2="387" stroke="#4a4a4a" stroke-width="0.45" stroke-linecap="butt"/>
<line x1="54.1" y1="386" x2="54.1" y2="387" stroke="#4a4a4a" stroke-width="0.45" stroke-linecap="butt"/>
<line x1="55.5" y1="386" x2="55.5" y2="387" stroke="#4a4a4a" stroke-width="0.45" stroke-linecap="butt"/>
<line x1="56.9" y1="386" x2="56.9" y2="387" stroke="#4a4a4a" stroke-width="0.45" stroke-linecap="butt"/>
<line x1="58.3" y1="386" x2="58.3" y2="387" stroke="#4a4a4a" stroke-width="0.45" stroke-linecap="butt"/>
<text x="12.7" y="392" font-family="Liberation Serif" font-size="3.4" font-weight="bold" font-style="normal" text-anchor="middle" fill="#151515" stroke="#151515" stroke-width="0.16">4</text>
<text x="18.35" y="392" font-family="Liberation Serif" font-size="3.4" font-weight="bold" font-style="normal" text-anchor="middle" fill="#151515" stroke="#151515" stroke-width="0.16">4,5</text>
<text x="24" y="392" font-family="Liberation Serif" font-size="3.4" font-weight="bold" font-style="normal" text-anchor="middle" fill="#151515" stroke="#151515" stroke-width="0.16">5</text>
<text x="29.65" y="392" font-family="Liberation Serif" font-size="3.4" font-weight="bold" font-style="normal" text-anchor="middle" fill="#151515" stroke="#151515" stroke-width="0.16">5,5</text>
<text x="35.3" y="392" font-family="Liberation Serif" font-size="3.4" font-weight="bold" font-style="normal" text-anchor="middle" fill="#151515" stroke="#151515" stroke-width="0.16">6</text>
<text x="40.95" y="392" font-family="Liberation Serif" font-size="3.4" font-weight="bold" font-style="normal" text-anchor="middle" fill="#151515" stroke="#151515" stroke-width="0.16">6,5</text>
<text x="46.6" y="392" font-family="Liberation Serif" font-size="3.4" font-weight="bold" font-style="normal" text-anchor="middle" fill="#151515" stroke="#151515" stroke-width="0.16">7</text>
<text x="52.25" y="392" font-family="Liberation Serif" font-size="3.4" font-weight="bold" font-style="normal" text-anchor="middle" fill="#151515" stroke="#151515" stroke-width="0.16">7,5</text>
<text x="57.9" y="392" font-family="Liberation Serif" font-size="3.4" font-weight="bold" font-style="normal" text-anchor="middle" fill="#151515" stroke="#151515" stroke-width="0.16">8</text>
<text x="34.7" y="397.9" font-family="Liberation Serif" font-size="3.8" font-weight="bold" font-style="normal" text-anchor="middle" fill="#151515" stroke="#151515" stroke-width="0.16">Frequency (Hz)</text>
<line x1="61.5" y1="285" x2="61.5" y2="386" stroke="#4a4a4a" stroke-width="0.8" stroke-linecap="butt"/>
<line x1="60.6" y1="297" x2="61.5" y2="297" stroke="#4a4a4a" stroke-width="0.45" stroke-linecap="butt"/>
<line x1="60.6" y1="311.6" x2="61.5" y2="311.6" stroke="#4a4a4a" stroke-width="0.45" stroke-linecap="butt"/>
<line x1="60.6" y1="326.5" x2="61.5" y2="326.5" stroke="#4a4a4a" stroke-width="0.45" stroke-linecap="butt"/>
<line x1="60.6" y1="341.7" x2="61.5" y2="341.7" stroke="#4a4a4a" stroke-width="0.45" stroke-linecap="butt"/>
<line x1="60.6" y1="356.8" x2="61.5" y2="356.8" stroke="#4a4a4a" stroke-width="0.45" stroke-linecap="butt"/>
<line x1="60.6" y1="371.5" x2="61.5" y2="371.5" stroke="#4a4a4a" stroke-width="0.45" stroke-linecap="butt"/>
<line x1="61.5" y1="386" x2="107.5" y2="386" stroke="#4a4a4a" stroke-width="0.8" stroke-linecap="butt"/>
<line x1="62.5" y1="386" x2="62.5" y2="387" stroke="#4a4a4a" stroke-width="0.45" stroke-linecap="butt"/>
<line x1="63.9" y1="386" x2="63.9" y2="387" stroke="#4a4a4a" stroke-width="0.45" stroke-linecap="butt"/>
<line x1="65.3" y1="386" x2="65.3" y2="387" stroke="#4a4a4a" stroke-width="0.45" stroke-linecap="butt"/>
<line x1="66.7" y1="386" x2="66.7" y2="387" stroke="#4a4a4a" stroke-width="0.45" stroke-linecap="butt"/>
<line x1="68.1" y1="386" x2="68.1" y2="387" stroke="#4a4a4a" stroke-width="0.45" stroke-linecap="butt"/>
<line x1="69.5" y1="386" x2="69.5" y2="387" stroke="#4a4a4a" stroke-width="0.45" stroke-linecap="butt"/>
<line x1="70.9" y1="386" x2="70.9" y2="387" stroke="#4a4a4a" stroke-width="0.45" stroke-linecap="butt"/>
<line x1="72.3" y1="386" x2="72.3" y2="387" stroke="#4a4a4a" stroke-width="0.45" stroke-linecap="butt"/>
<line x1="73.7" y1="386" x2="73.7" y2="387" stroke="#4a4a4a" stroke-width="0.45" stroke-linecap="butt"/>
<line x1="75.1" y1="386" x2="75.1" y2="387" stroke="#4a4a4a" stroke-width="0.45" stroke-linecap="butt"/>
<line x1="76.5" y1="386" x2="76.5" y2="387" stroke="#4a4a4a" stroke-width="0.45" stroke-linecap="butt"/>
<line x1="77.9" y1="386" x2="77.9" y2="387" stroke="#4a4a4a" stroke-width="0.45" stroke-linecap="butt"/>
<line x1="79.3" y1="386" x2="79.3" y2="387" stroke="#4a4a4a" stroke-width="0.45" stroke-linecap="butt"/>
<line x1="80.7" y1="386" x2="80.7" y2="387" stroke="#4a4a4a" stroke-width="0.45" stroke-linecap="butt"/>
<line x1="82.1" y1="386" x2="82.1" y2="387" stroke="#4a4a4a" stroke-width="0.45" stroke-linecap="butt"/>
<line x1="83.5" y1="386" x2="83.5" y2="387" stroke="#4a4a4a" stroke-width="0.45" stroke-linecap="butt"/>
<line x1="84.9" y1="386" x2="84.9" y2="387" stroke="#4a4a4a" stroke-width="0.45" stroke-linecap="butt"/>
<line x1="86.3" y1="386" x2="86.3" y2="387" stroke="#4a4a4a" stroke-width="0.45" stroke-linecap="butt"/>
<line x1="87.7" y1="386" x2="87.7" y2="387" stroke="#4a4a4a" stroke-width="0.45" stroke-linecap="butt"/>
<line x1="89.1" y1="386" x2="89.1" y2="387" stroke="#4a4a4a" stroke-width="0.45" stroke-linecap="butt"/>
<line x1="90.5" y1="386" x2="90.5" y2="387" stroke="#4a4a4a" stroke-width="0.45" stroke-linecap="butt"/>
<line x1="91.9" y1="386" x2="91.9" y2="387" stroke="#4a4a4a" stroke-width="0.45" stroke-linecap="butt"/>
<line x1="93.3" y1="386" x2="93.3" y2="387" stroke="#4a4a4a" stroke-width="0.45" stroke-linecap="butt"/>
<line x1="94.7" y1="386" x2="94.7" y2="387" stroke="#4a4a4a" stroke-width="0.45" stroke-linecap="butt"/>
<line x1="96.1" y1="386" x2="96.1" y2="387" stroke="#4a4a4a" stroke-width="0.45" stroke-linecap="butt"/>
<line x1="97.5" y1="386" x2="97.5" y2="387" stroke="#4a4a4a" stroke-width="0.45" stroke-linecap="butt"/>
<line x1="98.9" y1="386" x2="98.9" y2="387" stroke="#4a4a4a" stroke-width="0.45" stroke-linecap="butt"/>
<line x1="100.3" y1="386" x2="100.3" y2="387" stroke="#4a4a4a" stroke-width="0.45" stroke-linecap="butt"/>
<line x1="101.7" y1="386" x2="101.7" y2="387" stroke="#4a4a4a" stroke-width="0.45" stroke-linecap="butt"/>
<line x1="103.1" y1="386" x2="103.1" y2="387" stroke="#4a4a4a" stroke-width="0.45" stroke-linecap="butt"/>
<line x1="104.5" y1="386" x2="104.5" y2="387" stroke="#4a4a4a" stroke-width="0.45" stroke-linecap="butt"/>
<line x1="105.9" y1="386" x2="105.9" y2="387" stroke="#4a4a4a" stroke-width="0.45" stroke-linecap="butt"/>
<line x1="107.3" y1="386" x2="107.3" y2="387" stroke="#4a4a4a" stroke-width="0.45" stroke-linecap="butt"/>
<text x="61.7" y="392" font-family="Liberation Serif" font-size="3.4" font-weight="bold" font-style="normal" text-anchor="middle" fill="#151515" stroke="#151515" stroke-width="0.16">4</text>
<text x="67.35" y="392" font-family="Liberation Serif" font-size="3.4" font-weight="bold" font-style="normal" text-anchor="middle" fill="#151515" stroke="#151515" stroke-width="0.16">4,5</text>
<text x="73" y="392" font-family="Liberation Serif" font-size="3.4" font-weight="bold" font-style="normal" text-anchor="middle" fill="#151515" stroke="#151515" stroke-width="0.16">5</text>
<text x="78.65" y="392" font-family="Liberation Serif" font-size="3.4" font-weight="bold" font-style="normal" text-anchor="middle" fill="#151515" stroke="#151515" stroke-width="0.16">5,5</text>
<text x="84.3" y="392" font-family="Liberation Serif" font-size="3.4" font-weight="bold" font-style="normal" text-anchor="middle" fill="#151515" stroke="#151515" stroke-width="0.16">6</text>
<text x="89.95" y="392" font-family="Liberation Serif" font-size="3.4" font-weight="bold" font-style="normal" text-anchor="middle" fill="#151515" stroke="#151515" stroke-width="0.16">6,5</text>
<text x="95.6" y="392" font-family="Liberation Serif" font-size="3.4" font-weight="bold" font-style="normal" text-anchor="middle" fill="#151515" stroke="#151515" stroke-width="0.16">7</text>
<text x="101.25" y="392" font-family="Liberation Serif" font-size="3.4" font-weight="bold" font-style="normal" text-anchor="middle" fill="#151515" stroke="#151515" stroke-width="0.16">7,5</text>
<text x="106.9" y="392" font-family="Liberation Serif" font-size="3.4" font-weight="bold" font-style="normal" text-anchor="middle" fill="#151515" stroke="#151515" stroke-width="0.16">8</text>
<text x="83.7" y="397.9" font-family="Liberation Serif" font-size="3.8" font-weight="bold" font-style="normal" text-anchor="middle" fill="#151515" stroke="#151515" stroke-width="0.16">Frequency (Hz)</text>
<line x1="110.9" y1="285" x2="110.9" y2="386" stroke="#4a4a4a" stroke-width="0.8" stroke-linecap="butt"/>
<line x1="110" y1="297" x2="110.9" y2="297" stroke="#4a4a4a" stroke-width="0.45" stroke-linecap="butt"/>
<line x1="110" y1="311.6" x2="110.9" y2="311.6" stroke="#4a4a4a" stroke-width="0.45" stroke-linecap="butt"/>
<line x1="110" y1="326.5" x2="110.9" y2="326.5" stroke="#4a4a4a" stroke-width="0.45" stroke-linecap="butt"/>
<line x1="110" y1="341.7" x2="110.9" y2="341.7" stroke="#4a4a4a" stroke-width="0.45" stroke-linecap="butt"/>
<line x1="110" y1="356.8" x2="110.9" y2="356.8" stroke="#4a4a4a" stroke-width="0.45" stroke-linecap="butt"/>
<line x1="110" y1="371.5" x2="110.9" y2="371.5" stroke="#4a4a4a" stroke-width="0.45" stroke-linecap="butt"/>
<line x1="110.9" y1="386" x2="156.9" y2="386" stroke="#4a4a4a" stroke-width="0.8" stroke-linecap="butt"/>
<line x1="111.9" y1="386" x2="111.9" y2="387" stroke="#4a4a4a" stroke-width="0.45" stroke-linecap="butt"/>
<line x1="113.3" y1="386" x2="113.3" y2="387" stroke="#4a4a4a" stroke-width="0.45" stroke-linecap="butt"/>
<line x1="114.7" y1="386" x2="114.7" y2="387" stroke="#4a4a4a" stroke-width="0.45" stroke-linecap="butt"/>
<line x1="116.1" y1="386" x2="116.1" y2="387" stroke="#4a4a4a" stroke-width="0.45" stroke-linecap="butt"/>
<line x1="117.5" y1="386" x2="117.5" y2="387" stroke="#4a4a4a" stroke-width="0.45" stroke-linecap="butt"/>
<line x1="118.9" y1="386" x2="118.9" y2="387" stroke="#4a4a4a" stroke-width="0.45" stroke-linecap="butt"/>
<line x1="120.3" y1="386" x2="120.3" y2="387" stroke="#4a4a4a" stroke-width="0.45" stroke-linecap="butt"/>
<line x1="121.7" y1="386" x2="121.7" y2="387" stroke="#4a4a4a" stroke-width="0.45" stroke-linecap="butt"/>
<line x1="123.1" y1="386" x2="123.1" y2="387" stroke="#4a4a4a" stroke-width="0.45" stroke-linecap="butt"/>
<line x1="124.5" y1="386" x2="124.5" y2="387" stroke="#4a4a4a" stroke-width="0.45" stroke-linecap="butt"/>
<line x1="125.9" y1="386" x2="125.9" y2="387" stroke="#4a4a4a" stroke-width="0.45" stroke-linecap="butt"/>
<line x1="127.3" y1="386" x2="127.3" y2="387" stroke="#4a4a4a" stroke-width="0.45" stroke-linecap="butt"/>
<line x1="128.7" y1="386" x2="128.7" y2="387" stroke="#4a4a4a" stroke-width="0.45" stroke-linecap="butt"/>
<line x1="130.1" y1="386" x2="130.1" y2="387" stroke="#4a4a4a" stroke-width="0.45" stroke-linecap="butt"/>
<line x1="131.5" y1="386" x2="131.5" y2="387" stroke="#4a4a4a" stroke-width="0.45" stroke-linecap="butt"/>
<line x1="132.9" y1="386" x2="132.9" y2="387" stroke="#4a4a4a" stroke-width="0.45" stroke-linecap="butt"/>
<line x1="134.3" y1="386" x2="134.3" y2="387" stroke="#4a4a4a" stroke-width="0.45" stroke-linecap="butt"/>
<line x1="135.7" y1="386" x2="135.7" y2="387" stroke="#4a4a4a" stroke-width="0.45" stroke-linecap="butt"/>
<line x1="137.1" y1="386" x2="137.1" y2="387" stroke="#4a4a4a" stroke-width="0.45" stroke-linecap="butt"/>
<line x1="138.5" y1="386" x2="138.5" y2="387" stroke="#4a4a4a" stroke-width="0.45" stroke-linecap="butt"/>
<line x1="139.9" y1="386" x2="139.9" y2="387" stroke="#4a4a4a" stroke-width="0.45" stroke-linecap="butt"/>
<line x1="141.3" y1="386" x2="141.3" y2="387" stroke="#4a4a4a" stroke-width="0.45" stroke-linecap="butt"/>
<line x1="142.7" y1="386" x2="142.7" y2="387" stroke="#4a4a4a" stroke-width="0.45" stroke-linecap="butt"/>
<line x1="144.1" y1="386" x2="144.1" y2="387" stroke="#4a4a4a" stroke-width="0.45" stroke-linecap="butt"/>
<line x1="145.5" y1="386" x2="145.5" y2="387" stroke="#4a4a4a" stroke-width="0.45" stroke-linecap="butt"/>
<line x1="146.9" y1="386" x2="146.9" y2="387" stroke="#4a4a4a" stroke-width="0.45" stroke-linecap="butt"/>
<line x1="148.3" y1="386" x2="148.3" y2="387" stroke="#4a4a4a" stroke-width="0.45" stroke-linecap="butt"/>
<line x1="149.7" y1="386" x2="149.7" y2="387" stroke="#4a4a4a" stroke-width="0.45" stroke-linecap="butt"/>
<line x1="151.1" y1="386" x2="151.1" y2="387" stroke="#4a4a4a" stroke-width="0.45" stroke-linecap="butt"/>
<line x1="152.5" y1="386" x2="152.5" y2="387" stroke="#4a4a4a" stroke-width="0.45" stroke-linecap="butt"/>
<line x1="153.9" y1="386" x2="153.9" y2="387" stroke="#4a4a4a" stroke-width="0.45" stroke-linecap="butt"/>
<line x1="155.3" y1="386" x2="155.3" y2="387" stroke="#4a4a4a" stroke-width="0.45" stroke-linecap="butt"/>
<line x1="156.7" y1="386" x2="156.7" y2="387" stroke="#4a4a4a" stroke-width="0.45" stroke-linecap="butt"/>
<text x="111.1" y="392" font-family="Liberation Serif" font-size="3.4" font-weight="bold" font-style="normal" text-anchor="middle" fill="#151515" stroke="#151515" stroke-width="0.16">4</text>
<text x="116.75" y="392" font-family="Liberation Serif" font-size="3.4" font-weight="bold" font-style="normal" text-anchor="middle" fill="#151515" stroke="#151515" stroke-width="0.16">4,5</text>
<text x="122.4" y="392" font-family="Liberation Serif" font-size="3.4" font-weight="bold" font-style="normal" text-anchor="middle" fill="#151515" stroke="#151515" stroke-width="0.16">5</text>
<text x="128.05" y="392" font-family="Liberation Serif" font-size="3.4" font-weight="bold" font-style="normal" text-anchor="middle" fill="#151515" stroke="#151515" stroke-width="0.16">5,5</text>
<text x="133.7" y="392" font-family="Liberation Serif" font-size="3.4" font-weight="bold" font-style="normal" text-anchor="middle" fill="#151515" stroke="#151515" stroke-width="0.16">6</text>
<text x="139.35" y="392" font-family="Liberation Serif" font-size="3.4" font-weight="bold" font-style="normal" text-anchor="middle" fill="#151515" stroke="#151515" stroke-width="0.16">6,5</text>
<text x="145" y="392" font-family="Liberation Serif" font-size="3.4" font-weight="bold" font-style="normal" text-anchor="middle" fill="#151515" stroke="#151515" stroke-width="0.16">7</text>
<text x="150.65" y="392" font-family="Liberation Serif" font-size="3.4" font-weight="bold" font-style="normal" text-anchor="middle" fill="#151515" stroke="#151515" stroke-width="0.16">7,5</text>
<text x="156.3" y="392" font-family="Liberation Serif" font-size="3.4" font-weight="bold" font-style="normal" text-anchor="middle" fill="#151515" stroke="#151515" stroke-width="0.16">8</text>
<text x="133.1" y="397.9" font-family="Liberation Serif" font-size="3.8" font-weight="bold" font-style="normal" text-anchor="middle" fill="#151515" stroke="#151515" stroke-width="0.16">Frequency (Hz)</text>
<text x="10.5" y="298.3" font-family="Liberation Serif" font-size="3.6" font-weight="bold" font-style="normal" text-anchor="end" fill="#151515" stroke="#151515" stroke-width="0.16">3</text>
<text x="10.5" y="312.9" font-family="Liberation Serif" font-size="3.6" font-weight="bold" font-style="normal" text-anchor="end" fill="#151515" stroke="#151515" stroke-width="0.16">2,5</text>
<text x="10.5" y="327.8" font-family="Liberation Serif" font-size="3.6" font-weight="bold" font-style="normal" text-anchor="end" fill="#151515" stroke="#151515" stroke-width="0.16">2</text>
<text x="10.5" y="343" font-family="Liberation Serif" font-size="3.6" font-weight="bold" font-style="normal" text-anchor="end" fill="#151515" stroke="#151515" stroke-width="0.16">1,5</text>
<text x="10.5" y="358.1" font-family="Liberation Serif" font-size="3.6" font-weight="bold" font-style="normal" text-anchor="end" fill="#151515" stroke="#151515" stroke-width="0.16">1</text>
<text x="10.5" y="372.8" font-family="Liberation Serif" font-size="3.6" font-weight="bold" font-style="normal" text-anchor="end" fill="#151515" stroke="#151515" stroke-width="0.16">0,5</text>
<text x="10.5" y="387.3" font-family="Liberation Serif" font-size="3.6" font-weight="bold" font-style="normal" text-anchor="end" fill="#151515" stroke="#151515" stroke-width="0.16">0</text>
<text x="3.4" y="336" font-family="Liberation Serif" font-size="3.9" font-weight="bold" font-style="normal" text-anchor="middle" fill="#151515" stroke="#151515" stroke-width="0.16" transform="rotate(-90 3.4 336)">Relative power</text>
<text x="33.1" y="285.6" font-family="Liberation Serif" font-size="3.9" font-weight="bold" font-style="normal" text-anchor="middle" fill="#151515" stroke="#151515" stroke-width="0.16">AWAKE</text>
<text x="84.9" y="285.6" font-family="Liberation Serif" font-size="3.9" font-weight="bold" font-style="normal" text-anchor="middle" fill="#151515" stroke="#151515" stroke-width="0.16">NREM</text>
<text x="133.8" y="285.6" font-family="Liberation Serif" font-size="3.9" font-weight="bold" font-style="normal" text-anchor="middle" fill="#151515" stroke="#151515" stroke-width="0.16">REM</text>
<polyline fill="none" stroke="#c3cad2" stroke-width="2.6" stroke-linejoin="round" stroke-linecap="round" points="32.75,361.2 32.97,360.93 33.28,360.57 33.65,360.14 34.04,359.64 34.44,359.09 34.8,358.5 35.14,357.86 35.47,357.17 35.8,356.43 36.13,355.64 36.46,354.79 36.8,353.9 37.15,352.94 37.5,351.91 37.85,350.82 38.2,349.71 38.55,348.6 38.9,347.5 39.24,346.4 39.59,345.29 39.93,344.17 40.27,343.06 40.59,341.96 40.9,340.9 41.19,339.87 41.46,338.87 41.72,337.88 41.98,336.91 42.24,335.95 42.5,335 42.77,334.05 43.03,333.11 43.29,332.19 43.56,331.27 43.83,330.38 44.1,329.5 44.38,328.63 44.66,327.76 44.95,326.91 45.24,326.09 45.52,325.31 45.8,324.6 46.07,323.92 46.33,323.24 46.58,322.62 46.84,322.08 47.11,321.66 47.4,321.4 47.71,321.32 48.04,321.39 48.38,321.57 48.72,321.86 49.06,322.21 49.4,322.6 49.74,323.05 50.08,323.6 50.43,324.21 50.76,324.86 51.09,325.53 51.4,326.2 51.69,326.86 51.96,327.54 52.22,328.23 52.47,328.95 52.73,329.71 53,330.5 53.28,331.35 53.56,332.24 53.85,333.18 54.14,334.12 54.42,335.07 54.7,336 54.97,336.91 55.24,337.82 55.51,338.72 55.77,339.64 56.03,340.56 56.3,341.5 56.59,342.53 56.89,343.66 57.2,344.79 57.49,345.86 57.73,346.75 57.9,347.4"/>
<polyline fill="none" stroke="#f2c39c" stroke-width="3.2" stroke-linejoin="round" stroke-linecap="round" points="13.25,363.6 13.78,363.77 14.51,364.01 15.37,364.29 16.3,364.6 17.23,364.91 18.1,365.2 18.91,365.52 19.73,365.89 20.55,366.26 21.36,366.58 22.18,366.81 23,366.9 23.82,366.84 24.64,366.67 25.45,366.41 26.27,366.06 27.09,365.66 27.9,365.2 28.71,364.68 29.52,364.07 30.33,363.4 31.14,362.69 31.94,361.95 32.75,361.2 33.56,360.44 34.36,359.63 35.17,358.81 35.98,357.97 36.79,357.13 37.6,356.3 38.42,355.5 39.26,354.73 40.1,353.95 40.92,353.15 41.73,352.31 42.5,351.4 43.25,350.37 43.99,349.23 44.71,348.04 45.39,346.88 46.02,345.81 46.6,344.9 47.08,344.12 47.46,343.41 47.8,342.79 48.14,342.29 48.52,341.92 49,341.7 49.58,341.62 50.21,341.67 50.9,341.84 51.62,342.17 52.36,342.65 53.1,343.3 53.92,344.27 54.83,345.58 55.76,347.05 56.63,348.5 57.37,349.74 57.9,350.6"/>
<polyline fill="none" stroke="#5b6672" stroke-width="1.0" stroke-linejoin="round" stroke-linecap="round" points="32.75,361.2 32.97,360.93 33.28,360.57 33.65,360.14 34.04,359.64 34.44,359.09 34.8,358.5 35.14,357.86 35.47,357.17 35.8,356.43 36.13,355.64 36.46,354.79 36.8,353.9 37.15,352.94 37.5,351.91 37.85,350.82 38.2,349.71 38.55,348.6 38.9,347.5 39.24,346.4 39.59,345.29 39.93,344.17 40.27,343.06 40.59,341.96 40.9,340.9 41.19,339.87 41.46,338.87 41.72,337.88 41.98,336.91 42.24,335.95 42.5,335 42.77,334.05 43.03,333.11 43.29,332.19 43.56,331.27 43.83,330.38 44.1,329.5 44.38,328.63 44.66,327.76 44.95,326.91 45.24,326.09 45.52,325.31 45.8,324.6 46.07,323.92 46.33,323.24 46.58,322.62 46.84,322.08 47.11,321.66 47.4,321.4 47.71,321.32 48.04,321.39 48.38,321.57 48.72,321.86 49.06,322.21 49.4,322.6 49.74,323.05 50.08,323.6 50.43,324.21 50.76,324.86 51.09,325.53 51.4,326.2 51.69,326.86 51.96,327.54 52.22,328.23 52.47,328.95 52.73,329.71 53,330.5 53.28,331.35 53.56,332.24 53.85,333.18 54.14,334.12 54.42,335.07 54.7,336 54.97,336.91 55.24,337.82 55.51,338.72 55.77,339.64 56.03,340.56 56.3,341.5 56.59,342.53 56.89,343.66 57.2,344.79 57.49,345.86 57.73,346.75 57.9,347.4"/>
<polyline fill="none" stroke="#dc7a2e" stroke-width="1.5" stroke-linejoin="round" stroke-linecap="round" points="13.25,363.6 13.78,363.77 14.51,364.01 15.37,364.29 16.3,364.6 17.23,364.91 18.1,365.2 18.91,365.52 19.73,365.89 20.55,366.26 21.36,366.58 22.18,366.81 23,366.9 23.82,366.84 24.64,366.67 25.45,366.41 26.27,366.06 27.09,365.66 27.9,365.2 28.71,364.68 29.52,364.07 30.33,363.4 31.14,362.69 31.94,361.95 32.75,361.2 33.56,360.44 34.36,359.63 35.17,358.81 35.98,357.97 36.79,357.13 37.6,356.3 38.42,355.5 39.26,354.73 40.1,353.95 40.92,353.15 41.73,352.31 42.5,351.4 43.25,350.37 43.99,349.23 44.71,348.04 45.39,346.88 46.02,345.81 46.6,344.9 47.08,344.12 47.46,343.41 47.8,342.79 48.14,342.29 48.52,341.92 49,341.7 49.58,341.62 50.21,341.67 50.9,341.84 51.62,342.17 52.36,342.65 53.1,343.3 53.92,344.27 54.83,345.58 55.76,347.05 56.63,348.5 57.37,349.74 57.9,350.6"/>
<line x1="39.8" y1="385.1" x2="53.4" y2="385.1" stroke="#111" stroke-width="1.7" stroke-linecap="butt"/>
<text x="46" y="384.2" font-family="Liberation Sans" font-size="5" font-weight="bold" font-style="normal" text-anchor="middle" fill="#111" stroke="#111" stroke-width="0.16">*</text>
<polyline fill="none" stroke="#c3cad2" stroke-width="2.8" stroke-linejoin="round" stroke-linecap="round" points="62.3,342.5 62.72,342.93 63.28,343.51 63.96,344.21 64.7,344.96 65.46,345.71 66.2,346.4 66.94,347.04 67.71,347.67 68.5,348.3 69.3,348.93 70.11,349.56 70.9,350.2 71.68,350.85 72.47,351.52 73.26,352.19 74.04,352.85 74.82,353.49 75.6,354.1 76.37,354.7 77.14,355.29 77.9,355.87 78.66,356.41 79.43,356.89 80.2,357.3 80.98,357.64 81.76,357.91 82.54,358.13 83.33,358.3 84.12,358.42 84.9,358.5 85.74,358.51 86.64,358.44 87.54,358.32 88.38,358.19 89.09,358.07 89.6,358"/>
<polyline fill="none" stroke="#f2c39c" stroke-width="3.2" stroke-linejoin="round" stroke-linecap="round" points="62.3,350.2 62.72,350.55 63.28,351.03 63.96,351.61 64.7,352.22 65.46,352.84 66.2,353.4 66.94,353.93 67.71,354.47 68.5,355.01 69.3,355.53 70.11,356.03 70.9,356.5 71.68,356.94 72.47,357.37 73.26,357.77 74.04,358.15 74.82,358.5 75.6,358.8 76.37,359.07 77.14,359.32 77.9,359.53 78.66,359.7 79.43,359.83 80.2,359.9 80.98,359.91 81.76,359.85 82.54,359.75 83.33,359.61 84.12,359.46 84.9,359.3 85.68,359.11 86.47,358.87 87.25,358.61 88.03,358.36 88.82,358.15 89.6,358 90.38,357.92 91.17,357.87 91.96,357.87 92.74,357.89 93.52,357.94 94.3,358 95.08,358.08 95.87,358.18 96.65,358.3 97.42,358.44 98.17,358.61 98.9,358.8 99.59,359.01 100.25,359.25 100.89,359.51 101.53,359.79 102.16,360.08 102.8,360.4 103.5,360.77 104.24,361.2 104.99,361.65 105.69,362.08 106.28,362.44 106.7,362.7"/>
<polyline fill="none" stroke="#5b6672" stroke-width="1.1" stroke-linejoin="round" stroke-linecap="round" points="62.3,342.5 62.72,342.93 63.28,343.51 63.96,344.21 64.7,344.96 65.46,345.71 66.2,346.4 66.94,347.04 67.71,347.67 68.5,348.3 69.3,348.93 70.11,349.56 70.9,350.2 71.68,350.85 72.47,351.52 73.26,352.19 74.04,352.85 74.82,353.49 75.6,354.1 76.37,354.7 77.14,355.29 77.9,355.87 78.66,356.41 79.43,356.89 80.2,357.3 80.98,357.64 81.76,357.91 82.54,358.13 83.33,358.3 84.12,358.42 84.9,358.5 85.74,358.51 86.64,358.44 87.54,358.32 88.38,358.19 89.09,358.07 89.6,358"/>
<polyline fill="none" stroke="#dc7a2e" stroke-width="1.5" stroke-linejoin="round" stroke-linecap="round" points="62.3,350.2 62.72,350.55 63.28,351.03 63.96,351.61 64.7,352.22 65.46,352.84 66.2,353.4 66.94,353.93 67.71,354.47 68.5,355.01 69.3,355.53 70.11,356.03 70.9,356.5 71.68,356.94 72.47,357.37 73.26,357.77 74.04,358.15 74.82,358.5 75.6,358.8 76.37,359.07 77.14,359.32 77.9,359.53 78.66,359.7 79.43,359.83 80.2,359.9 80.98,359.91 81.76,359.85 82.54,359.75 83.33,359.61 84.12,359.46 84.9,359.3 85.68,359.11 86.47,358.87 87.25,358.61 88.03,358.36 88.82,358.15 89.6,358 90.38,357.92 91.17,357.87 91.96,357.87 92.74,357.89 93.52,357.94 94.3,358 95.08,358.08 95.87,358.18 96.65,358.3 97.42,358.44 98.17,358.61 98.9,358.8 99.59,359.01 100.25,359.25 100.89,359.51 101.53,359.79 102.16,360.08 102.8,360.4 103.5,360.77 104.24,361.2 104.99,361.65 105.69,362.08 106.28,362.44 106.7,362.7"/>
<line x1="63.4" y1="384.3" x2="79.5" y2="384.3" stroke="#111" stroke-width="1.7" stroke-linecap="butt"/>
<text x="71.6" y="383.4" font-family="Liberation Sans" font-size="5" font-weight="bold" font-style="normal" text-anchor="middle" fill="#111" stroke="#111" stroke-width="0.16">*</text>
<polyline fill="none" stroke="#c3cad2" stroke-width="2.6" stroke-linejoin="round" stroke-linecap="round" points="112,370 118,370 124,370 128,368 132,364 136,357 139,348 142,337 145,327 148,316 150,314 151.6,318 153.6,314.6 156,319 157.5,318"/>
<polyline fill="none" stroke="#f2c39c" stroke-width="3.2" stroke-linejoin="round" stroke-linecap="round" points="112,375 112.65,374.89 113.56,374.74 114.62,374.56 115.78,374.37 116.93,374.18 118,374 119.02,373.84 120.07,373.7 121.12,373.56 122.15,373.41 123.12,373.22 124,373 124.78,372.74 125.48,372.44 126.12,372.12 126.74,371.78 127.36,371.4 128,371 128.67,370.58 129.33,370.15 130,369.69 130.67,369.19 131.33,368.63 132,368 132.68,367.29 133.37,366.52 134.06,365.69 134.74,364.81 135.39,363.91 136,363 136.56,362.1 137.07,361.22 137.56,360.31 138.04,359.33 138.51,358.24 139,357 139.5,355.59 140,354.04 140.5,352.38 141,350.63 141.5,348.83 142,347 142.5,345.06 143,342.96 143.5,340.81 144,338.7 144.5,336.73 145,335 145.5,333.49 146,332.11 146.5,330.88 147,329.78 147.5,328.82 148,328 148.5,327.4 149.01,327.04 149.53,326.81 150.03,326.63 150.52,326.39 151,326 151.45,325.43 151.87,324.74 152.27,324 152.69,323.26 153.12,322.57 153.6,322 154.16,321.53 154.8,321.11 155.46,320.75 156.09,320.44 156.62,320.19 157,320"/>
<polyline fill="none" stroke="#5b6672" stroke-width="1.0" stroke-linejoin="round" stroke-linecap="round" points="112,370 118,370 124,370 128,368 132,364 136,357 139,348 142,337 145,327 148,316 150,314 151.6,318 153.6,314.6 156,319 157.5,318"/>
<polyline fill="none" stroke="#dc7a2e" stroke-width="1.4" stroke-linejoin="round" stroke-linecap="round" points="112,375 112.65,374.89 113.56,374.74 114.62,374.56 115.78,374.37 116.93,374.18 118,374 119.02,373.84 120.07,373.7 121.12,373.56 122.15,373.41 123.12,373.22 124,373 124.78,372.74 125.48,372.44 126.12,372.12 126.74,371.78 127.36,371.4 128,371 128.67,370.58 129.33,370.15 130,369.69 130.67,369.19 131.33,368.63 132,368 132.68,367.29 133.37,366.52 134.06,365.69 134.74,364.81 135.39,363.91 136,363 136.56,362.1 137.07,361.22 137.56,360.31 138.04,359.33 138.51,358.24 139,357 139.5,355.59 140,354.04 140.5,352.38 141,350.63 141.5,348.83 142,347 142.5,345.06 143,342.96 143.5,340.81 144,338.7 144.5,336.73 145,335 145.5,333.49 146,332.11 146.5,330.88 147,329.78 147.5,328.82 148,328 148.5,327.4 149.01,327.04 149.53,326.81 150.03,326.63 150.52,326.39 151,326 151.45,325.43 151.87,324.74 152.27,324 152.69,323.26 153.12,322.57 153.6,322 154.16,321.53 154.8,321.11 155.46,320.75 156.09,320.44 156.62,320.19 157,320"/>
<line x1="139.4" y1="383.5" x2="149.9" y2="383.5" stroke="#111" stroke-width="1.7" stroke-linecap="butt"/>
<text x="144.8" y="383" font-family="Liberation Sans" font-size="5" font-weight="bold" font-style="normal" text-anchor="middle" fill="#111" stroke="#111" stroke-width="0.16">*</text>
<line x1="126.6" y1="288" x2="126.6" y2="309.2" stroke="#cfcfcf" stroke-width="0.6" stroke-linecap="butt"/>
<line x1="135.7" y1="288" x2="135.7" y2="309.2" stroke="#cfcfcf" stroke-width="0.6" stroke-linecap="butt"/>
<line x1="145.3" y1="288" x2="145.3" y2="309.2" stroke="#cfcfcf" stroke-width="0.6" stroke-linecap="butt"/>
<line x1="126.6" y1="309.6" x2="153.3" y2="309.6" stroke="#dedede" stroke-width="0.6" stroke-linecap="butt"/>
<polyline fill="none" stroke="#bf9f88" stroke-width="1.0" stroke-linejoin="round" stroke-linecap="round" points="126.6,305.2 126.98,305.17 127.53,305.15 128.16,305.11 128.83,305.03 129.46,304.87 130,304.6 130.44,304.2 130.84,303.67 131.2,303.08 131.54,302.44 131.87,301.8 132.2,301.2 132.52,300.57 132.83,299.86 133.13,299.15 133.42,298.52 133.71,298.04 134,297.8 134.28,297.83 134.53,298.09 134.79,298.51 135.06,299.01 135.35,299.53 135.7,300 136.1,300.47 136.53,301 136.99,301.55 137.48,302.08 137.99,302.54 138.5,302.9 139.04,303.13 139.63,303.25 140.23,303.31 140.83,303.35 141.39,303.4 141.9,303.5 142.35,303.63 142.77,303.76 143.16,303.91 143.52,304.08 143.86,304.31 144.2,304.6 144.51,305.02 144.77,305.56 145.02,306.16 145.27,306.73 145.56,307.2 145.9,307.5 146.32,307.65 146.79,307.71 147.3,307.67 147.81,307.53 148.28,307.27 148.7,306.9 149.05,306.39 149.35,305.74 149.62,304.99 149.87,304.14 150.13,303.24 150.4,302.3 150.69,301.23 150.99,300.01 151.28,298.72 151.57,297.47 151.85,296.36 152.1,295.5 152.34,294.9 152.58,294.49 152.81,294.23 153.01,294.05 153.18,293.93 153.3,293.8"/>
<text x="172.2" y="276.1" font-family="Liberation Sans" font-size="6.0" font-weight="bold" font-style="italic" text-anchor="start" fill="#111" stroke="#111" stroke-width="0.3">F</text>
<line x1="188.5" y1="285" x2="188.5" y2="385" stroke="#4a4a4a" stroke-width="0.8" stroke-linecap="butt"/>
<line x1="187.6" y1="297" x2="188.5" y2="297" stroke="#4a4a4a" stroke-width="0.45" stroke-linecap="butt"/>
<line x1="187.6" y1="312.7" x2="188.5" y2="312.7" stroke="#4a4a4a" stroke-width="0.45" stroke-linecap="butt"/>
<line x1="187.6" y1="328.5" x2="188.5" y2="328.5" stroke="#4a4a4a" stroke-width="0.45" stroke-linecap="butt"/>
<line x1="187.6" y1="344.4" x2="188.5" y2="344.4" stroke="#4a4a4a" stroke-width="0.45" stroke-linecap="butt"/>
<line x1="187.6" y1="360.1" x2="188.5" y2="360.1" stroke="#4a4a4a" stroke-width="0.45" stroke-linecap="butt"/>
<line x1="187.6" y1="375.9" x2="188.5" y2="375.9" stroke="#4a4a4a" stroke-width="0.45" stroke-linecap="butt"/>
<line x1="188.5" y1="385" x2="256.5" y2="385" stroke="#4a4a4a" stroke-width="0.8" stroke-linecap="butt"/>
<line x1="189.5" y1="385" x2="189.5" y2="386.1" stroke="#4a4a4a" stroke-width="0.45" stroke-linecap="butt"/>
<line x1="191.6" y1="385" x2="191.6" y2="386.1" stroke="#4a4a4a" stroke-width="0.45" stroke-linecap="butt"/>
<line x1="193.7" y1="385" x2="193.7" y2="386.1" stroke="#4a4a4a" stroke-width="0.45" stroke-linecap="butt"/>
<line x1="195.8" y1="385" x2="195.8" y2="386.1" stroke="#4a4a4a" stroke-width="0.45" stroke-linecap="butt"/>
<line x1="197.9" y1="385" x2="197.9" y2="386.1" stroke="#4a4a4a" stroke-width="0.45" stroke-linecap="butt"/>
<line x1="200" y1="385" x2="200" y2="386.1" stroke="#4a4a4a" stroke-width="0.45" stroke-linecap="butt"/>
<line x1="202.1" y1="385" x2="202.1" y2="386.1" stroke="#4a4a4a" stroke-width="0.45" stroke-linecap="butt"/>
<line x1="204.2" y1="385" x2="204.2" y2="386.1" stroke="#4a4a4a" stroke-width="0.45" stroke-linecap="butt"/>
<line x1="206.3" y1="385" x2="206.3" y2="386.1" stroke="#4a4a4a" stroke-width="0.45" stroke-linecap="butt"/>
<line x1="208.4" y1="385" x2="208.4" y2="386.1" stroke="#4a4a4a" stroke-width="0.45" stroke-linecap="butt"/>
<line x1="210.5" y1="385" x2="210.5" y2="386.1" stroke="#4a4a4a" stroke-width="0.45" stroke-linecap="butt"/>
<line x1="212.6" y1="385" x2="212.6" y2="386.1" stroke="#4a4a4a" stroke-width="0.45" stroke-linecap="butt"/>
<line x1="214.7" y1="385" x2="214.7" y2="386.1" stroke="#4a4a4a" stroke-width="0.45" stroke-linecap="butt"/>
<line x1="216.8" y1="385" x2="216.8" y2="386.1" stroke="#4a4a4a" stroke-width="0.45" stroke-linecap="butt"/>
<line x1="218.9" y1="385" x2="218.9" y2="386.1" stroke="#4a4a4a" stroke-width="0.45" stroke-linecap="butt"/>
<line x1="221" y1="385" x2="221" y2="386.1" stroke="#4a4a4a" stroke-width="0.45" stroke-linecap="butt"/>
<line x1="223.1" y1="385" x2="223.1" y2="386.1" stroke="#4a4a4a" stroke-width="0.45" stroke-linecap="butt"/>
<line x1="225.2" y1="385" x2="225.2" y2="386.1" stroke="#4a4a4a" stroke-width="0.45" stroke-linecap="butt"/>
<line x1="227.3" y1="385" x2="227.3" y2="386.1" stroke="#4a4a4a" stroke-width="0.45" stroke-linecap="butt"/>
<line x1="229.4" y1="385" x2="229.4" y2="386.1" stroke="#4a4a4a" stroke-width="0.45" stroke-linecap="butt"/>
<line x1="231.5" y1="385" x2="231.5" y2="386.1" stroke="#4a4a4a" stroke-width="0.45" stroke-linecap="butt"/>
<line x1="233.6" y1="385" x2="233.6" y2="386.1" stroke="#4a4a4a" stroke-width="0.45" stroke-linecap="butt"/>
<line x1="235.7" y1="385" x2="235.7" y2="386.1" stroke="#4a4a4a" stroke-width="0.45" stroke-linecap="butt"/>
<line x1="237.8" y1="385" x2="237.8" y2="386.1" stroke="#4a4a4a" stroke-width="0.45" stroke-linecap="butt"/>
<line x1="239.9" y1="385" x2="239.9" y2="386.1" stroke="#4a4a4a" stroke-width="0.45" stroke-linecap="butt"/>
<line x1="242" y1="385" x2="242" y2="386.1" stroke="#4a4a4a" stroke-width="0.45" stroke-linecap="butt"/>
<line x1="244.1" y1="385" x2="244.1" y2="386.1" stroke="#4a4a4a" stroke-width="0.45" stroke-linecap="butt"/>
<line x1="246.2" y1="385" x2="246.2" y2="386.1" stroke="#4a4a4a" stroke-width="0.45" stroke-linecap="butt"/>
<line x1="248.3" y1="385" x2="248.3" y2="386.1" stroke="#4a4a4a" stroke-width="0.45" stroke-linecap="butt"/>
<line x1="250.4" y1="385" x2="250.4" y2="386.1" stroke="#4a4a4a" stroke-width="0.45" stroke-linecap="butt"/>
<line x1="252.5" y1="385" x2="252.5" y2="386.1" stroke="#4a4a4a" stroke-width="0.45" stroke-linecap="butt"/>
<line x1="254.6" y1="385" x2="254.6" y2="386.1" stroke="#4a4a4a" stroke-width="0.45" stroke-linecap="butt"/>
<line x1="256.7" y1="385" x2="256.7" y2="386.1" stroke="#4a4a4a" stroke-width="0.45" stroke-linecap="butt"/>
<text x="189.1" y="391.4" font-family="Liberation Serif" font-size="3.6" font-weight="bold" font-style="normal" text-anchor="middle" fill="#151515" stroke="#151515" stroke-width="0.16">4</text>
<text x="197.55" y="391.4" font-family="Liberation Serif" font-size="3.6" font-weight="bold" font-style="normal" text-anchor="middle" fill="#151515" stroke="#151515" stroke-width="0.16">4,5</text>
<text x="206" y="391.4" font-family="Liberation Serif" font-size="3.6" font-weight="bold" font-style="normal" text-anchor="middle" fill="#151515" stroke="#151515" stroke-width="0.16">5</text>
<text x="214.45" y="391.4" font-family="Liberation Serif" font-size="3.6" font-weight="bold" font-style="normal" text-anchor="middle" fill="#151515" stroke="#151515" stroke-width="0.16">5,5</text>
<text x="222.9" y="391.4" font-family="Liberation Serif" font-size="3.6" font-weight="bold" font-style="normal" text-anchor="middle" fill="#151515" stroke="#151515" stroke-width="0.16">6</text>
<text x="231.35" y="391.4" font-family="Liberation Serif" font-size="3.6" font-weight="bold" font-style="normal" text-anchor="middle" fill="#151515" stroke="#151515" stroke-width="0.16">6,5</text>
<text x="239.8" y="391.4" font-family="Liberation Serif" font-size="3.6" font-weight="bold" font-style="normal" text-anchor="middle" fill="#151515" stroke="#151515" stroke-width="0.16">7</text>
<text x="248.25" y="391.4" font-family="Liberation Serif" font-size="3.6" font-weight="bold" font-style="normal" text-anchor="middle" fill="#151515" stroke="#151515" stroke-width="0.16">7,5</text>
<text x="256.7" y="391.4" font-family="Liberation Serif" font-size="3.6" font-weight="bold" font-style="normal" text-anchor="middle" fill="#151515" stroke="#151515" stroke-width="0.16">8</text>
<text x="220" y="397.8" font-family="Liberation Serif" font-size="3.9" font-weight="bold" font-style="normal" text-anchor="middle" fill="#151515" stroke="#151515" stroke-width="0.16">Frequency (Hz)</text>
<line x1="261.5" y1="285" x2="261.5" y2="385" stroke="#4a4a4a" stroke-width="0.8" stroke-linecap="butt"/>
<line x1="260.6" y1="297" x2="261.5" y2="297" stroke="#4a4a4a" stroke-width="0.45" stroke-linecap="butt"/>
<line x1="260.6" y1="312.7" x2="261.5" y2="312.7" stroke="#4a4a4a" stroke-width="0.45" stroke-linecap="butt"/>
<line x1="260.6" y1="328.5" x2="261.5" y2="328.5" stroke="#4a4a4a" stroke-width="0.45" stroke-linecap="butt"/>
<line x1="260.6" y1="344.4" x2="261.5" y2="344.4" stroke="#4a4a4a" stroke-width="0.45" stroke-linecap="butt"/>
<line x1="260.6" y1="360.1" x2="261.5" y2="360.1" stroke="#4a4a4a" stroke-width="0.45" stroke-linecap="butt"/>
<line x1="260.6" y1="375.9" x2="261.5" y2="375.9" stroke="#4a4a4a" stroke-width="0.45" stroke-linecap="butt"/>
<line x1="261.5" y1="385" x2="329.5" y2="385" stroke="#4a4a4a" stroke-width="0.8" stroke-linecap="butt"/>
<line x1="262.5" y1="385" x2="262.5" y2="386.1" stroke="#4a4a4a" stroke-width="0.45" stroke-linecap="butt"/>
<line x1="264.6" y1="385" x2="264.6" y2="386.1" stroke="#4a4a4a" stroke-width="0.45" stroke-linecap="butt"/>
<line x1="266.7" y1="385" x2="266.7" y2="386.1" stroke="#4a4a4a" stroke-width="0.45" stroke-linecap="butt"/>
<line x1="268.8" y1="385" x2="268.8" y2="386.1" stroke="#4a4a4a" stroke-width="0.45" stroke-linecap="butt"/>
<line x1="270.9" y1="385" x2="270.9" y2="386.1" stroke="#4a4a4a" stroke-width="0.45" stroke-linecap="butt"/>
<line x1="273" y1="385" x2="273" y2="386.1" stroke="#4a4a4a" stroke-width="0.45" stroke-linecap="butt"/>
<line x1="275.1" y1="385" x2="275.1" y2="386.1" stroke="#4a4a4a" stroke-width="0.45" stroke-linecap="butt"/>
<line x1="277.2" y1="385" x2="277.2" y2="386.1" stroke="#4a4a4a" stroke-width="0.45" stroke-linecap="butt"/>
<line x1="279.3" y1="385" x2="279.3" y2="386.1" stroke="#4a4a4a" stroke-width="0.45" stroke-linecap="butt"/>
<line x1="281.4" y1="385" x2="281.4" y2="386.1" stroke="#4a4a4a" stroke-width="0.45" stroke-linecap="butt"/>
<line x1="283.5" y1="385" x2="283.5" y2="386.1" stroke="#4a4a4a" stroke-width="0.45" stroke-linecap="butt"/>
<line x1="285.6" y1="385" x2="285.6" y2="386.1" stroke="#4a4a4a" stroke-width="0.45" stroke-linecap="butt"/>
<line x1="287.7" y1="385" x2="287.7" y2="386.1" stroke="#4a4a4a" stroke-width="0.45" stroke-linecap="butt"/>
<line x1="289.8" y1="385" x2="289.8" y2="386.1" stroke="#4a4a4a" stroke-width="0.45" stroke-linecap="butt"/>
<line x1="291.9" y1="385" x2="291.9" y2="386.1" stroke="#4a4a4a" stroke-width="0.45" stroke-linecap="butt"/>
<line x1="294" y1="385" x2="294" y2="386.1" stroke="#4a4a4a" stroke-width="0.45" stroke-linecap="butt"/>
<line x1="296.1" y1="385" x2="296.1" y2="386.1" stroke="#4a4a4a" stroke-width="0.45" stroke-linecap="butt"/>
<line x1="298.2" y1="385" x2="298.2" y2="386.1" stroke="#4a4a4a" stroke-width="0.45" stroke-linecap="butt"/>
<line x1="300.3" y1="385" x2="300.3" y2="386.1" stroke="#4a4a4a" stroke-width="0.45" stroke-linecap="butt"/>
<line x1="302.4" y1="385" x2="302.4" y2="386.1" stroke="#4a4a4a" stroke-width="0.45" stroke-linecap="butt"/>
<line x1="304.5" y1="385" x2="304.5" y2="386.1" stroke="#4a4a4a" stroke-width="0.45" stroke-linecap="butt"/>
<line x1="306.6" y1="385" x2="306.6" y2="386.1" stroke="#4a4a4a" stroke-width="0.45" stroke-linecap="butt"/>
<line x1="308.7" y1="385" x2="308.7" y2="386.1" stroke="#4a4a4a" stroke-width="0.45" stroke-linecap="butt"/>
<line x1="310.8" y1="385" x2="310.8" y2="386.1" stroke="#4a4a4a" stroke-width="0.45" stroke-linecap="butt"/>
<line x1="312.9" y1="385" x2="312.9" y2="386.1" stroke="#4a4a4a" stroke-width="0.45" stroke-linecap="butt"/>
<line x1="315" y1="385" x2="315" y2="386.1" stroke="#4a4a4a" stroke-width="0.45" stroke-linecap="butt"/>
<line x1="317.1" y1="385" x2="317.1" y2="386.1" stroke="#4a4a4a" stroke-width="0.45" stroke-linecap="butt"/>
<line x1="319.2" y1="385" x2="319.2" y2="386.1" stroke="#4a4a4a" stroke-width="0.45" stroke-linecap="butt"/>
<line x1="321.3" y1="385" x2="321.3" y2="386.1" stroke="#4a4a4a" stroke-width="0.45" stroke-linecap="butt"/>
<line x1="323.4" y1="385" x2="323.4" y2="386.1" stroke="#4a4a4a" stroke-width="0.45" stroke-linecap="butt"/>
<line x1="325.5" y1="385" x2="325.5" y2="386.1" stroke="#4a4a4a" stroke-width="0.45" stroke-linecap="butt"/>
<line x1="327.6" y1="385" x2="327.6" y2="386.1" stroke="#4a4a4a" stroke-width="0.45" stroke-linecap="butt"/>
<line x1="329.7" y1="385" x2="329.7" y2="386.1" stroke="#4a4a4a" stroke-width="0.45" stroke-linecap="butt"/>
<text x="262.1" y="391.4" font-family="Liberation Serif" font-size="3.6" font-weight="bold" font-style="normal" text-anchor="middle" fill="#151515" stroke="#151515" stroke-width="0.16">4</text>
<text x="270.55" y="391.4" font-family="Liberation Serif" font-size="3.6" font-weight="bold" font-style="normal" text-anchor="middle" fill="#151515" stroke="#151515" stroke-width="0.16">4,5</text>
<text x="279" y="391.4" font-family="Liberation Serif" font-size="3.6" font-weight="bold" font-style="normal" text-anchor="middle" fill="#151515" stroke="#151515" stroke-width="0.16">5</text>
<text x="287.45" y="391.4" font-family="Liberation Serif" font-size="3.6" font-weight="bold" font-style="normal" text-anchor="middle" fill="#151515" stroke="#151515" stroke-width="0.16">5,5</text>
<text x="295.9" y="391.4" font-family="Liberation Serif" font-size="3.6" font-weight="bold" font-style="normal" text-anchor="middle" fill="#151515" stroke="#151515" stroke-width="0.16">6</text>
<text x="304.35" y="391.4" font-family="Liberation Serif" font-size="3.6" font-weight="bold" font-style="normal" text-anchor="middle" fill="#151515" stroke="#151515" stroke-width="0.16">6,5</text>
<text x="312.8" y="391.4" font-family="Liberation Serif" font-size="3.6" font-weight="bold" font-style="normal" text-anchor="middle" fill="#151515" stroke="#151515" stroke-width="0.16">7</text>
<text x="321.25" y="391.4" font-family="Liberation Serif" font-size="3.6" font-weight="bold" font-style="normal" text-anchor="middle" fill="#151515" stroke="#151515" stroke-width="0.16">7,5</text>
<text x="329.7" y="391.4" font-family="Liberation Serif" font-size="3.6" font-weight="bold" font-style="normal" text-anchor="middle" fill="#151515" stroke="#151515" stroke-width="0.16">8</text>
<text x="293" y="397.8" font-family="Liberation Serif" font-size="3.9" font-weight="bold" font-style="normal" text-anchor="middle" fill="#151515" stroke="#151515" stroke-width="0.16">Frequency (Hz)</text>
<text x="186.2" y="298.35" font-family="Liberation Serif" font-size="3.7" font-weight="bold" font-style="normal" text-anchor="end" fill="#151515" stroke="#151515" stroke-width="0.16">3</text>
<text x="186.2" y="314.05" font-family="Liberation Serif" font-size="3.7" font-weight="bold" font-style="normal" text-anchor="end" fill="#151515" stroke="#151515" stroke-width="0.16">2,5</text>
<text x="186.2" y="329.85" font-family="Liberation Serif" font-size="3.7" font-weight="bold" font-style="normal" text-anchor="end" fill="#151515" stroke="#151515" stroke-width="0.16">2</text>
<text x="186.2" y="345.75" font-family="Liberation Serif" font-size="3.7" font-weight="bold" font-style="normal" text-anchor="end" fill="#151515" stroke="#151515" stroke-width="0.16">1,5</text>
<text x="186.2" y="361.45" font-family="Liberation Serif" font-size="3.7" font-weight="bold" font-style="normal" text-anchor="end" fill="#151515" stroke="#151515" stroke-width="0.16">1</text>
<text x="186.2" y="377.25" font-family="Liberation Serif" font-size="3.7" font-weight="bold" font-style="normal" text-anchor="end" fill="#151515" stroke="#151515" stroke-width="0.16">0,5</text>
<text x="177.7" y="335" font-family="Liberation Serif" font-size="3.9" font-weight="bold" font-style="normal" text-anchor="middle" fill="#151515" stroke="#151515" stroke-width="0.16" transform="rotate(-90 177.7 335)">Relative power</text>
<text x="224.6" y="285.4" font-family="Liberation Serif" font-size="4.2" font-weight="bold" font-style="normal" text-anchor="middle" fill="#151515" stroke="#151515" stroke-width="0.16">Active phase</text>
<text x="300.8" y="285.2" font-family="Liberation Serif" font-size="4.2" font-weight="bold" font-style="normal" text-anchor="middle" fill="#151515" stroke="#151515" stroke-width="0.16">Quiet phase</text>
<line x1="190.4" y1="366.6" x2="190.4" y2="371" stroke="#8a95a1" stroke-width="0.55" stroke-linecap="butt"/>
<line x1="192.54" y1="367.12" x2="192.54" y2="371.52" stroke="#8a95a1" stroke-width="0.55" stroke-linecap="butt"/>
<line x1="194.68" y1="367.65" x2="194.68" y2="372.05" stroke="#8a95a1" stroke-width="0.55" stroke-linecap="butt"/>
<line x1="196.82" y1="368.18" x2="196.82" y2="372.58" stroke="#8a95a1" stroke-width="0.55" stroke-linecap="butt"/>
<line x1="198.96" y1="368.72" x2="198.96" y2="373.12" stroke="#8a95a1" stroke-width="0.55" stroke-linecap="butt"/>
<line x1="201.1" y1="369.1" x2="201.1" y2="373.5" stroke="#8a95a1" stroke-width="0.55" stroke-linecap="butt"/>
<line x1="203.24" y1="369.45" x2="203.24" y2="373.85" stroke="#8a95a1" stroke-width="0.55" stroke-linecap="butt"/>
<line x1="205.38" y1="369.8" x2="205.38" y2="374.2" stroke="#8a95a1" stroke-width="0.55" stroke-linecap="butt"/>
<line x1="207.52" y1="369.78" x2="207.52" y2="374.18" stroke="#8a95a1" stroke-width="0.55" stroke-linecap="butt"/>
<line x1="209.66" y1="369.62" x2="209.66" y2="374.02" stroke="#8a95a1" stroke-width="0.55" stroke-linecap="butt"/>
<line x1="211.8" y1="369.46" x2="211.8" y2="373.86" stroke="#8a95a1" stroke-width="0.55" stroke-linecap="butt"/>
<line x1="213.94" y1="369.07" x2="213.94" y2="373.47" stroke="#8a95a1" stroke-width="0.55" stroke-linecap="butt"/>
<line x1="216.08" y1="368.53" x2="216.08" y2="372.93" stroke="#8a95a1" stroke-width="0.55" stroke-linecap="butt"/>
<line x1="218.22" y1="367.59" x2="218.22" y2="371.99" stroke="#8a95a1" stroke-width="0.55" stroke-linecap="butt"/>
<line x1="220.36" y1="366.07" x2="220.36" y2="370.47" stroke="#8a95a1" stroke-width="0.55" stroke-linecap="butt"/>
<line x1="222.5" y1="362.55" x2="222.5" y2="366.95" stroke="#8a95a1" stroke-width="0.55" stroke-linecap="butt"/>
<line x1="224.64" y1="358.62" x2="224.64" y2="363.02" stroke="#8a95a1" stroke-width="0.55" stroke-linecap="butt"/>
<line x1="226.78" y1="354.34" x2="226.78" y2="358.74" stroke="#8a95a1" stroke-width="0.55" stroke-linecap="butt"/>
<line x1="228.92" y1="349.84" x2="228.92" y2="354.24" stroke="#8a95a1" stroke-width="0.55" stroke-linecap="butt"/>
<line x1="231.06" y1="345.03" x2="231.06" y2="349.43" stroke="#8a95a1" stroke-width="0.55" stroke-linecap="butt"/>
<line x1="233.2" y1="339.95" x2="233.2" y2="344.35" stroke="#8a95a1" stroke-width="0.55" stroke-linecap="butt"/>
<line x1="235.34" y1="334.28" x2="235.34" y2="338.68" stroke="#8a95a1" stroke-width="0.55" stroke-linecap="butt"/>
<line x1="237.48" y1="328.41" x2="237.48" y2="332.81" stroke="#8a95a1" stroke-width="0.55" stroke-linecap="butt"/>
<line x1="239.62" y1="323.13" x2="239.62" y2="327.53" stroke="#8a95a1" stroke-width="0.55" stroke-linecap="butt"/>
<line x1="241.76" y1="319.83" x2="241.76" y2="324.23" stroke="#8a95a1" stroke-width="0.55" stroke-linecap="butt"/>
<line x1="243.9" y1="321.12" x2="243.9" y2="325.52" stroke="#8a95a1" stroke-width="0.55" stroke-linecap="butt"/>
<line x1="246.04" y1="324.09" x2="246.04" y2="328.49" stroke="#8a95a1" stroke-width="0.55" stroke-linecap="butt"/>
<line x1="248.18" y1="327.66" x2="248.18" y2="332.06" stroke="#8a95a1" stroke-width="0.55" stroke-linecap="butt"/>
<line x1="250.32" y1="331.94" x2="250.32" y2="336.34" stroke="#8a95a1" stroke-width="0.55" stroke-linecap="butt"/>
<line x1="252.46" y1="336.6" x2="252.46" y2="341" stroke="#8a95a1" stroke-width="0.55" stroke-linecap="butt"/>
<line x1="254.6" y1="342.64" x2="254.6" y2="347.04" stroke="#8a95a1" stroke-width="0.55" stroke-linecap="butt"/>
<line x1="256.74" y1="349.11" x2="256.74" y2="353.51" stroke="#8a95a1" stroke-width="0.55" stroke-linecap="butt"/>
<polyline fill="none" stroke="#7f8b98" stroke-width="0.8" stroke-linejoin="round" stroke-linecap="round" points="190.4,368.8 194.9,369.9 199.3,371 206,372.1 212.6,371.6 217,370.5 220.1,368.7 223.5,363.1 228,354.1 232.5,344 235.9,335 238.6,327.5 241.3,321.75 244.2,323.5 247.5,328.5 252,337.5 254.8,345.4 257,352.1"/>
<line x1="189.6" y1="368.8" x2="191.2" y2="368.8" stroke="#36404b" stroke-width="0.55" stroke-linecap="butt"/>
<line x1="191.74" y1="369.32" x2="193.34" y2="369.32" stroke="#36404b" stroke-width="0.55" stroke-linecap="butt"/>
<line x1="193.88" y1="369.85" x2="195.48" y2="369.85" stroke="#36404b" stroke-width="0.55" stroke-linecap="butt"/>
<line x1="196.02" y1="370.38" x2="197.62" y2="370.38" stroke="#36404b" stroke-width="0.55" stroke-linecap="butt"/>
<line x1="198.16" y1="370.92" x2="199.76" y2="370.92" stroke="#36404b" stroke-width="0.55" stroke-linecap="butt"/>
<line x1="200.3" y1="371.3" x2="201.9" y2="371.3" stroke="#36404b" stroke-width="0.55" stroke-linecap="butt"/>
<line x1="202.44" y1="371.65" x2="204.04" y2="371.65" stroke="#36404b" stroke-width="0.55" stroke-linecap="butt"/>
<line x1="204.58" y1="372" x2="206.18" y2="372" stroke="#36404b" stroke-width="0.55" stroke-linecap="butt"/>
<line x1="206.72" y1="371.98" x2="208.32" y2="371.98" stroke="#36404b" stroke-width="0.55" stroke-linecap="butt"/>
<line x1="208.86" y1="371.82" x2="210.46" y2="371.82" stroke="#36404b" stroke-width="0.55" stroke-linecap="butt"/>
<line x1="211" y1="371.66" x2="212.6" y2="371.66" stroke="#36404b" stroke-width="0.55" stroke-linecap="butt"/>
<line x1="213.14" y1="371.27" x2="214.74" y2="371.27" stroke="#36404b" stroke-width="0.55" stroke-linecap="butt"/>
<line x1="215.28" y1="370.73" x2="216.88" y2="370.73" stroke="#36404b" stroke-width="0.55" stroke-linecap="butt"/>
<line x1="217.42" y1="369.79" x2="219.02" y2="369.79" stroke="#36404b" stroke-width="0.55" stroke-linecap="butt"/>
<line x1="219.56" y1="368.27" x2="221.16" y2="368.27" stroke="#36404b" stroke-width="0.55" stroke-linecap="butt"/>
<line x1="221.7" y1="364.75" x2="223.3" y2="364.75" stroke="#36404b" stroke-width="0.55" stroke-linecap="butt"/>
<line x1="223.84" y1="360.82" x2="225.44" y2="360.82" stroke="#36404b" stroke-width="0.55" stroke-linecap="butt"/>
<line x1="225.98" y1="356.54" x2="227.58" y2="356.54" stroke="#36404b" stroke-width="0.55" stroke-linecap="butt"/>
<line x1="228.12" y1="352.04" x2="229.72" y2="352.04" stroke="#36404b" stroke-width="0.55" stroke-linecap="butt"/>
<line x1="230.26" y1="347.23" x2="231.86" y2="347.23" stroke="#36404b" stroke-width="0.55" stroke-linecap="butt"/>
<line x1="232.4" y1="342.15" x2="234" y2="342.15" stroke="#36404b" stroke-width="0.55" stroke-linecap="butt"/>
<line x1="234.54" y1="336.48" x2="236.14" y2="336.48" stroke="#36404b" stroke-width="0.55" stroke-linecap="butt"/>
<line x1="236.68" y1="330.61" x2="238.28" y2="330.61" stroke="#36404b" stroke-width="0.55" stroke-linecap="butt"/>
<line x1="238.82" y1="325.33" x2="240.42" y2="325.33" stroke="#36404b" stroke-width="0.55" stroke-linecap="butt"/>
<line x1="240.96" y1="322.03" x2="242.56" y2="322.03" stroke="#36404b" stroke-width="0.55" stroke-linecap="butt"/>
<line x1="243.1" y1="323.32" x2="244.7" y2="323.32" stroke="#36404b" stroke-width="0.55" stroke-linecap="butt"/>
<line x1="245.24" y1="326.29" x2="246.84" y2="326.29" stroke="#36404b" stroke-width="0.55" stroke-linecap="butt"/>
<line x1="247.38" y1="329.86" x2="248.98" y2="329.86" stroke="#36404b" stroke-width="0.55" stroke-linecap="butt"/>
<line x1="249.52" y1="334.14" x2="251.12" y2="334.14" stroke="#36404b" stroke-width="0.55" stroke-linecap="butt"/>
<line x1="251.66" y1="338.8" x2="253.26" y2="338.8" stroke="#36404b" stroke-width="0.55" stroke-linecap="butt"/>
<line x1="253.8" y1="344.84" x2="255.4" y2="344.84" stroke="#36404b" stroke-width="0.55" stroke-linecap="butt"/>
<line x1="255.94" y1="351.31" x2="257.54" y2="351.31" stroke="#36404b" stroke-width="0.55" stroke-linecap="butt"/>
<circle cx="190.4" cy="368.8" r="0.65" fill="#36404b"/>
<circle cx="192.54" cy="369.32" r="0.65" fill="#36404b"/>
<circle cx="194.68" cy="369.85" r="0.65" fill="#36404b"/>
<circle cx="196.82" cy="370.38" r="0.65" fill="#36404b"/>
<circle cx="198.96" cy="370.92" r="0.65" fill="#36404b"/>
<circle cx="201.1" cy="371.3" r="0.65" fill="#36404b"/>
<circle cx="203.24" cy="371.65" r="0.65" fill="#36404b"/>
<circle cx="205.38" cy="372" r="0.65" fill="#36404b"/>
<circle cx="207.52" cy="371.98" r="0.65" fill="#36404b"/>
<circle cx="209.66" cy="371.82" r="0.65" fill="#36404b"/>
<circle cx="211.8" cy="371.66" r="0.65" fill="#36404b"/>
<circle cx="213.94" cy="371.27" r="0.65" fill="#36404b"/>
<circle cx="216.08" cy="370.73" r="0.65" fill="#36404b"/>
<circle cx="218.22" cy="369.79" r="0.65" fill="#36404b"/>
<circle cx="220.36" cy="368.27" r="0.65" fill="#36404b"/>
<circle cx="222.5" cy="364.75" r="0.65" fill="#36404b"/>
<circle cx="224.64" cy="360.82" r="0.65" fill="#36404b"/>
<circle cx="226.78" cy="356.54" r="0.65" fill="#36404b"/>
<circle cx="228.92" cy="352.04" r="0.65" fill="#36404b"/>
<circle cx="231.06" cy="347.23" r="0.65" fill="#36404b"/>
<circle cx="233.2" cy="342.15" r="0.65" fill="#36404b"/>
<circle cx="235.34" cy="336.48" r="0.65" fill="#36404b"/>
<circle cx="237.48" cy="330.61" r="0.65" fill="#36404b"/>
<circle cx="239.62" cy="325.33" r="0.65" fill="#36404b"/>
<circle cx="241.76" cy="322.03" r="0.65" fill="#36404b"/>
<circle cx="243.9" cy="323.32" r="0.65" fill="#36404b"/>
<circle cx="246.04" cy="326.29" r="0.65" fill="#36404b"/>
<circle cx="248.18" cy="329.86" r="0.65" fill="#36404b"/>
<circle cx="250.32" cy="334.14" r="0.65" fill="#36404b"/>
<circle cx="252.46" cy="338.8" r="0.65" fill="#36404b"/>
<circle cx="254.6" cy="344.84" r="0.65" fill="#36404b"/>
<circle cx="256.74" cy="351.31" r="0.65" fill="#36404b"/>
<line x1="190.4" y1="366.6" x2="190.4" y2="372.2" stroke="#eeae78" stroke-width="0.55" stroke-linecap="butt"/>
<line x1="192.54" y1="366.31" x2="192.54" y2="371.91" stroke="#eeae78" stroke-width="0.55" stroke-linecap="butt"/>
<line x1="194.68" y1="366.03" x2="194.68" y2="371.63" stroke="#eeae78" stroke-width="0.55" stroke-linecap="butt"/>
<line x1="196.82" y1="366.96" x2="196.82" y2="372.56" stroke="#eeae78" stroke-width="0.55" stroke-linecap="butt"/>
<line x1="198.96" y1="368.03" x2="198.96" y2="373.63" stroke="#eeae78" stroke-width="0.55" stroke-linecap="butt"/>
<line x1="201.1" y1="368.68" x2="201.1" y2="374.28" stroke="#eeae78" stroke-width="0.55" stroke-linecap="butt"/>
<line x1="203.24" y1="369.26" x2="203.24" y2="374.86" stroke="#eeae78" stroke-width="0.55" stroke-linecap="butt"/>
<line x1="205.38" y1="369.83" x2="205.38" y2="375.43" stroke="#eeae78" stroke-width="0.55" stroke-linecap="butt"/>
<line x1="207.52" y1="369.81" x2="207.52" y2="375.41" stroke="#eeae78" stroke-width="0.55" stroke-linecap="butt"/>
<line x1="209.66" y1="369.54" x2="209.66" y2="375.14" stroke="#eeae78" stroke-width="0.55" stroke-linecap="butt"/>
<line x1="211.8" y1="369.27" x2="211.8" y2="374.88" stroke="#eeae78" stroke-width="0.55" stroke-linecap="butt"/>
<line x1="213.94" y1="369.01" x2="213.94" y2="374.61" stroke="#eeae78" stroke-width="0.55" stroke-linecap="butt"/>
<line x1="216.08" y1="368.65" x2="216.08" y2="374.25" stroke="#eeae78" stroke-width="0.55" stroke-linecap="butt"/>
<line x1="218.22" y1="368" x2="218.22" y2="373.6" stroke="#eeae78" stroke-width="0.55" stroke-linecap="butt"/>
<line x1="220.36" y1="367.35" x2="220.36" y2="372.95" stroke="#eeae78" stroke-width="0.55" stroke-linecap="butt"/>
<line x1="222.5" y1="366.32" x2="222.5" y2="371.92" stroke="#eeae78" stroke-width="0.55" stroke-linecap="butt"/>
<line x1="224.64" y1="365.05" x2="224.64" y2="370.65" stroke="#eeae78" stroke-width="0.55" stroke-linecap="butt"/>
<line x1="226.78" y1="363.77" x2="226.78" y2="369.37" stroke="#eeae78" stroke-width="0.55" stroke-linecap="butt"/>
<line x1="228.92" y1="361.68" x2="228.92" y2="367.28" stroke="#eeae78" stroke-width="0.55" stroke-linecap="butt"/>
<line x1="231.06" y1="359.54" x2="231.06" y2="365.14" stroke="#eeae78" stroke-width="0.55" stroke-linecap="butt"/>
<line x1="233.2" y1="357.25" x2="233.2" y2="362.85" stroke="#eeae78" stroke-width="0.55" stroke-linecap="butt"/>
<line x1="235.34" y1="354.65" x2="235.34" y2="360.25" stroke="#eeae78" stroke-width="0.55" stroke-linecap="butt"/>
<line x1="237.48" y1="352.05" x2="237.48" y2="357.65" stroke="#eeae78" stroke-width="0.55" stroke-linecap="butt"/>
<line x1="239.62" y1="348.95" x2="239.62" y2="354.55" stroke="#eeae78" stroke-width="0.55" stroke-linecap="butt"/>
<line x1="241.76" y1="345.76" x2="241.76" y2="351.36" stroke="#eeae78" stroke-width="0.55" stroke-linecap="butt"/>
<line x1="243.9" y1="343.35" x2="243.9" y2="348.95" stroke="#eeae78" stroke-width="0.55" stroke-linecap="butt"/>
<line x1="246.04" y1="342.81" x2="246.04" y2="348.42" stroke="#eeae78" stroke-width="0.55" stroke-linecap="butt"/>
<line x1="248.18" y1="342.97" x2="248.18" y2="348.57" stroke="#eeae78" stroke-width="0.55" stroke-linecap="butt"/>
<line x1="250.32" y1="343.32" x2="250.32" y2="348.92" stroke="#eeae78" stroke-width="0.55" stroke-linecap="butt"/>
<line x1="252.46" y1="345.07" x2="252.46" y2="350.67" stroke="#eeae78" stroke-width="0.55" stroke-linecap="butt"/>
<line x1="254.6" y1="346.97" x2="254.6" y2="352.57" stroke="#eeae78" stroke-width="0.55" stroke-linecap="butt"/>
<line x1="256.74" y1="349.05" x2="256.74" y2="354.65" stroke="#eeae78" stroke-width="0.55" stroke-linecap="butt"/>
<polyline fill="none" stroke="#eb9a55" stroke-width="1.3" stroke-linejoin="round" stroke-linecap="round" points="190.4,369.4 194.9,368.8 199.3,371 206,372.8 210,372.3 215.6,371.6 221.2,369.9 226.9,366.5 232.5,360.9 238.1,354.1 241.4,349 243.7,346.2 246.5,345.5 250.3,346.1 253.6,348.8 257,352.1"/>
<line x1="189.5" y1="369.4" x2="191.3" y2="369.4" stroke="#a85c22" stroke-width="0.55" stroke-linecap="butt"/>
<line x1="191.64" y1="369.11" x2="193.44" y2="369.11" stroke="#a85c22" stroke-width="0.55" stroke-linecap="butt"/>
<line x1="193.78" y1="368.83" x2="195.58" y2="368.83" stroke="#a85c22" stroke-width="0.55" stroke-linecap="butt"/>
<line x1="195.92" y1="369.76" x2="197.72" y2="369.76" stroke="#a85c22" stroke-width="0.55" stroke-linecap="butt"/>
<line x1="198.06" y1="370.83" x2="199.86" y2="370.83" stroke="#a85c22" stroke-width="0.55" stroke-linecap="butt"/>
<line x1="200.2" y1="371.48" x2="202" y2="371.48" stroke="#a85c22" stroke-width="0.55" stroke-linecap="butt"/>
<line x1="202.34" y1="372.06" x2="204.14" y2="372.06" stroke="#a85c22" stroke-width="0.55" stroke-linecap="butt"/>
<line x1="204.48" y1="372.63" x2="206.28" y2="372.63" stroke="#a85c22" stroke-width="0.55" stroke-linecap="butt"/>
<line x1="206.62" y1="372.61" x2="208.42" y2="372.61" stroke="#a85c22" stroke-width="0.55" stroke-linecap="butt"/>
<line x1="208.76" y1="372.34" x2="210.56" y2="372.34" stroke="#a85c22" stroke-width="0.55" stroke-linecap="butt"/>
<line x1="210.9" y1="372.07" x2="212.7" y2="372.07" stroke="#a85c22" stroke-width="0.55" stroke-linecap="butt"/>
<line x1="213.04" y1="371.81" x2="214.84" y2="371.81" stroke="#a85c22" stroke-width="0.55" stroke-linecap="butt"/>
<line x1="215.18" y1="371.45" x2="216.98" y2="371.45" stroke="#a85c22" stroke-width="0.55" stroke-linecap="butt"/>
<line x1="217.32" y1="370.8" x2="219.12" y2="370.8" stroke="#a85c22" stroke-width="0.55" stroke-linecap="butt"/>
<line x1="219.46" y1="370.15" x2="221.26" y2="370.15" stroke="#a85c22" stroke-width="0.55" stroke-linecap="butt"/>
<line x1="221.6" y1="369.12" x2="223.4" y2="369.12" stroke="#a85c22" stroke-width="0.55" stroke-linecap="butt"/>
<line x1="223.74" y1="367.85" x2="225.54" y2="367.85" stroke="#a85c22" stroke-width="0.55" stroke-linecap="butt"/>
<line x1="225.88" y1="366.57" x2="227.68" y2="366.57" stroke="#a85c22" stroke-width="0.55" stroke-linecap="butt"/>
<line x1="228.02" y1="364.48" x2="229.82" y2="364.48" stroke="#a85c22" stroke-width="0.55" stroke-linecap="butt"/>
<line x1="230.16" y1="362.34" x2="231.96" y2="362.34" stroke="#a85c22" stroke-width="0.55" stroke-linecap="butt"/>
<line x1="232.3" y1="360.05" x2="234.1" y2="360.05" stroke="#a85c22" stroke-width="0.55" stroke-linecap="butt"/>
<line x1="234.44" y1="357.45" x2="236.24" y2="357.45" stroke="#a85c22" stroke-width="0.55" stroke-linecap="butt"/>
<line x1="236.58" y1="354.85" x2="238.38" y2="354.85" stroke="#a85c22" stroke-width="0.55" stroke-linecap="butt"/>
<line x1="238.72" y1="351.75" x2="240.52" y2="351.75" stroke="#a85c22" stroke-width="0.55" stroke-linecap="butt"/>
<line x1="240.86" y1="348.56" x2="242.66" y2="348.56" stroke="#a85c22" stroke-width="0.55" stroke-linecap="butt"/>
<line x1="243" y1="346.15" x2="244.8" y2="346.15" stroke="#a85c22" stroke-width="0.55" stroke-linecap="butt"/>
<line x1="245.14" y1="345.62" x2="246.94" y2="345.62" stroke="#a85c22" stroke-width="0.55" stroke-linecap="butt"/>
<line x1="247.28" y1="345.77" x2="249.08" y2="345.77" stroke="#a85c22" stroke-width="0.55" stroke-linecap="butt"/>
<line x1="249.42" y1="346.12" x2="251.22" y2="346.12" stroke="#a85c22" stroke-width="0.55" stroke-linecap="butt"/>
<line x1="251.56" y1="347.87" x2="253.36" y2="347.87" stroke="#a85c22" stroke-width="0.55" stroke-linecap="butt"/>
<line x1="253.7" y1="349.77" x2="255.5" y2="349.77" stroke="#a85c22" stroke-width="0.55" stroke-linecap="butt"/>
<line x1="255.84" y1="351.85" x2="257.64" y2="351.85" stroke="#a85c22" stroke-width="0.55" stroke-linecap="butt"/>
<circle cx="190.4" cy="369.4" r="0.8" fill="#a85c22"/>
<circle cx="192.54" cy="369.11" r="0.8" fill="#a85c22"/>
<circle cx="194.68" cy="368.83" r="0.8" fill="#a85c22"/>
<circle cx="196.82" cy="369.76" r="0.8" fill="#a85c22"/>
<circle cx="198.96" cy="370.83" r="0.8" fill="#a85c22"/>
<circle cx="201.1" cy="371.48" r="0.8" fill="#a85c22"/>
<circle cx="203.24" cy="372.06" r="0.8" fill="#a85c22"/>
<circle cx="205.38" cy="372.63" r="0.8" fill="#a85c22"/>
<circle cx="207.52" cy="372.61" r="0.8" fill="#a85c22"/>
<circle cx="209.66" cy="372.34" r="0.8" fill="#a85c22"/>
<circle cx="211.8" cy="372.07" r="0.8" fill="#a85c22"/>
<circle cx="213.94" cy="371.81" r="0.8" fill="#a85c22"/>
<circle cx="216.08" cy="371.45" r="0.8" fill="#a85c22"/>
<circle cx="218.22" cy="370.8" r="0.8" fill="#a85c22"/>
<circle cx="220.36" cy="370.15" r="0.8" fill="#a85c22"/>
<circle cx="222.5" cy="369.12" r="0.8" fill="#a85c22"/>
<circle cx="224.64" cy="367.85" r="0.8" fill="#a85c22"/>
<circle cx="226.78" cy="366.57" r="0.8" fill="#a85c22"/>
<circle cx="228.92" cy="364.48" r="0.8" fill="#a85c22"/>
<circle cx="231.06" cy="362.34" r="0.8" fill="#a85c22"/>
<circle cx="233.2" cy="360.05" r="0.8" fill="#a85c22"/>
<circle cx="235.34" cy="357.45" r="0.8" fill="#a85c22"/>
<circle cx="237.48" cy="354.85" r="0.8" fill="#a85c22"/>
<circle cx="239.62" cy="351.75" r="0.8" fill="#a85c22"/>
<circle cx="241.76" cy="348.56" r="0.8" fill="#a85c22"/>
<circle cx="243.9" cy="346.15" r="0.8" fill="#a85c22"/>
<circle cx="246.04" cy="345.62" r="0.8" fill="#a85c22"/>
<circle cx="248.18" cy="345.77" r="0.8" fill="#a85c22"/>
<circle cx="250.32" cy="346.12" r="0.8" fill="#a85c22"/>
<circle cx="252.46" cy="347.87" r="0.8" fill="#a85c22"/>
<circle cx="254.6" cy="349.77" r="0.8" fill="#a85c22"/>
<circle cx="256.74" cy="351.85" r="0.8" fill="#a85c22"/>
<line x1="226.6" y1="383.2" x2="252.4" y2="383.2" stroke="#111" stroke-width="1.5" stroke-linecap="butt"/>
<text x="239.6" y="381.7" font-family="Liberation Sans" font-size="5" font-weight="bold" font-style="normal" text-anchor="middle" fill="#111" stroke="#111" stroke-width="0.16">*</text>
<line x1="263.7" y1="360.6" x2="263.7" y2="365" stroke="#8a95a1" stroke-width="0.55" stroke-linecap="butt"/>
<line x1="265.84" y1="361.28" x2="265.84" y2="365.68" stroke="#8a95a1" stroke-width="0.55" stroke-linecap="butt"/>
<line x1="267.98" y1="361.95" x2="267.98" y2="366.35" stroke="#8a95a1" stroke-width="0.55" stroke-linecap="butt"/>
<line x1="270.12" y1="362.51" x2="270.12" y2="366.91" stroke="#8a95a1" stroke-width="0.55" stroke-linecap="butt"/>
<line x1="272.26" y1="362.85" x2="272.26" y2="367.25" stroke="#8a95a1" stroke-width="0.55" stroke-linecap="butt"/>
<line x1="274.4" y1="363.19" x2="274.4" y2="367.59" stroke="#8a95a1" stroke-width="0.55" stroke-linecap="butt"/>
<line x1="276.54" y1="362.9" x2="276.54" y2="367.3" stroke="#8a95a1" stroke-width="0.55" stroke-linecap="butt"/>
<line x1="278.68" y1="362.3" x2="278.68" y2="366.7" stroke="#8a95a1" stroke-width="0.55" stroke-linecap="butt"/>
<line x1="280.82" y1="361.69" x2="280.82" y2="366.09" stroke="#8a95a1" stroke-width="0.55" stroke-linecap="butt"/>
<line x1="282.96" y1="360.81" x2="282.96" y2="365.21" stroke="#8a95a1" stroke-width="0.55" stroke-linecap="butt"/>
<line x1="285.1" y1="359.93" x2="285.1" y2="364.33" stroke="#8a95a1" stroke-width="0.55" stroke-linecap="butt"/>
<line x1="287.24" y1="358.57" x2="287.24" y2="362.97" stroke="#8a95a1" stroke-width="0.55" stroke-linecap="butt"/>
<line x1="289.38" y1="356.47" x2="289.38" y2="360.87" stroke="#8a95a1" stroke-width="0.55" stroke-linecap="butt"/>
<line x1="291.52" y1="354.37" x2="291.52" y2="358.77" stroke="#8a95a1" stroke-width="0.55" stroke-linecap="butt"/>
<line x1="293.66" y1="351.61" x2="293.66" y2="356.01" stroke="#8a95a1" stroke-width="0.55" stroke-linecap="butt"/>
<line x1="295.8" y1="348.61" x2="295.8" y2="353.01" stroke="#8a95a1" stroke-width="0.55" stroke-linecap="butt"/>
<line x1="297.94" y1="345.6" x2="297.94" y2="350" stroke="#8a95a1" stroke-width="0.55" stroke-linecap="butt"/>
<line x1="300.08" y1="342.6" x2="300.08" y2="347" stroke="#8a95a1" stroke-width="0.55" stroke-linecap="butt"/>
<line x1="302.22" y1="339.6" x2="302.22" y2="344" stroke="#8a95a1" stroke-width="0.55" stroke-linecap="butt"/>
<line x1="304.36" y1="336.43" x2="304.36" y2="340.83" stroke="#8a95a1" stroke-width="0.55" stroke-linecap="butt"/>
<line x1="306.5" y1="333.01" x2="306.5" y2="337.41" stroke="#8a95a1" stroke-width="0.55" stroke-linecap="butt"/>
<line x1="308.64" y1="329.59" x2="308.64" y2="333.99" stroke="#8a95a1" stroke-width="0.55" stroke-linecap="butt"/>
<line x1="310.78" y1="326.61" x2="310.78" y2="331.01" stroke="#8a95a1" stroke-width="0.55" stroke-linecap="butt"/>
<line x1="312.92" y1="324.3" x2="312.92" y2="328.7" stroke="#8a95a1" stroke-width="0.55" stroke-linecap="butt"/>
<line x1="315.06" y1="325" x2="315.06" y2="329.4" stroke="#8a95a1" stroke-width="0.55" stroke-linecap="butt"/>
<line x1="317.2" y1="327.39" x2="317.2" y2="331.79" stroke="#8a95a1" stroke-width="0.55" stroke-linecap="butt"/>
<line x1="319.34" y1="331.11" x2="319.34" y2="335.51" stroke="#8a95a1" stroke-width="0.55" stroke-linecap="butt"/>
<line x1="321.48" y1="335.08" x2="321.48" y2="339.48" stroke="#8a95a1" stroke-width="0.55" stroke-linecap="butt"/>
<line x1="323.62" y1="339.41" x2="323.62" y2="343.81" stroke="#8a95a1" stroke-width="0.55" stroke-linecap="butt"/>
<line x1="325.76" y1="343.71" x2="325.76" y2="348.11" stroke="#8a95a1" stroke-width="0.55" stroke-linecap="butt"/>
<line x1="327.9" y1="347.94" x2="327.9" y2="352.34" stroke="#8a95a1" stroke-width="0.55" stroke-linecap="butt"/>
<polyline fill="none" stroke="#7f8b98" stroke-width="0.8" stroke-linejoin="round" stroke-linecap="round" points="263.7,362.8 269.4,364.6 275.1,365.5 280.8,363.9 286.4,361.6 292.1,356 297.8,348 303.5,340 309.2,330.9 312.6,326.4 316,327.5 320.6,335.5 325.1,344.6 329.7,353.7"/>
<line x1="262.9" y1="362.8" x2="264.5" y2="362.8" stroke="#36404b" stroke-width="0.55" stroke-linecap="butt"/>
<line x1="265.04" y1="363.48" x2="266.64" y2="363.48" stroke="#36404b" stroke-width="0.55" stroke-linecap="butt"/>
<line x1="267.18" y1="364.15" x2="268.78" y2="364.15" stroke="#36404b" stroke-width="0.55" stroke-linecap="butt"/>
<line x1="269.32" y1="364.71" x2="270.92" y2="364.71" stroke="#36404b" stroke-width="0.55" stroke-linecap="butt"/>
<line x1="271.46" y1="365.05" x2="273.06" y2="365.05" stroke="#36404b" stroke-width="0.55" stroke-linecap="butt"/>
<line x1="273.6" y1="365.39" x2="275.2" y2="365.39" stroke="#36404b" stroke-width="0.55" stroke-linecap="butt"/>
<line x1="275.74" y1="365.1" x2="277.34" y2="365.1" stroke="#36404b" stroke-width="0.55" stroke-linecap="butt"/>
<line x1="277.88" y1="364.5" x2="279.48" y2="364.5" stroke="#36404b" stroke-width="0.55" stroke-linecap="butt"/>
<line x1="280.02" y1="363.89" x2="281.62" y2="363.89" stroke="#36404b" stroke-width="0.55" stroke-linecap="butt"/>
<line x1="282.16" y1="363.01" x2="283.76" y2="363.01" stroke="#36404b" stroke-width="0.55" stroke-linecap="butt"/>
<line x1="284.3" y1="362.13" x2="285.9" y2="362.13" stroke="#36404b" stroke-width="0.55" stroke-linecap="butt"/>
<line x1="286.44" y1="360.77" x2="288.04" y2="360.77" stroke="#36404b" stroke-width="0.55" stroke-linecap="butt"/>
<line x1="288.58" y1="358.67" x2="290.18" y2="358.67" stroke="#36404b" stroke-width="0.55" stroke-linecap="butt"/>
<line x1="290.72" y1="356.57" x2="292.32" y2="356.57" stroke="#36404b" stroke-width="0.55" stroke-linecap="butt"/>
<line x1="292.86" y1="353.81" x2="294.46" y2="353.81" stroke="#36404b" stroke-width="0.55" stroke-linecap="butt"/>
<line x1="295" y1="350.81" x2="296.6" y2="350.81" stroke="#36404b" stroke-width="0.55" stroke-linecap="butt"/>
<line x1="297.14" y1="347.8" x2="298.74" y2="347.8" stroke="#36404b" stroke-width="0.55" stroke-linecap="butt"/>
<line x1="299.28" y1="344.8" x2="300.88" y2="344.8" stroke="#36404b" stroke-width="0.55" stroke-linecap="butt"/>
<line x1="301.42" y1="341.8" x2="303.02" y2="341.8" stroke="#36404b" stroke-width="0.55" stroke-linecap="butt"/>
<line x1="303.56" y1="338.63" x2="305.16" y2="338.63" stroke="#36404b" stroke-width="0.55" stroke-linecap="butt"/>
<line x1="305.7" y1="335.21" x2="307.3" y2="335.21" stroke="#36404b" stroke-width="0.55" stroke-linecap="butt"/>
<line x1="307.84" y1="331.79" x2="309.44" y2="331.79" stroke="#36404b" stroke-width="0.55" stroke-linecap="butt"/>
<line x1="309.98" y1="328.81" x2="311.58" y2="328.81" stroke="#36404b" stroke-width="0.55" stroke-linecap="butt"/>
<line x1="312.12" y1="326.5" x2="313.72" y2="326.5" stroke="#36404b" stroke-width="0.55" stroke-linecap="butt"/>
<line x1="314.26" y1="327.2" x2="315.86" y2="327.2" stroke="#36404b" stroke-width="0.55" stroke-linecap="butt"/>
<line x1="316.4" y1="329.59" x2="318" y2="329.59" stroke="#36404b" stroke-width="0.55" stroke-linecap="butt"/>
<line x1="318.54" y1="333.31" x2="320.14" y2="333.31" stroke="#36404b" stroke-width="0.55" stroke-linecap="butt"/>
<line x1="320.68" y1="337.28" x2="322.28" y2="337.28" stroke="#36404b" stroke-width="0.55" stroke-linecap="butt"/>
<line x1="322.82" y1="341.61" x2="324.42" y2="341.61" stroke="#36404b" stroke-width="0.55" stroke-linecap="butt"/>
<line x1="324.96" y1="345.91" x2="326.56" y2="345.91" stroke="#36404b" stroke-width="0.55" stroke-linecap="butt"/>
<line x1="327.1" y1="350.14" x2="328.7" y2="350.14" stroke="#36404b" stroke-width="0.55" stroke-linecap="butt"/>
<circle cx="263.7" cy="362.8" r="0.65" fill="#36404b"/>
<circle cx="265.84" cy="363.48" r="0.65" fill="#36404b"/>
<circle cx="267.98" cy="364.15" r="0.65" fill="#36404b"/>
<circle cx="270.12" cy="364.71" r="0.65" fill="#36404b"/>
<circle cx="272.26" cy="365.05" r="0.65" fill="#36404b"/>
<circle cx="274.4" cy="365.39" r="0.65" fill="#36404b"/>
<circle cx="276.54" cy="365.1" r="0.65" fill="#36404b"/>
<circle cx="278.68" cy="364.5" r="0.65" fill="#36404b"/>
<circle cx="280.82" cy="363.89" r="0.65" fill="#36404b"/>
<circle cx="282.96" cy="363.01" r="0.65" fill="#36404b"/>
<circle cx="285.1" cy="362.13" r="0.65" fill="#36404b"/>
<circle cx="287.24" cy="360.77" r="0.65" fill="#36404b"/>
<circle cx="289.38" cy="358.67" r="0.65" fill="#36404b"/>
<circle cx="291.52" cy="356.57" r="0.65" fill="#36404b"/>
<circle cx="293.66" cy="353.81" r="0.65" fill="#36404b"/>
<circle cx="295.8" cy="350.81" r="0.65" fill="#36404b"/>
<circle cx="297.94" cy="347.8" r="0.65" fill="#36404b"/>
<circle cx="300.08" cy="344.8" r="0.65" fill="#36404b"/>
<circle cx="302.22" cy="341.8" r="0.65" fill="#36404b"/>
<circle cx="304.36" cy="338.63" r="0.65" fill="#36404b"/>
<circle cx="306.5" cy="335.21" r="0.65" fill="#36404b"/>
<circle cx="308.64" cy="331.79" r="0.65" fill="#36404b"/>
<circle cx="310.78" cy="328.81" r="0.65" fill="#36404b"/>
<circle cx="312.92" cy="326.5" r="0.65" fill="#36404b"/>
<circle cx="315.06" cy="327.2" r="0.65" fill="#36404b"/>
<circle cx="317.2" cy="329.59" r="0.65" fill="#36404b"/>
<circle cx="319.34" cy="333.31" r="0.65" fill="#36404b"/>
<circle cx="321.48" cy="337.28" r="0.65" fill="#36404b"/>
<circle cx="323.62" cy="341.61" r="0.65" fill="#36404b"/>
<circle cx="325.76" cy="345.91" r="0.65" fill="#36404b"/>
<circle cx="327.9" cy="350.14" r="0.65" fill="#36404b"/>
<line x1="263.7" y1="361.1" x2="263.7" y2="366.7" stroke="#eeae78" stroke-width="0.55" stroke-linecap="butt"/>
<line x1="265.84" y1="361.96" x2="265.84" y2="367.56" stroke="#eeae78" stroke-width="0.55" stroke-linecap="butt"/>
<line x1="267.98" y1="362.83" x2="267.98" y2="368.43" stroke="#eeae78" stroke-width="0.55" stroke-linecap="butt"/>
<line x1="270.12" y1="363.49" x2="270.12" y2="369.09" stroke="#eeae78" stroke-width="0.55" stroke-linecap="butt"/>
<line x1="272.26" y1="363.75" x2="272.26" y2="369.35" stroke="#eeae78" stroke-width="0.55" stroke-linecap="butt"/>
<line x1="274.4" y1="364.01" x2="274.4" y2="369.61" stroke="#eeae78" stroke-width="0.55" stroke-linecap="butt"/>
<line x1="276.54" y1="363.52" x2="276.54" y2="369.12" stroke="#eeae78" stroke-width="0.55" stroke-linecap="butt"/>
<line x1="278.68" y1="362.66" x2="278.68" y2="368.26" stroke="#eeae78" stroke-width="0.55" stroke-linecap="butt"/>
<line x1="280.82" y1="361.79" x2="280.82" y2="367.39" stroke="#eeae78" stroke-width="0.55" stroke-linecap="butt"/>
<line x1="282.96" y1="360.64" x2="282.96" y2="366.24" stroke="#eeae78" stroke-width="0.55" stroke-linecap="butt"/>
<line x1="285.1" y1="359.5" x2="285.1" y2="365.1" stroke="#eeae78" stroke-width="0.55" stroke-linecap="butt"/>
<line x1="287.24" y1="357.97" x2="287.24" y2="363.57" stroke="#eeae78" stroke-width="0.55" stroke-linecap="butt"/>
<line x1="289.38" y1="355.87" x2="289.38" y2="361.47" stroke="#eeae78" stroke-width="0.55" stroke-linecap="butt"/>
<line x1="291.52" y1="353.77" x2="291.52" y2="359.37" stroke="#eeae78" stroke-width="0.55" stroke-linecap="butt"/>
<line x1="293.66" y1="351.64" x2="293.66" y2="357.24" stroke="#eeae78" stroke-width="0.55" stroke-linecap="butt"/>
<line x1="295.8" y1="349.5" x2="295.8" y2="355.1" stroke="#eeae78" stroke-width="0.55" stroke-linecap="butt"/>
<line x1="297.94" y1="347.43" x2="297.94" y2="353.03" stroke="#eeae78" stroke-width="0.55" stroke-linecap="butt"/>
<line x1="300.08" y1="346.3" x2="300.08" y2="351.9" stroke="#eeae78" stroke-width="0.55" stroke-linecap="butt"/>
<line x1="302.22" y1="345.17" x2="302.22" y2="350.77" stroke="#eeae78" stroke-width="0.55" stroke-linecap="butt"/>
<line x1="304.36" y1="344.26" x2="304.36" y2="349.86" stroke="#eeae78" stroke-width="0.55" stroke-linecap="butt"/>
<line x1="306.5" y1="343.66" x2="306.5" y2="349.26" stroke="#eeae78" stroke-width="0.55" stroke-linecap="butt"/>
<line x1="308.64" y1="343.06" x2="308.64" y2="348.66" stroke="#eeae78" stroke-width="0.55" stroke-linecap="butt"/>
<line x1="310.78" y1="341.21" x2="310.78" y2="346.81" stroke="#eeae78" stroke-width="0.55" stroke-linecap="butt"/>
<line x1="312.92" y1="338.92" x2="312.92" y2="344.52" stroke="#eeae78" stroke-width="0.55" stroke-linecap="butt"/>
<line x1="315.06" y1="336.86" x2="315.06" y2="342.46" stroke="#eeae78" stroke-width="0.55" stroke-linecap="butt"/>
<line x1="317.2" y1="337.62" x2="317.2" y2="343.22" stroke="#eeae78" stroke-width="0.55" stroke-linecap="butt"/>
<line x1="319.34" y1="338.38" x2="319.34" y2="343.98" stroke="#eeae78" stroke-width="0.55" stroke-linecap="butt"/>
<line x1="321.48" y1="340.48" x2="321.48" y2="346.08" stroke="#eeae78" stroke-width="0.55" stroke-linecap="butt"/>
<line x1="323.62" y1="342.62" x2="323.62" y2="348.22" stroke="#eeae78" stroke-width="0.55" stroke-linecap="butt"/>
<line x1="325.76" y1="345.08" x2="325.76" y2="350.68" stroke="#eeae78" stroke-width="0.55" stroke-linecap="butt"/>
<line x1="327.9" y1="348.24" x2="327.9" y2="353.84" stroke="#eeae78" stroke-width="0.55" stroke-linecap="butt"/>
<polyline fill="none" stroke="#eb9a55" stroke-width="1.3" stroke-linejoin="round" stroke-linecap="round" points="263.7,363.9 269.4,366.2 275.1,366.9 280.8,364.6 286.4,361.6 292.1,356 297.8,350.3 303.5,347.3 309.2,345.7 314.9,339.6 319.4,341.2 325.1,346.9 329.7,353.7"/>
<line x1="262.8" y1="363.9" x2="264.6" y2="363.9" stroke="#a85c22" stroke-width="0.55" stroke-linecap="butt"/>
<line x1="264.94" y1="364.76" x2="266.74" y2="364.76" stroke="#a85c22" stroke-width="0.55" stroke-linecap="butt"/>
<line x1="267.08" y1="365.63" x2="268.88" y2="365.63" stroke="#a85c22" stroke-width="0.55" stroke-linecap="butt"/>
<line x1="269.22" y1="366.29" x2="271.02" y2="366.29" stroke="#a85c22" stroke-width="0.55" stroke-linecap="butt"/>
<line x1="271.36" y1="366.55" x2="273.16" y2="366.55" stroke="#a85c22" stroke-width="0.55" stroke-linecap="butt"/>
<line x1="273.5" y1="366.81" x2="275.3" y2="366.81" stroke="#a85c22" stroke-width="0.55" stroke-linecap="butt"/>
<line x1="275.64" y1="366.32" x2="277.44" y2="366.32" stroke="#a85c22" stroke-width="0.55" stroke-linecap="butt"/>
<line x1="277.78" y1="365.46" x2="279.58" y2="365.46" stroke="#a85c22" stroke-width="0.55" stroke-linecap="butt"/>
<line x1="279.92" y1="364.59" x2="281.72" y2="364.59" stroke="#a85c22" stroke-width="0.55" stroke-linecap="butt"/>
<line x1="282.06" y1="363.44" x2="283.86" y2="363.44" stroke="#a85c22" stroke-width="0.55" stroke-linecap="butt"/>
<line x1="284.2" y1="362.3" x2="286" y2="362.3" stroke="#a85c22" stroke-width="0.55" stroke-linecap="butt"/>
<line x1="286.34" y1="360.77" x2="288.14" y2="360.77" stroke="#a85c22" stroke-width="0.55" stroke-linecap="butt"/>
<line x1="288.48" y1="358.67" x2="290.28" y2="358.67" stroke="#a85c22" stroke-width="0.55" stroke-linecap="butt"/>
<line x1="290.62" y1="356.57" x2="292.42" y2="356.57" stroke="#a85c22" stroke-width="0.55" stroke-linecap="butt"/>
<line x1="292.76" y1="354.44" x2="294.56" y2="354.44" stroke="#a85c22" stroke-width="0.55" stroke-linecap="butt"/>
<line x1="294.9" y1="352.3" x2="296.7" y2="352.3" stroke="#a85c22" stroke-width="0.55" stroke-linecap="butt"/>
<line x1="297.04" y1="350.23" x2="298.84" y2="350.23" stroke="#a85c22" stroke-width="0.55" stroke-linecap="butt"/>
<line x1="299.18" y1="349.1" x2="300.98" y2="349.1" stroke="#a85c22" stroke-width="0.55" stroke-linecap="butt"/>
<line x1="301.32" y1="347.97" x2="303.12" y2="347.97" stroke="#a85c22" stroke-width="0.55" stroke-linecap="butt"/>
<line x1="303.46" y1="347.06" x2="305.26" y2="347.06" stroke="#a85c22" stroke-width="0.55" stroke-linecap="butt"/>
<line x1="305.6" y1="346.46" x2="307.4" y2="346.46" stroke="#a85c22" stroke-width="0.55" stroke-linecap="butt"/>
<line x1="307.74" y1="345.86" x2="309.54" y2="345.86" stroke="#a85c22" stroke-width="0.55" stroke-linecap="butt"/>
<line x1="309.88" y1="344.01" x2="311.68" y2="344.01" stroke="#a85c22" stroke-width="0.55" stroke-linecap="butt"/>
<line x1="312.02" y1="341.72" x2="313.82" y2="341.72" stroke="#a85c22" stroke-width="0.55" stroke-linecap="butt"/>
<line x1="314.16" y1="339.66" x2="315.96" y2="339.66" stroke="#a85c22" stroke-width="0.55" stroke-linecap="butt"/>
<line x1="316.3" y1="340.42" x2="318.1" y2="340.42" stroke="#a85c22" stroke-width="0.55" stroke-linecap="butt"/>
<line x1="318.44" y1="341.18" x2="320.24" y2="341.18" stroke="#a85c22" stroke-width="0.55" stroke-linecap="butt"/>
<line x1="320.58" y1="343.28" x2="322.38" y2="343.28" stroke="#a85c22" stroke-width="0.55" stroke-linecap="butt"/>
<line x1="322.72" y1="345.42" x2="324.52" y2="345.42" stroke="#a85c22" stroke-width="0.55" stroke-linecap="butt"/>
<line x1="324.86" y1="347.88" x2="326.66" y2="347.88" stroke="#a85c22" stroke-width="0.55" stroke-linecap="butt"/>
<line x1="327" y1="351.04" x2="328.8" y2="351.04" stroke="#a85c22" stroke-width="0.55" stroke-linecap="butt"/>
<circle cx="263.7" cy="363.9" r="0.8" fill="#a85c22"/>
<circle cx="265.84" cy="364.76" r="0.8" fill="#a85c22"/>
<circle cx="267.98" cy="365.63" r="0.8" fill="#a85c22"/>
<circle cx="270.12" cy="366.29" r="0.8" fill="#a85c22"/>
<circle cx="272.26" cy="366.55" r="0.8" fill="#a85c22"/>
<circle cx="274.4" cy="366.81" r="0.8" fill="#a85c22"/>
<circle cx="276.54" cy="366.32" r="0.8" fill="#a85c22"/>
<circle cx="278.68" cy="365.46" r="0.8" fill="#a85c22"/>
<circle cx="280.82" cy="364.59" r="0.8" fill="#a85c22"/>
<circle cx="282.96" cy="363.44" r="0.8" fill="#a85c22"/>
<circle cx="285.1" cy="362.3" r="0.8" fill="#a85c22"/>
<circle cx="287.24" cy="360.77" r="0.8" fill="#a85c22"/>
<circle cx="289.38" cy="358.67" r="0.8" fill="#a85c22"/>
<circle cx="291.52" cy="356.57" r="0.8" fill="#a85c22"/>
<circle cx="293.66" cy="354.44" r="0.8" fill="#a85c22"/>
<circle cx="295.8" cy="352.3" r="0.8" fill="#a85c22"/>
<circle cx="297.94" cy="350.23" r="0.8" fill="#a85c22"/>
<circle cx="300.08" cy="349.1" r="0.8" fill="#a85c22"/>
<circle cx="302.22" cy="347.97" r="0.8" fill="#a85c22"/>
<circle cx="304.36" cy="347.06" r="0.8" fill="#a85c22"/>
<circle cx="306.5" cy="346.46" r="0.8" fill="#a85c22"/>
<circle cx="308.64" cy="345.86" r="0.8" fill="#a85c22"/>
<circle cx="310.78" cy="344.01" r="0.8" fill="#a85c22"/>
<circle cx="312.92" cy="341.72" r="0.8" fill="#a85c22"/>
<circle cx="315.06" cy="339.66" r="0.8" fill="#a85c22"/>
<circle cx="317.2" cy="340.42" r="0.8" fill="#a85c22"/>
<circle cx="319.34" cy="341.18" r="0.8" fill="#a85c22"/>
<circle cx="321.48" cy="343.28" r="0.8" fill="#a85c22"/>
<circle cx="323.62" cy="345.42" r="0.8" fill="#a85c22"/>
<circle cx="325.76" cy="347.88" r="0.8" fill="#a85c22"/>
<circle cx="327.9" cy="351.04" r="0.8" fill="#a85c22"/>
<line x1="306" y1="382.3" x2="319.6" y2="382.3" stroke="#111" stroke-width="1.5" stroke-linecap="butt"/>
<text x="313" y="382.4" font-family="Liberation Sans" font-size="5" font-weight="bold" font-style="normal" text-anchor="middle" fill="#111" stroke="#111" stroke-width="0.16">*</text>
<line x1="305.6" y1="288" x2="305.6" y2="310.5" stroke="#cfcfcf" stroke-width="0.6" stroke-linecap="butt"/>
<line x1="318.8" y1="288" x2="318.8" y2="310.5" stroke="#cfcfcf" stroke-width="0.6" stroke-linecap="butt"/>
<line x1="305.6" y1="311" x2="334" y2="311" stroke="#dedede" stroke-width="0.6" stroke-linecap="butt"/>
<polyline fill="none" stroke="#bf9f88" stroke-width="1.0" stroke-linejoin="round" stroke-linecap="round" points="305.6,308 305.87,308.12 306.23,308.3 306.66,308.5 307.13,308.7 307.62,308.88 308.1,309 308.59,309.11 309.11,309.23 309.65,309.32 310.19,309.34 310.71,309.25 311.2,309 311.65,308.56 312.07,307.96 312.48,307.24 312.88,306.46 313.28,305.66 313.7,304.9 314.14,304.09 314.6,303.18 315.06,302.25 315.51,301.4 315.93,300.72 316.3,300.3 316.61,300.16 316.88,300.23 317.12,300.48 317.34,300.84 317.56,301.3 317.8,301.8 318.04,302.42 318.26,303.21 318.48,304.09 318.72,304.97 318.99,305.77 319.3,306.4 319.67,306.87 320.09,307.25 320.54,307.55 321,307.77 321.46,307.92 321.9,308 322.32,308 322.74,307.92 323.15,307.76 323.56,307.55 323.98,307.29 324.4,307 324.82,306.67 325.24,306.27 325.67,305.83 326.1,305.36 326.54,304.88 327,304.4 327.48,303.86 327.99,303.23 328.5,302.59 329.01,302 329.52,301.55 330,301.3 330.49,301.31 330.99,301.54 331.49,301.91 331.94,302.31 332.32,302.67 332.6,302.9"/>
</svg></body></html>
